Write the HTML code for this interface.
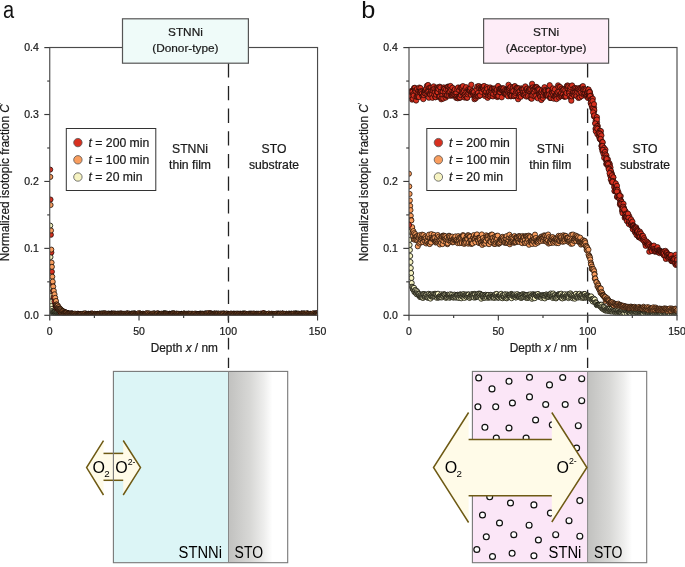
<!DOCTYPE html>
<html><head><meta charset="utf-8"><style>
html,body{margin:0;padding:0;background:#fff;}
svg{display:block;}
text{font-family:"Liberation Sans",Arial,sans-serif;fill:#1a1a1a;stroke:#1a1a1a;stroke-width:0.22px;}
.tk{font-size:10.5px;}
.lb{font-size:12.2px;}
.hd{font-size:11.8px;}
.big{font-size:23px;fill:#111;stroke:none;}
.dg{font-size:14.5px;fill:#000;stroke:none;}
</style></head><body>
<svg width="685" height="567" viewBox="0 0 685 567">
<defs>
<linearGradient id="gr" x1="0" x2="1" y1="0" y2="0">
<stop offset="0" stop-color="#c1c1bf"/><stop offset="0.5" stop-color="#d8d8d6"/><stop offset="0.8" stop-color="#ededec"/><stop offset="1" stop-color="#ffffff"/>
</linearGradient>
</defs>
<text x="3" y="18" class="big" transform="translate(3,0) scale(0.87,1) translate(-3,0)">a</text>
<text x="361.3" y="17.6" class="big" transform="translate(361.3,0) scale(1.1,1) translate(-361.3,0)">b</text>

<!-- dashed lines -->
<line x1="228.5" y1="63.3" x2="228.5" y2="368" stroke="#222" stroke-width="1.3" stroke-dasharray="14.3 8.35"/>
<line x1="587.6" y1="63.3" x2="587.6" y2="368" stroke="#222" stroke-width="1.3" stroke-dasharray="14.3 8.35"/>

<clipPath id="ca"><rect x="50" y="40" width="268" height="275.3"/></clipPath>
<g clip-path="url(#ca)"><g fill="#f6f3c2" stroke="#16160e" stroke-width="0.85">
<circle cx="50.2" cy="225.6" r="2.55"/>
<circle cx="50.5" cy="257.0" r="2.55"/>
<circle cx="50.7" cy="275.0" r="2.55"/>
<circle cx="50.9" cy="288.0" r="2.55"/>
<circle cx="51.0" cy="296.0" r="2.55"/>
<circle cx="51.2" cy="302.0" r="2.55"/>
<circle cx="51.4" cy="306.0" r="2.55"/>
<circle cx="51.7" cy="309.0" r="2.55"/>
<circle cx="52.0" cy="311.0" r="2.55"/>
<circle cx="52.5" cy="312.5" r="2.55"/>
<circle cx="52.8" cy="312.3" r="2.55"/>
<circle cx="53.1" cy="312.1" r="2.55"/>
<circle cx="53.4" cy="313.2" r="2.55"/>
<circle cx="53.7" cy="312.8" r="2.55"/>
<circle cx="54.0" cy="312.6" r="2.55"/>
<circle cx="54.3" cy="312.3" r="2.55"/>
<circle cx="54.6" cy="312.2" r="2.55"/>
<circle cx="54.9" cy="312.8" r="2.55"/>
<circle cx="55.2" cy="312.1" r="2.55"/>
<circle cx="55.5" cy="312.9" r="2.55"/>
<circle cx="55.8" cy="313.1" r="2.55"/>
<circle cx="56.1" cy="312.5" r="2.55"/>
<circle cx="56.4" cy="313.8" r="2.55"/>
<circle cx="56.7" cy="312.8" r="2.55"/>
<circle cx="57.0" cy="312.7" r="2.55"/>
<circle cx="57.3" cy="312.8" r="2.55"/>
<circle cx="57.6" cy="313.6" r="2.55"/>
<circle cx="57.9" cy="313.4" r="2.55"/>
<circle cx="58.2" cy="313.6" r="2.55"/>
<circle cx="58.5" cy="314.6" r="2.55"/>
<circle cx="58.8" cy="313.6" r="2.55"/>
<circle cx="59.1" cy="313.0" r="2.55"/>
<circle cx="59.4" cy="314.1" r="2.55"/>
<circle cx="59.7" cy="313.3" r="2.55"/>
<circle cx="60.0" cy="313.3" r="2.55"/>
<circle cx="60.3" cy="313.3" r="2.55"/>
<circle cx="60.6" cy="314.0" r="2.55"/>
<circle cx="60.9" cy="314.8" r="2.55"/>
<circle cx="61.2" cy="314.8" r="2.55"/>
<circle cx="61.5" cy="314.1" r="2.55"/>
<circle cx="61.8" cy="313.9" r="2.55"/>
<circle cx="62.1" cy="314.6" r="2.55"/>
<circle cx="62.4" cy="314.3" r="2.55"/>
<circle cx="62.7" cy="314.3" r="2.55"/>
<circle cx="63.0" cy="314.4" r="2.55"/>
<circle cx="63.3" cy="314.3" r="2.55"/>
<circle cx="63.6" cy="314.0" r="2.55"/>
<circle cx="63.9" cy="314.0" r="2.55"/>
<circle cx="64.2" cy="313.3" r="2.55"/>
<circle cx="64.5" cy="313.1" r="2.55"/>
<circle cx="64.8" cy="314.8" r="2.55"/>
<circle cx="65.1" cy="314.3" r="2.55"/>
<circle cx="65.4" cy="314.0" r="2.55"/>
<circle cx="65.7" cy="313.1" r="2.55"/>
<circle cx="66.0" cy="313.2" r="2.55"/>
<circle cx="66.3" cy="314.0" r="2.55"/>
<circle cx="66.6" cy="314.1" r="2.55"/>
<circle cx="66.9" cy="314.0" r="2.55"/>
<circle cx="67.2" cy="313.8" r="2.55"/>
<circle cx="67.5" cy="314.8" r="2.55"/>
<circle cx="67.8" cy="314.8" r="2.55"/>
<circle cx="68.1" cy="313.4" r="2.55"/>
<circle cx="68.4" cy="314.3" r="2.55"/>
<circle cx="68.7" cy="313.8" r="2.55"/>
<circle cx="69.0" cy="314.1" r="2.55"/>
<circle cx="69.3" cy="314.9" r="2.55"/>
<circle cx="69.6" cy="314.4" r="2.55"/>
<circle cx="69.9" cy="315.0" r="2.55"/>
<circle cx="70.2" cy="314.4" r="2.55"/>
<circle cx="70.5" cy="314.3" r="2.55"/>
<circle cx="70.8" cy="314.4" r="2.55"/>
<circle cx="71.1" cy="314.9" r="2.55"/>
<circle cx="71.4" cy="314.6" r="2.55"/>
<circle cx="71.7" cy="313.9" r="2.55"/>
<circle cx="72.0" cy="313.7" r="2.55"/>
<circle cx="72.3" cy="314.8" r="2.55"/>
<circle cx="72.6" cy="315.4" r="2.55"/>
<circle cx="72.9" cy="314.4" r="2.55"/>
<circle cx="73.2" cy="314.7" r="2.55"/>
<circle cx="73.5" cy="313.9" r="2.55"/>
<circle cx="73.8" cy="315.3" r="2.55"/>
<circle cx="74.1" cy="314.2" r="2.55"/>
<circle cx="74.4" cy="314.7" r="2.55"/>
<circle cx="74.7" cy="314.3" r="2.55"/>
<circle cx="75.0" cy="315.0" r="2.55"/>
<circle cx="75.3" cy="315.2" r="2.55"/>
<circle cx="75.6" cy="314.5" r="2.55"/>
<circle cx="75.9" cy="314.6" r="2.55"/>
<circle cx="76.2" cy="315.0" r="2.55"/>
<circle cx="76.5" cy="314.8" r="2.55"/>
<circle cx="76.8" cy="314.0" r="2.55"/>
<circle cx="77.1" cy="314.1" r="2.55"/>
<circle cx="77.4" cy="315.2" r="2.55"/>
<circle cx="77.7" cy="315.3" r="2.55"/>
<circle cx="78.0" cy="314.5" r="2.55"/>
<circle cx="78.3" cy="314.5" r="2.55"/>
<circle cx="78.6" cy="314.5" r="2.55"/>
<circle cx="78.9" cy="314.9" r="2.55"/>
<circle cx="79.2" cy="314.9" r="2.55"/>
<circle cx="79.5" cy="315.0" r="2.55"/>
<circle cx="79.8" cy="314.7" r="2.55"/>
<circle cx="80.1" cy="314.7" r="2.55"/>
<circle cx="80.4" cy="314.6" r="2.55"/>
<circle cx="80.7" cy="314.5" r="2.55"/>
<circle cx="81.0" cy="315.2" r="2.55"/>
<circle cx="81.3" cy="315.4" r="2.55"/>
<circle cx="81.6" cy="314.8" r="2.55"/>
<circle cx="81.9" cy="314.0" r="2.55"/>
<circle cx="82.2" cy="314.1" r="2.55"/>
<circle cx="82.5" cy="314.9" r="2.55"/>
<circle cx="82.8" cy="315.2" r="2.55"/>
<circle cx="83.1" cy="313.8" r="2.55"/>
<circle cx="83.4" cy="315.3" r="2.55"/>
<circle cx="83.7" cy="314.7" r="2.55"/>
<circle cx="84.0" cy="315.4" r="2.55"/>
<circle cx="84.3" cy="314.1" r="2.55"/>
<circle cx="84.6" cy="314.5" r="2.55"/>
<circle cx="84.9" cy="314.9" r="2.55"/>
<circle cx="85.2" cy="314.6" r="2.55"/>
<circle cx="85.5" cy="315.0" r="2.55"/>
<circle cx="85.8" cy="313.7" r="2.55"/>
<circle cx="86.1" cy="314.4" r="2.55"/>
<circle cx="86.4" cy="313.9" r="2.55"/>
<circle cx="86.7" cy="314.3" r="2.55"/>
<circle cx="87.0" cy="314.8" r="2.55"/>
<circle cx="87.3" cy="314.8" r="2.55"/>
<circle cx="87.6" cy="315.0" r="2.55"/>
<circle cx="87.9" cy="315.2" r="2.55"/>
<circle cx="88.2" cy="315.0" r="2.55"/>
<circle cx="88.5" cy="313.7" r="2.55"/>
<circle cx="88.8" cy="315.2" r="2.55"/>
<circle cx="89.1" cy="314.8" r="2.55"/>
<circle cx="89.4" cy="314.1" r="2.55"/>
<circle cx="89.7" cy="314.5" r="2.55"/>
<circle cx="90.0" cy="314.8" r="2.55"/>
<circle cx="90.3" cy="314.0" r="2.55"/>
<circle cx="90.6" cy="313.9" r="2.55"/>
<circle cx="90.9" cy="315.1" r="2.55"/>
<circle cx="91.2" cy="314.3" r="2.55"/>
<circle cx="91.5" cy="314.1" r="2.55"/>
<circle cx="91.8" cy="314.3" r="2.55"/>
<circle cx="92.1" cy="314.1" r="2.55"/>
<circle cx="92.4" cy="313.9" r="2.55"/>
<circle cx="92.7" cy="314.8" r="2.55"/>
<circle cx="93.0" cy="315.3" r="2.55"/>
<circle cx="93.3" cy="314.7" r="2.55"/>
<circle cx="93.6" cy="315.1" r="2.55"/>
<circle cx="93.9" cy="314.6" r="2.55"/>
<circle cx="94.2" cy="314.8" r="2.55"/>
<circle cx="94.5" cy="314.0" r="2.55"/>
<circle cx="94.8" cy="315.5" r="2.55"/>
<circle cx="95.1" cy="313.9" r="2.55"/>
<circle cx="95.4" cy="315.1" r="2.55"/>
<circle cx="95.7" cy="314.4" r="2.55"/>
<circle cx="96.0" cy="314.2" r="2.55"/>
<circle cx="96.3" cy="314.7" r="2.55"/>
<circle cx="96.6" cy="315.0" r="2.55"/>
<circle cx="96.9" cy="314.9" r="2.55"/>
<circle cx="97.2" cy="314.8" r="2.55"/>
<circle cx="97.5" cy="313.9" r="2.55"/>
<circle cx="97.8" cy="314.4" r="2.55"/>
<circle cx="98.1" cy="315.1" r="2.55"/>
<circle cx="98.4" cy="314.2" r="2.55"/>
<circle cx="98.7" cy="314.7" r="2.55"/>
<circle cx="99.0" cy="315.4" r="2.55"/>
<circle cx="99.3" cy="314.2" r="2.55"/>
<circle cx="99.6" cy="314.2" r="2.55"/>
<circle cx="99.9" cy="313.7" r="2.55"/>
<circle cx="100.2" cy="314.4" r="2.55"/>
<circle cx="100.5" cy="314.0" r="2.55"/>
<circle cx="100.8" cy="314.1" r="2.55"/>
<circle cx="101.1" cy="315.1" r="2.55"/>
<circle cx="101.4" cy="314.5" r="2.55"/>
<circle cx="101.7" cy="314.9" r="2.55"/>
<circle cx="102.0" cy="314.3" r="2.55"/>
<circle cx="102.3" cy="313.2" r="2.55"/>
<circle cx="102.6" cy="315.3" r="2.55"/>
<circle cx="102.9" cy="314.9" r="2.55"/>
<circle cx="103.2" cy="315.6" r="2.55"/>
<circle cx="103.5" cy="314.8" r="2.55"/>
<circle cx="103.8" cy="314.8" r="2.55"/>
<circle cx="104.1" cy="314.4" r="2.55"/>
<circle cx="104.4" cy="313.6" r="2.55"/>
<circle cx="104.7" cy="314.1" r="2.55"/>
<circle cx="105.0" cy="314.8" r="2.55"/>
<circle cx="105.3" cy="313.8" r="2.55"/>
<circle cx="105.6" cy="314.2" r="2.55"/>
<circle cx="105.9" cy="314.2" r="2.55"/>
<circle cx="106.2" cy="313.8" r="2.55"/>
<circle cx="106.5" cy="314.4" r="2.55"/>
<circle cx="106.8" cy="314.8" r="2.55"/>
<circle cx="107.1" cy="315.0" r="2.55"/>
<circle cx="107.4" cy="314.5" r="2.55"/>
<circle cx="107.7" cy="315.4" r="2.55"/>
<circle cx="108.0" cy="313.7" r="2.55"/>
<circle cx="108.3" cy="315.1" r="2.55"/>
<circle cx="108.6" cy="313.8" r="2.55"/>
<circle cx="108.9" cy="315.5" r="2.55"/>
<circle cx="109.2" cy="313.7" r="2.55"/>
<circle cx="109.5" cy="314.6" r="2.55"/>
<circle cx="109.8" cy="314.0" r="2.55"/>
<circle cx="110.1" cy="315.3" r="2.55"/>
<circle cx="110.4" cy="313.9" r="2.55"/>
<circle cx="110.7" cy="315.6" r="2.55"/>
<circle cx="111.0" cy="314.8" r="2.55"/>
<circle cx="111.3" cy="313.9" r="2.55"/>
<circle cx="111.6" cy="313.7" r="2.55"/>
<circle cx="111.9" cy="314.6" r="2.55"/>
<circle cx="112.2" cy="314.8" r="2.55"/>
<circle cx="112.5" cy="314.8" r="2.55"/>
<circle cx="112.8" cy="313.9" r="2.55"/>
<circle cx="113.1" cy="315.4" r="2.55"/>
<circle cx="113.4" cy="314.8" r="2.55"/>
<circle cx="113.7" cy="314.4" r="2.55"/>
<circle cx="114.0" cy="315.4" r="2.55"/>
<circle cx="114.3" cy="314.2" r="2.55"/>
<circle cx="114.6" cy="314.7" r="2.55"/>
<circle cx="114.9" cy="314.3" r="2.55"/>
<circle cx="115.2" cy="313.8" r="2.55"/>
<circle cx="115.5" cy="313.8" r="2.55"/>
<circle cx="115.8" cy="314.4" r="2.55"/>
<circle cx="116.1" cy="315.2" r="2.55"/>
<circle cx="116.4" cy="314.5" r="2.55"/>
<circle cx="116.7" cy="314.6" r="2.55"/>
<circle cx="117.0" cy="314.4" r="2.55"/>
<circle cx="117.3" cy="315.2" r="2.55"/>
<circle cx="117.6" cy="314.2" r="2.55"/>
<circle cx="117.9" cy="315.6" r="2.55"/>
<circle cx="118.2" cy="313.6" r="2.55"/>
<circle cx="118.5" cy="315.0" r="2.55"/>
<circle cx="118.8" cy="314.8" r="2.55"/>
<circle cx="119.1" cy="314.1" r="2.55"/>
<circle cx="119.4" cy="314.8" r="2.55"/>
<circle cx="119.7" cy="314.3" r="2.55"/>
<circle cx="120.0" cy="313.9" r="2.55"/>
<circle cx="120.3" cy="315.1" r="2.55"/>
<circle cx="120.6" cy="315.3" r="2.55"/>
<circle cx="120.9" cy="314.1" r="2.55"/>
<circle cx="121.2" cy="314.0" r="2.55"/>
<circle cx="121.5" cy="314.7" r="2.55"/>
<circle cx="121.8" cy="314.7" r="2.55"/>
<circle cx="122.1" cy="314.8" r="2.55"/>
<circle cx="122.4" cy="314.5" r="2.55"/>
<circle cx="122.7" cy="314.4" r="2.55"/>
<circle cx="123.0" cy="315.6" r="2.55"/>
<circle cx="123.3" cy="315.5" r="2.55"/>
<circle cx="123.6" cy="315.3" r="2.55"/>
<circle cx="123.9" cy="314.4" r="2.55"/>
<circle cx="124.2" cy="315.9" r="2.55"/>
<circle cx="124.5" cy="314.9" r="2.55"/>
<circle cx="124.8" cy="314.2" r="2.55"/>
<circle cx="125.1" cy="314.8" r="2.55"/>
<circle cx="125.4" cy="314.0" r="2.55"/>
<circle cx="125.7" cy="314.7" r="2.55"/>
<circle cx="126.0" cy="314.9" r="2.55"/>
<circle cx="126.3" cy="315.3" r="2.55"/>
<circle cx="126.6" cy="314.6" r="2.55"/>
<circle cx="126.9" cy="315.9" r="2.55"/>
<circle cx="127.2" cy="313.6" r="2.55"/>
<circle cx="127.5" cy="313.7" r="2.55"/>
<circle cx="127.8" cy="314.2" r="2.55"/>
<circle cx="128.1" cy="314.3" r="2.55"/>
<circle cx="128.4" cy="314.6" r="2.55"/>
<circle cx="128.7" cy="314.1" r="2.55"/>
<circle cx="129.0" cy="314.0" r="2.55"/>
<circle cx="129.3" cy="315.3" r="2.55"/>
<circle cx="129.6" cy="314.5" r="2.55"/>
<circle cx="129.9" cy="315.1" r="2.55"/>
<circle cx="130.2" cy="314.2" r="2.55"/>
<circle cx="130.5" cy="314.7" r="2.55"/>
<circle cx="130.8" cy="314.8" r="2.55"/>
<circle cx="131.1" cy="314.5" r="2.55"/>
<circle cx="131.4" cy="314.2" r="2.55"/>
<circle cx="131.7" cy="314.4" r="2.55"/>
<circle cx="132.0" cy="313.5" r="2.55"/>
<circle cx="132.3" cy="314.0" r="2.55"/>
<circle cx="132.6" cy="313.8" r="2.55"/>
<circle cx="132.9" cy="314.5" r="2.55"/>
<circle cx="133.2" cy="314.4" r="2.55"/>
<circle cx="133.5" cy="313.8" r="2.55"/>
<circle cx="133.8" cy="314.8" r="2.55"/>
<circle cx="134.1" cy="314.9" r="2.55"/>
<circle cx="134.4" cy="313.8" r="2.55"/>
<circle cx="134.7" cy="314.4" r="2.55"/>
<circle cx="135.0" cy="313.6" r="2.55"/>
<circle cx="135.3" cy="314.4" r="2.55"/>
<circle cx="135.6" cy="314.7" r="2.55"/>
<circle cx="135.9" cy="314.2" r="2.55"/>
<circle cx="136.2" cy="314.4" r="2.55"/>
<circle cx="136.5" cy="314.9" r="2.55"/>
<circle cx="136.8" cy="314.4" r="2.55"/>
<circle cx="137.1" cy="315.1" r="2.55"/>
<circle cx="137.4" cy="314.7" r="2.55"/>
<circle cx="137.7" cy="314.5" r="2.55"/>
<circle cx="138.0" cy="314.3" r="2.55"/>
<circle cx="138.3" cy="314.3" r="2.55"/>
<circle cx="138.6" cy="314.8" r="2.55"/>
<circle cx="138.9" cy="314.6" r="2.55"/>
<circle cx="139.2" cy="315.1" r="2.55"/>
<circle cx="139.5" cy="314.7" r="2.55"/>
<circle cx="139.8" cy="313.7" r="2.55"/>
<circle cx="140.1" cy="314.3" r="2.55"/>
<circle cx="140.4" cy="315.6" r="2.55"/>
<circle cx="140.7" cy="315.0" r="2.55"/>
<circle cx="141.0" cy="314.2" r="2.55"/>
<circle cx="141.3" cy="314.8" r="2.55"/>
<circle cx="141.6" cy="315.0" r="2.55"/>
<circle cx="141.9" cy="314.7" r="2.55"/>
<circle cx="142.2" cy="314.4" r="2.55"/>
<circle cx="142.5" cy="314.5" r="2.55"/>
<circle cx="142.8" cy="314.5" r="2.55"/>
<circle cx="143.1" cy="314.4" r="2.55"/>
<circle cx="143.4" cy="313.9" r="2.55"/>
<circle cx="143.7" cy="314.4" r="2.55"/>
<circle cx="144.0" cy="314.0" r="2.55"/>
<circle cx="144.3" cy="314.1" r="2.55"/>
<circle cx="144.6" cy="314.7" r="2.55"/>
<circle cx="144.9" cy="315.3" r="2.55"/>
<circle cx="145.2" cy="314.2" r="2.55"/>
<circle cx="145.5" cy="313.8" r="2.55"/>
<circle cx="145.8" cy="314.2" r="2.55"/>
<circle cx="146.1" cy="314.9" r="2.55"/>
<circle cx="146.4" cy="313.8" r="2.55"/>
<circle cx="146.7" cy="315.3" r="2.55"/>
<circle cx="147.0" cy="314.1" r="2.55"/>
<circle cx="147.3" cy="314.5" r="2.55"/>
<circle cx="147.6" cy="314.3" r="2.55"/>
<circle cx="147.9" cy="314.5" r="2.55"/>
<circle cx="148.2" cy="314.7" r="2.55"/>
<circle cx="148.5" cy="314.7" r="2.55"/>
<circle cx="148.8" cy="314.4" r="2.55"/>
<circle cx="149.1" cy="314.1" r="2.55"/>
<circle cx="149.4" cy="314.0" r="2.55"/>
<circle cx="149.7" cy="314.3" r="2.55"/>
<circle cx="150.0" cy="313.7" r="2.55"/>
<circle cx="150.3" cy="314.1" r="2.55"/>
<circle cx="150.6" cy="315.0" r="2.55"/>
<circle cx="150.9" cy="315.7" r="2.55"/>
<circle cx="151.2" cy="315.3" r="2.55"/>
<circle cx="151.5" cy="314.6" r="2.55"/>
<circle cx="151.8" cy="314.3" r="2.55"/>
<circle cx="152.1" cy="315.2" r="2.55"/>
<circle cx="152.4" cy="314.7" r="2.55"/>
<circle cx="152.7" cy="314.5" r="2.55"/>
<circle cx="153.0" cy="314.0" r="2.55"/>
<circle cx="153.3" cy="314.2" r="2.55"/>
<circle cx="153.6" cy="314.3" r="2.55"/>
<circle cx="153.9" cy="315.1" r="2.55"/>
<circle cx="154.2" cy="313.7" r="2.55"/>
<circle cx="154.5" cy="314.5" r="2.55"/>
<circle cx="154.8" cy="313.6" r="2.55"/>
<circle cx="155.1" cy="314.7" r="2.55"/>
<circle cx="155.4" cy="314.1" r="2.55"/>
<circle cx="155.7" cy="315.0" r="2.55"/>
<circle cx="156.0" cy="315.0" r="2.55"/>
<circle cx="156.3" cy="314.3" r="2.55"/>
<circle cx="156.6" cy="314.6" r="2.55"/>
<circle cx="156.9" cy="314.4" r="2.55"/>
<circle cx="157.2" cy="313.8" r="2.55"/>
<circle cx="157.5" cy="314.2" r="2.55"/>
<circle cx="157.8" cy="314.3" r="2.55"/>
<circle cx="158.1" cy="315.3" r="2.55"/>
<circle cx="158.4" cy="313.8" r="2.55"/>
<circle cx="158.7" cy="314.0" r="2.55"/>
<circle cx="159.0" cy="314.3" r="2.55"/>
<circle cx="159.3" cy="315.6" r="2.55"/>
<circle cx="159.6" cy="314.2" r="2.55"/>
<circle cx="159.9" cy="314.4" r="2.55"/>
<circle cx="160.2" cy="314.8" r="2.55"/>
<circle cx="160.5" cy="315.4" r="2.55"/>
<circle cx="160.8" cy="314.5" r="2.55"/>
<circle cx="161.1" cy="314.8" r="2.55"/>
<circle cx="161.4" cy="314.2" r="2.55"/>
<circle cx="161.7" cy="315.3" r="2.55"/>
<circle cx="162.0" cy="315.5" r="2.55"/>
<circle cx="162.3" cy="314.7" r="2.55"/>
<circle cx="162.6" cy="314.4" r="2.55"/>
<circle cx="162.9" cy="315.5" r="2.55"/>
<circle cx="163.2" cy="314.1" r="2.55"/>
<circle cx="163.5" cy="313.6" r="2.55"/>
<circle cx="163.8" cy="315.1" r="2.55"/>
<circle cx="164.1" cy="314.9" r="2.55"/>
<circle cx="164.4" cy="313.6" r="2.55"/>
<circle cx="164.7" cy="313.4" r="2.55"/>
<circle cx="165.0" cy="313.4" r="2.55"/>
<circle cx="165.3" cy="314.5" r="2.55"/>
<circle cx="165.6" cy="313.7" r="2.55"/>
<circle cx="165.9" cy="314.8" r="2.55"/>
<circle cx="166.2" cy="315.1" r="2.55"/>
<circle cx="166.5" cy="313.7" r="2.55"/>
<circle cx="166.8" cy="314.8" r="2.55"/>
<circle cx="167.1" cy="314.4" r="2.55"/>
<circle cx="167.4" cy="314.1" r="2.55"/>
<circle cx="167.7" cy="313.8" r="2.55"/>
<circle cx="168.0" cy="314.6" r="2.55"/>
<circle cx="168.3" cy="314.6" r="2.55"/>
<circle cx="168.6" cy="314.1" r="2.55"/>
<circle cx="168.9" cy="314.4" r="2.55"/>
<circle cx="169.2" cy="313.8" r="2.55"/>
<circle cx="169.5" cy="314.2" r="2.55"/>
<circle cx="169.8" cy="314.2" r="2.55"/>
<circle cx="170.1" cy="314.1" r="2.55"/>
<circle cx="170.4" cy="314.7" r="2.55"/>
<circle cx="170.7" cy="314.9" r="2.55"/>
<circle cx="171.0" cy="313.8" r="2.55"/>
<circle cx="171.3" cy="315.4" r="2.55"/>
<circle cx="171.6" cy="314.9" r="2.55"/>
<circle cx="171.9" cy="313.6" r="2.55"/>
<circle cx="172.2" cy="313.5" r="2.55"/>
<circle cx="172.5" cy="315.0" r="2.55"/>
<circle cx="172.8" cy="314.3" r="2.55"/>
<circle cx="173.1" cy="313.6" r="2.55"/>
<circle cx="173.4" cy="314.8" r="2.55"/>
<circle cx="173.7" cy="314.3" r="2.55"/>
<circle cx="174.0" cy="314.8" r="2.55"/>
<circle cx="174.3" cy="314.7" r="2.55"/>
<circle cx="174.6" cy="314.6" r="2.55"/>
<circle cx="174.9" cy="313.9" r="2.55"/>
<circle cx="175.2" cy="313.9" r="2.55"/>
<circle cx="175.5" cy="315.0" r="2.55"/>
<circle cx="175.8" cy="315.2" r="2.55"/>
<circle cx="176.1" cy="313.8" r="2.55"/>
<circle cx="176.4" cy="314.6" r="2.55"/>
<circle cx="176.7" cy="314.4" r="2.55"/>
<circle cx="177.0" cy="314.2" r="2.55"/>
<circle cx="177.3" cy="315.0" r="2.55"/>
<circle cx="177.6" cy="315.2" r="2.55"/>
<circle cx="177.9" cy="314.2" r="2.55"/>
<circle cx="178.2" cy="314.9" r="2.55"/>
<circle cx="178.5" cy="314.8" r="2.55"/>
<circle cx="178.8" cy="313.9" r="2.55"/>
<circle cx="179.1" cy="315.6" r="2.55"/>
<circle cx="179.4" cy="314.5" r="2.55"/>
<circle cx="179.7" cy="315.1" r="2.55"/>
<circle cx="180.0" cy="314.2" r="2.55"/>
<circle cx="180.3" cy="314.2" r="2.55"/>
<circle cx="180.6" cy="314.1" r="2.55"/>
<circle cx="180.9" cy="315.4" r="2.55"/>
<circle cx="181.2" cy="315.4" r="2.55"/>
<circle cx="181.5" cy="313.8" r="2.55"/>
<circle cx="181.8" cy="314.6" r="2.55"/>
<circle cx="182.1" cy="314.1" r="2.55"/>
<circle cx="182.4" cy="315.6" r="2.55"/>
<circle cx="182.7" cy="315.0" r="2.55"/>
<circle cx="183.0" cy="315.0" r="2.55"/>
<circle cx="183.3" cy="314.9" r="2.55"/>
<circle cx="183.6" cy="313.7" r="2.55"/>
<circle cx="183.9" cy="314.4" r="2.55"/>
<circle cx="184.2" cy="314.8" r="2.55"/>
<circle cx="184.5" cy="315.9" r="2.55"/>
<circle cx="184.8" cy="313.8" r="2.55"/>
<circle cx="185.1" cy="314.4" r="2.55"/>
<circle cx="185.4" cy="314.4" r="2.55"/>
<circle cx="185.7" cy="314.0" r="2.55"/>
<circle cx="186.0" cy="314.0" r="2.55"/>
<circle cx="186.3" cy="314.2" r="2.55"/>
<circle cx="186.6" cy="314.2" r="2.55"/>
<circle cx="186.9" cy="314.9" r="2.55"/>
<circle cx="187.2" cy="314.8" r="2.55"/>
<circle cx="187.5" cy="315.7" r="2.55"/>
<circle cx="187.8" cy="313.9" r="2.55"/>
<circle cx="188.1" cy="315.2" r="2.55"/>
<circle cx="188.4" cy="315.0" r="2.55"/>
<circle cx="188.7" cy="314.4" r="2.55"/>
<circle cx="189.0" cy="314.8" r="2.55"/>
<circle cx="189.3" cy="314.4" r="2.55"/>
<circle cx="189.6" cy="314.4" r="2.55"/>
<circle cx="189.9" cy="314.1" r="2.55"/>
<circle cx="190.2" cy="315.3" r="2.55"/>
<circle cx="190.5" cy="314.4" r="2.55"/>
<circle cx="190.8" cy="315.3" r="2.55"/>
<circle cx="191.1" cy="314.1" r="2.55"/>
<circle cx="191.4" cy="314.3" r="2.55"/>
<circle cx="191.7" cy="315.6" r="2.55"/>
<circle cx="192.0" cy="313.9" r="2.55"/>
<circle cx="192.3" cy="314.2" r="2.55"/>
<circle cx="192.6" cy="315.5" r="2.55"/>
<circle cx="192.9" cy="315.0" r="2.55"/>
<circle cx="193.2" cy="314.7" r="2.55"/>
<circle cx="193.5" cy="314.5" r="2.55"/>
<circle cx="193.8" cy="314.4" r="2.55"/>
<circle cx="194.1" cy="315.2" r="2.55"/>
<circle cx="194.4" cy="314.5" r="2.55"/>
<circle cx="194.7" cy="315.2" r="2.55"/>
<circle cx="195.0" cy="313.9" r="2.55"/>
<circle cx="195.3" cy="314.0" r="2.55"/>
<circle cx="195.6" cy="315.4" r="2.55"/>
<circle cx="195.9" cy="314.4" r="2.55"/>
<circle cx="196.2" cy="314.5" r="2.55"/>
<circle cx="196.5" cy="314.0" r="2.55"/>
<circle cx="196.8" cy="314.3" r="2.55"/>
<circle cx="197.1" cy="314.1" r="2.55"/>
<circle cx="197.4" cy="314.8" r="2.55"/>
<circle cx="197.7" cy="315.2" r="2.55"/>
<circle cx="198.0" cy="314.8" r="2.55"/>
<circle cx="198.3" cy="314.7" r="2.55"/>
<circle cx="198.6" cy="315.8" r="2.55"/>
<circle cx="198.9" cy="314.1" r="2.55"/>
<circle cx="199.2" cy="315.4" r="2.55"/>
<circle cx="199.5" cy="314.6" r="2.55"/>
<circle cx="199.8" cy="313.8" r="2.55"/>
<circle cx="200.1" cy="314.4" r="2.55"/>
<circle cx="200.4" cy="313.6" r="2.55"/>
<circle cx="200.7" cy="313.8" r="2.55"/>
<circle cx="201.0" cy="315.2" r="2.55"/>
<circle cx="201.3" cy="314.6" r="2.55"/>
<circle cx="201.6" cy="314.1" r="2.55"/>
<circle cx="201.9" cy="315.2" r="2.55"/>
<circle cx="202.2" cy="314.6" r="2.55"/>
<circle cx="202.5" cy="315.2" r="2.55"/>
<circle cx="202.8" cy="314.0" r="2.55"/>
<circle cx="203.1" cy="314.5" r="2.55"/>
<circle cx="203.4" cy="314.9" r="2.55"/>
<circle cx="203.7" cy="314.5" r="2.55"/>
<circle cx="204.0" cy="314.7" r="2.55"/>
<circle cx="204.3" cy="314.9" r="2.55"/>
<circle cx="204.6" cy="314.7" r="2.55"/>
<circle cx="204.9" cy="314.6" r="2.55"/>
<circle cx="205.2" cy="314.3" r="2.55"/>
<circle cx="205.5" cy="313.5" r="2.55"/>
<circle cx="205.8" cy="313.7" r="2.55"/>
<circle cx="206.1" cy="315.0" r="2.55"/>
<circle cx="206.4" cy="313.5" r="2.55"/>
<circle cx="206.7" cy="314.2" r="2.55"/>
<circle cx="207.0" cy="314.5" r="2.55"/>
<circle cx="207.3" cy="314.4" r="2.55"/>
<circle cx="207.6" cy="315.8" r="2.55"/>
<circle cx="207.9" cy="314.4" r="2.55"/>
<circle cx="208.2" cy="314.3" r="2.55"/>
<circle cx="208.5" cy="314.1" r="2.55"/>
<circle cx="208.8" cy="314.9" r="2.55"/>
<circle cx="209.1" cy="314.5" r="2.55"/>
<circle cx="209.4" cy="314.9" r="2.55"/>
<circle cx="209.7" cy="315.6" r="2.55"/>
<circle cx="210.0" cy="314.2" r="2.55"/>
<circle cx="210.3" cy="314.9" r="2.55"/>
<circle cx="210.6" cy="313.8" r="2.55"/>
<circle cx="210.9" cy="313.6" r="2.55"/>
<circle cx="211.2" cy="314.8" r="2.55"/>
<circle cx="211.5" cy="315.3" r="2.55"/>
<circle cx="211.8" cy="314.9" r="2.55"/>
<circle cx="212.1" cy="315.2" r="2.55"/>
<circle cx="212.4" cy="314.5" r="2.55"/>
<circle cx="212.7" cy="314.7" r="2.55"/>
<circle cx="213.0" cy="314.4" r="2.55"/>
<circle cx="213.3" cy="315.0" r="2.55"/>
<circle cx="213.6" cy="315.6" r="2.55"/>
<circle cx="213.9" cy="314.7" r="2.55"/>
<circle cx="214.2" cy="313.6" r="2.55"/>
<circle cx="214.5" cy="315.4" r="2.55"/>
<circle cx="214.8" cy="314.1" r="2.55"/>
<circle cx="215.1" cy="315.1" r="2.55"/>
<circle cx="215.4" cy="314.2" r="2.55"/>
<circle cx="215.7" cy="314.1" r="2.55"/>
<circle cx="216.0" cy="314.3" r="2.55"/>
<circle cx="216.3" cy="314.5" r="2.55"/>
<circle cx="216.6" cy="315.1" r="2.55"/>
<circle cx="216.9" cy="314.4" r="2.55"/>
<circle cx="217.2" cy="313.6" r="2.55"/>
<circle cx="217.5" cy="314.7" r="2.55"/>
<circle cx="217.8" cy="315.2" r="2.55"/>
<circle cx="218.1" cy="313.9" r="2.55"/>
<circle cx="218.4" cy="315.4" r="2.55"/>
<circle cx="218.7" cy="313.8" r="2.55"/>
<circle cx="219.0" cy="313.7" r="2.55"/>
<circle cx="219.3" cy="314.7" r="2.55"/>
<circle cx="219.6" cy="314.5" r="2.55"/>
<circle cx="219.9" cy="315.2" r="2.55"/>
<circle cx="220.2" cy="313.8" r="2.55"/>
<circle cx="220.5" cy="315.0" r="2.55"/>
<circle cx="220.8" cy="315.2" r="2.55"/>
<circle cx="221.1" cy="314.7" r="2.55"/>
<circle cx="221.4" cy="314.5" r="2.55"/>
<circle cx="221.7" cy="314.3" r="2.55"/>
<circle cx="222.0" cy="314.5" r="2.55"/>
<circle cx="222.3" cy="314.1" r="2.55"/>
<circle cx="222.6" cy="314.3" r="2.55"/>
<circle cx="222.9" cy="313.6" r="2.55"/>
<circle cx="223.2" cy="313.8" r="2.55"/>
<circle cx="223.5" cy="314.9" r="2.55"/>
<circle cx="223.8" cy="314.6" r="2.55"/>
<circle cx="224.1" cy="314.9" r="2.55"/>
<circle cx="224.4" cy="314.5" r="2.55"/>
<circle cx="224.7" cy="314.0" r="2.55"/>
<circle cx="225.0" cy="315.1" r="2.55"/>
<circle cx="225.3" cy="314.5" r="2.55"/>
<circle cx="225.6" cy="314.1" r="2.55"/>
<circle cx="225.9" cy="315.1" r="2.55"/>
<circle cx="226.2" cy="314.7" r="2.55"/>
<circle cx="226.5" cy="315.4" r="2.55"/>
<circle cx="226.8" cy="313.5" r="2.55"/>
<circle cx="227.1" cy="314.8" r="2.55"/>
<circle cx="227.4" cy="314.5" r="2.55"/>
<circle cx="227.7" cy="314.6" r="2.55"/>
<circle cx="228.0" cy="315.4" r="2.55"/>
<circle cx="228.3" cy="314.0" r="2.55"/>
<circle cx="228.6" cy="314.6" r="2.55"/>
<circle cx="228.9" cy="315.3" r="2.55"/>
<circle cx="229.2" cy="314.0" r="2.55"/>
<circle cx="229.5" cy="314.7" r="2.55"/>
<circle cx="229.8" cy="314.6" r="2.55"/>
<circle cx="230.1" cy="314.5" r="2.55"/>
<circle cx="230.4" cy="314.6" r="2.55"/>
<circle cx="230.7" cy="314.7" r="2.55"/>
<circle cx="231.0" cy="314.9" r="2.55"/>
<circle cx="231.3" cy="315.0" r="2.55"/>
<circle cx="231.6" cy="314.5" r="2.55"/>
<circle cx="231.9" cy="315.8" r="2.55"/>
<circle cx="232.2" cy="314.8" r="2.55"/>
<circle cx="232.5" cy="314.2" r="2.55"/>
<circle cx="232.8" cy="314.0" r="2.55"/>
<circle cx="233.1" cy="313.9" r="2.55"/>
<circle cx="233.4" cy="314.2" r="2.55"/>
<circle cx="233.7" cy="314.0" r="2.55"/>
<circle cx="234.0" cy="314.7" r="2.55"/>
<circle cx="234.3" cy="315.2" r="2.55"/>
<circle cx="234.6" cy="314.6" r="2.55"/>
<circle cx="234.9" cy="314.7" r="2.55"/>
<circle cx="235.2" cy="314.0" r="2.55"/>
<circle cx="235.5" cy="313.9" r="2.55"/>
<circle cx="235.8" cy="315.6" r="2.55"/>
<circle cx="236.1" cy="313.8" r="2.55"/>
<circle cx="236.4" cy="314.1" r="2.55"/>
<circle cx="236.7" cy="314.8" r="2.55"/>
<circle cx="237.0" cy="313.8" r="2.55"/>
<circle cx="237.3" cy="315.2" r="2.55"/>
<circle cx="237.6" cy="313.9" r="2.55"/>
<circle cx="237.9" cy="314.3" r="2.55"/>
<circle cx="238.2" cy="313.7" r="2.55"/>
<circle cx="238.5" cy="314.4" r="2.55"/>
<circle cx="238.8" cy="315.0" r="2.55"/>
<circle cx="239.1" cy="314.0" r="2.55"/>
<circle cx="239.4" cy="314.4" r="2.55"/>
<circle cx="239.7" cy="314.5" r="2.55"/>
<circle cx="240.0" cy="313.7" r="2.55"/>
<circle cx="240.3" cy="314.4" r="2.55"/>
<circle cx="240.6" cy="315.4" r="2.55"/>
<circle cx="240.9" cy="314.9" r="2.55"/>
<circle cx="241.2" cy="315.0" r="2.55"/>
<circle cx="241.5" cy="314.9" r="2.55"/>
<circle cx="241.8" cy="314.0" r="2.55"/>
<circle cx="242.1" cy="315.1" r="2.55"/>
<circle cx="242.4" cy="314.2" r="2.55"/>
<circle cx="242.7" cy="314.7" r="2.55"/>
<circle cx="243.0" cy="314.1" r="2.55"/>
<circle cx="243.3" cy="313.3" r="2.55"/>
<circle cx="243.6" cy="314.4" r="2.55"/>
<circle cx="243.9" cy="314.0" r="2.55"/>
<circle cx="244.2" cy="314.8" r="2.55"/>
<circle cx="244.5" cy="314.7" r="2.55"/>
<circle cx="244.8" cy="313.8" r="2.55"/>
<circle cx="245.1" cy="314.8" r="2.55"/>
<circle cx="245.4" cy="314.1" r="2.55"/>
<circle cx="245.7" cy="314.7" r="2.55"/>
<circle cx="246.0" cy="314.3" r="2.55"/>
<circle cx="246.3" cy="314.5" r="2.55"/>
<circle cx="246.6" cy="314.5" r="2.55"/>
<circle cx="246.9" cy="314.9" r="2.55"/>
<circle cx="247.2" cy="315.2" r="2.55"/>
<circle cx="247.5" cy="314.5" r="2.55"/>
<circle cx="247.8" cy="314.8" r="2.55"/>
<circle cx="248.1" cy="314.4" r="2.55"/>
<circle cx="248.4" cy="314.2" r="2.55"/>
<circle cx="248.7" cy="313.8" r="2.55"/>
<circle cx="249.0" cy="315.3" r="2.55"/>
<circle cx="249.3" cy="314.1" r="2.55"/>
<circle cx="249.6" cy="314.9" r="2.55"/>
<circle cx="249.9" cy="314.6" r="2.55"/>
<circle cx="250.2" cy="314.9" r="2.55"/>
<circle cx="250.5" cy="314.0" r="2.55"/>
<circle cx="250.8" cy="314.4" r="2.55"/>
<circle cx="251.1" cy="314.9" r="2.55"/>
<circle cx="251.4" cy="314.9" r="2.55"/>
<circle cx="251.7" cy="314.0" r="2.55"/>
<circle cx="252.0" cy="314.8" r="2.55"/>
<circle cx="252.3" cy="314.7" r="2.55"/>
<circle cx="252.6" cy="314.3" r="2.55"/>
<circle cx="252.9" cy="314.1" r="2.55"/>
<circle cx="253.2" cy="315.0" r="2.55"/>
<circle cx="253.5" cy="314.8" r="2.55"/>
<circle cx="253.8" cy="315.3" r="2.55"/>
<circle cx="254.1" cy="314.3" r="2.55"/>
<circle cx="254.4" cy="314.6" r="2.55"/>
<circle cx="254.7" cy="314.2" r="2.55"/>
<circle cx="255.0" cy="314.3" r="2.55"/>
<circle cx="255.3" cy="314.3" r="2.55"/>
<circle cx="255.6" cy="315.3" r="2.55"/>
<circle cx="255.9" cy="314.0" r="2.55"/>
<circle cx="256.2" cy="315.4" r="2.55"/>
<circle cx="256.5" cy="313.8" r="2.55"/>
<circle cx="256.8" cy="313.9" r="2.55"/>
<circle cx="257.1" cy="314.2" r="2.55"/>
<circle cx="257.4" cy="313.8" r="2.55"/>
<circle cx="257.7" cy="314.9" r="2.55"/>
<circle cx="258.0" cy="314.9" r="2.55"/>
<circle cx="258.3" cy="315.2" r="2.55"/>
<circle cx="258.6" cy="314.3" r="2.55"/>
<circle cx="258.9" cy="313.8" r="2.55"/>
<circle cx="259.2" cy="314.5" r="2.55"/>
<circle cx="259.5" cy="315.4" r="2.55"/>
<circle cx="259.8" cy="314.1" r="2.55"/>
<circle cx="260.1" cy="314.6" r="2.55"/>
<circle cx="260.4" cy="313.8" r="2.55"/>
<circle cx="260.7" cy="314.6" r="2.55"/>
<circle cx="261.0" cy="315.1" r="2.55"/>
<circle cx="261.3" cy="315.1" r="2.55"/>
<circle cx="261.6" cy="315.1" r="2.55"/>
<circle cx="261.9" cy="313.9" r="2.55"/>
<circle cx="262.2" cy="314.5" r="2.55"/>
<circle cx="262.5" cy="314.2" r="2.55"/>
<circle cx="262.8" cy="315.0" r="2.55"/>
<circle cx="263.1" cy="314.0" r="2.55"/>
<circle cx="263.4" cy="314.6" r="2.55"/>
<circle cx="263.7" cy="314.8" r="2.55"/>
<circle cx="264.0" cy="313.5" r="2.55"/>
<circle cx="264.3" cy="315.1" r="2.55"/>
<circle cx="264.6" cy="315.4" r="2.55"/>
<circle cx="264.9" cy="314.2" r="2.55"/>
<circle cx="265.2" cy="315.1" r="2.55"/>
<circle cx="265.5" cy="314.8" r="2.55"/>
<circle cx="265.8" cy="314.3" r="2.55"/>
<circle cx="266.1" cy="315.2" r="2.55"/>
<circle cx="266.4" cy="315.2" r="2.55"/>
<circle cx="266.7" cy="314.7" r="2.55"/>
<circle cx="267.0" cy="314.3" r="2.55"/>
<circle cx="267.3" cy="315.3" r="2.55"/>
<circle cx="267.6" cy="314.3" r="2.55"/>
<circle cx="267.9" cy="314.5" r="2.55"/>
<circle cx="268.2" cy="314.4" r="2.55"/>
<circle cx="268.5" cy="314.3" r="2.55"/>
<circle cx="268.8" cy="315.6" r="2.55"/>
<circle cx="269.1" cy="314.2" r="2.55"/>
<circle cx="269.4" cy="314.6" r="2.55"/>
<circle cx="269.7" cy="314.9" r="2.55"/>
<circle cx="270.0" cy="314.6" r="2.55"/>
<circle cx="270.3" cy="314.7" r="2.55"/>
<circle cx="270.6" cy="314.9" r="2.55"/>
<circle cx="270.9" cy="314.3" r="2.55"/>
<circle cx="271.2" cy="314.2" r="2.55"/>
<circle cx="271.5" cy="314.5" r="2.55"/>
<circle cx="271.8" cy="314.2" r="2.55"/>
<circle cx="272.1" cy="315.0" r="2.55"/>
<circle cx="272.4" cy="314.2" r="2.55"/>
<circle cx="272.7" cy="314.9" r="2.55"/>
<circle cx="273.0" cy="314.4" r="2.55"/>
<circle cx="273.3" cy="314.3" r="2.55"/>
<circle cx="273.6" cy="314.2" r="2.55"/>
<circle cx="273.9" cy="314.1" r="2.55"/>
<circle cx="274.2" cy="314.2" r="2.55"/>
<circle cx="274.5" cy="314.7" r="2.55"/>
<circle cx="274.8" cy="315.3" r="2.55"/>
<circle cx="275.1" cy="314.2" r="2.55"/>
<circle cx="275.4" cy="315.1" r="2.55"/>
<circle cx="275.7" cy="314.8" r="2.55"/>
<circle cx="276.0" cy="314.8" r="2.55"/>
<circle cx="276.3" cy="313.8" r="2.55"/>
<circle cx="276.6" cy="315.0" r="2.55"/>
<circle cx="276.9" cy="314.9" r="2.55"/>
<circle cx="277.2" cy="314.8" r="2.55"/>
<circle cx="277.5" cy="314.3" r="2.55"/>
<circle cx="277.8" cy="315.4" r="2.55"/>
<circle cx="278.1" cy="314.0" r="2.55"/>
<circle cx="278.4" cy="314.4" r="2.55"/>
<circle cx="278.7" cy="314.9" r="2.55"/>
<circle cx="279.0" cy="313.8" r="2.55"/>
<circle cx="279.3" cy="314.4" r="2.55"/>
<circle cx="279.6" cy="315.0" r="2.55"/>
<circle cx="279.9" cy="314.3" r="2.55"/>
<circle cx="280.2" cy="314.4" r="2.55"/>
<circle cx="280.5" cy="314.0" r="2.55"/>
<circle cx="280.8" cy="313.9" r="2.55"/>
<circle cx="281.1" cy="314.2" r="2.55"/>
<circle cx="281.4" cy="315.0" r="2.55"/>
<circle cx="281.7" cy="314.1" r="2.55"/>
<circle cx="282.0" cy="315.0" r="2.55"/>
<circle cx="282.3" cy="315.1" r="2.55"/>
<circle cx="282.6" cy="313.9" r="2.55"/>
<circle cx="282.9" cy="314.8" r="2.55"/>
<circle cx="283.2" cy="315.3" r="2.55"/>
<circle cx="283.5" cy="314.9" r="2.55"/>
<circle cx="283.8" cy="315.0" r="2.55"/>
<circle cx="284.1" cy="314.3" r="2.55"/>
<circle cx="284.4" cy="314.2" r="2.55"/>
<circle cx="284.7" cy="315.2" r="2.55"/>
<circle cx="285.0" cy="314.3" r="2.55"/>
<circle cx="285.3" cy="314.9" r="2.55"/>
<circle cx="285.6" cy="315.4" r="2.55"/>
<circle cx="285.9" cy="314.5" r="2.55"/>
<circle cx="286.2" cy="315.5" r="2.55"/>
<circle cx="286.5" cy="313.8" r="2.55"/>
<circle cx="286.8" cy="314.0" r="2.55"/>
<circle cx="287.1" cy="314.8" r="2.55"/>
<circle cx="287.4" cy="314.6" r="2.55"/>
<circle cx="287.7" cy="314.8" r="2.55"/>
<circle cx="288.0" cy="315.2" r="2.55"/>
<circle cx="288.3" cy="314.6" r="2.55"/>
<circle cx="288.6" cy="314.8" r="2.55"/>
<circle cx="288.9" cy="314.0" r="2.55"/>
<circle cx="289.2" cy="314.3" r="2.55"/>
<circle cx="289.5" cy="313.9" r="2.55"/>
<circle cx="289.8" cy="315.0" r="2.55"/>
<circle cx="290.1" cy="313.9" r="2.55"/>
<circle cx="290.4" cy="315.3" r="2.55"/>
<circle cx="290.7" cy="313.9" r="2.55"/>
<circle cx="291.0" cy="314.3" r="2.55"/>
<circle cx="291.3" cy="315.1" r="2.55"/>
<circle cx="291.6" cy="313.7" r="2.55"/>
<circle cx="291.9" cy="314.5" r="2.55"/>
<circle cx="292.2" cy="314.9" r="2.55"/>
<circle cx="292.5" cy="315.3" r="2.55"/>
<circle cx="292.8" cy="314.9" r="2.55"/>
<circle cx="293.1" cy="314.8" r="2.55"/>
<circle cx="293.4" cy="314.9" r="2.55"/>
<circle cx="293.7" cy="314.5" r="2.55"/>
<circle cx="294.0" cy="314.2" r="2.55"/>
<circle cx="294.3" cy="314.9" r="2.55"/>
<circle cx="294.6" cy="313.9" r="2.55"/>
<circle cx="294.9" cy="314.7" r="2.55"/>
<circle cx="295.2" cy="314.6" r="2.55"/>
<circle cx="295.5" cy="313.5" r="2.55"/>
<circle cx="295.8" cy="313.6" r="2.55"/>
<circle cx="296.1" cy="314.7" r="2.55"/>
<circle cx="296.4" cy="313.4" r="2.55"/>
<circle cx="296.7" cy="315.2" r="2.55"/>
<circle cx="297.0" cy="315.0" r="2.55"/>
<circle cx="297.3" cy="315.0" r="2.55"/>
<circle cx="297.6" cy="315.1" r="2.55"/>
<circle cx="297.9" cy="314.0" r="2.55"/>
<circle cx="298.2" cy="313.6" r="2.55"/>
<circle cx="298.5" cy="314.1" r="2.55"/>
<circle cx="298.8" cy="314.1" r="2.55"/>
<circle cx="299.1" cy="313.8" r="2.55"/>
<circle cx="299.4" cy="315.1" r="2.55"/>
<circle cx="299.7" cy="315.5" r="2.55"/>
<circle cx="300.0" cy="315.3" r="2.55"/>
<circle cx="300.3" cy="314.4" r="2.55"/>
<circle cx="300.6" cy="315.1" r="2.55"/>
<circle cx="300.9" cy="315.7" r="2.55"/>
<circle cx="301.2" cy="314.8" r="2.55"/>
<circle cx="301.5" cy="313.9" r="2.55"/>
<circle cx="301.8" cy="314.0" r="2.55"/>
<circle cx="302.1" cy="314.8" r="2.55"/>
<circle cx="302.4" cy="314.9" r="2.55"/>
<circle cx="302.7" cy="314.0" r="2.55"/>
<circle cx="303.0" cy="314.5" r="2.55"/>
<circle cx="303.3" cy="314.2" r="2.55"/>
<circle cx="303.6" cy="315.2" r="2.55"/>
<circle cx="303.9" cy="313.6" r="2.55"/>
<circle cx="304.2" cy="314.7" r="2.55"/>
<circle cx="304.5" cy="313.7" r="2.55"/>
<circle cx="304.8" cy="315.5" r="2.55"/>
<circle cx="305.1" cy="315.6" r="2.55"/>
<circle cx="305.4" cy="315.5" r="2.55"/>
<circle cx="305.7" cy="315.2" r="2.55"/>
<circle cx="306.0" cy="314.6" r="2.55"/>
<circle cx="306.3" cy="314.6" r="2.55"/>
<circle cx="306.6" cy="314.3" r="2.55"/>
<circle cx="306.9" cy="314.5" r="2.55"/>
<circle cx="307.2" cy="313.7" r="2.55"/>
<circle cx="307.5" cy="315.2" r="2.55"/>
<circle cx="307.8" cy="313.7" r="2.55"/>
<circle cx="308.1" cy="313.8" r="2.55"/>
<circle cx="308.4" cy="314.7" r="2.55"/>
<circle cx="308.7" cy="315.2" r="2.55"/>
<circle cx="309.0" cy="315.7" r="2.55"/>
<circle cx="309.3" cy="314.0" r="2.55"/>
<circle cx="309.6" cy="314.4" r="2.55"/>
<circle cx="309.9" cy="315.5" r="2.55"/>
<circle cx="310.2" cy="314.1" r="2.55"/>
<circle cx="310.5" cy="314.9" r="2.55"/>
<circle cx="310.8" cy="313.8" r="2.55"/>
<circle cx="311.1" cy="314.2" r="2.55"/>
<circle cx="311.4" cy="314.6" r="2.55"/>
<circle cx="311.7" cy="314.6" r="2.55"/>
<circle cx="312.0" cy="314.8" r="2.55"/>
<circle cx="312.3" cy="314.0" r="2.55"/>
<circle cx="312.6" cy="314.8" r="2.55"/>
<circle cx="312.9" cy="314.4" r="2.55"/>
<circle cx="313.2" cy="314.0" r="2.55"/>
<circle cx="313.5" cy="314.6" r="2.55"/>
<circle cx="313.8" cy="314.8" r="2.55"/>
<circle cx="314.1" cy="314.4" r="2.55"/>
<circle cx="314.4" cy="314.1" r="2.55"/>
<circle cx="314.7" cy="314.3" r="2.55"/>
<circle cx="315.0" cy="314.4" r="2.55"/>
<circle cx="315.3" cy="314.2" r="2.55"/>
<circle cx="315.6" cy="315.7" r="2.55"/>
<circle cx="315.9" cy="315.8" r="2.55"/>
<circle cx="316.2" cy="314.0" r="2.55"/>
<circle cx="316.5" cy="314.3" r="2.55"/>
<circle cx="316.8" cy="314.0" r="2.55"/>
<circle cx="317.1" cy="314.3" r="2.55"/>
<circle cx="317.4" cy="314.3" r="2.55"/>
<circle cx="317.7" cy="314.0" r="2.55"/>
<circle cx="318.0" cy="313.8" r="2.55"/>
<circle cx="318.3" cy="313.8" r="2.55"/>
<circle cx="318.6" cy="315.1" r="2.55"/>
<circle cx="318.9" cy="314.0" r="2.55"/>
</g><g fill="#d7301f" stroke="#1a0603" stroke-width="0.75">
<circle cx="50.2" cy="169.6" r="2.55"/>
<circle cx="50.5" cy="199.5" r="2.55"/>
<circle cx="50.9" cy="234.8" r="2.55"/>
<circle cx="51.4" cy="252.5" r="2.55"/>
<circle cx="51.9" cy="271.7" r="2.55"/>
<circle cx="52.4" cy="283.0" r="2.55"/>
<circle cx="53.0" cy="291.0" r="2.55"/>
<circle cx="53.7" cy="297.0" r="2.55"/>
<circle cx="54.5" cy="301.5" r="2.55"/>
<circle cx="55.4" cy="305.0" r="2.55"/>
<circle cx="55.7" cy="306.3" r="2.55"/>
<circle cx="56.0" cy="306.6" r="2.55"/>
<circle cx="56.3" cy="306.4" r="2.55"/>
<circle cx="56.6" cy="306.0" r="2.55"/>
<circle cx="56.9" cy="306.7" r="2.55"/>
<circle cx="57.2" cy="308.2" r="2.55"/>
<circle cx="57.5" cy="306.7" r="2.55"/>
<circle cx="57.8" cy="308.0" r="2.55"/>
<circle cx="58.1" cy="308.8" r="2.55"/>
<circle cx="58.4" cy="308.7" r="2.55"/>
<circle cx="58.7" cy="308.8" r="2.55"/>
<circle cx="59.0" cy="309.5" r="2.55"/>
<circle cx="59.3" cy="309.4" r="2.55"/>
<circle cx="59.6" cy="310.1" r="2.55"/>
<circle cx="59.9" cy="309.8" r="2.55"/>
<circle cx="60.2" cy="310.7" r="2.55"/>
<circle cx="60.5" cy="312.0" r="2.55"/>
<circle cx="60.8" cy="311.5" r="2.55"/>
<circle cx="61.1" cy="311.2" r="2.55"/>
<circle cx="61.4" cy="312.0" r="2.55"/>
<circle cx="61.7" cy="311.5" r="2.55"/>
<circle cx="62.0" cy="310.8" r="2.55"/>
<circle cx="62.3" cy="311.9" r="2.55"/>
<circle cx="62.6" cy="311.3" r="2.55"/>
<circle cx="62.9" cy="311.5" r="2.55"/>
<circle cx="63.2" cy="312.0" r="2.55"/>
<circle cx="63.5" cy="312.3" r="2.55"/>
<circle cx="63.8" cy="313.0" r="2.55"/>
<circle cx="64.1" cy="312.8" r="2.55"/>
<circle cx="64.4" cy="312.7" r="2.55"/>
<circle cx="64.7" cy="312.5" r="2.55"/>
<circle cx="65.0" cy="312.5" r="2.55"/>
<circle cx="65.3" cy="312.6" r="2.55"/>
<circle cx="65.6" cy="312.4" r="2.55"/>
<circle cx="65.9" cy="313.6" r="2.55"/>
<circle cx="66.2" cy="313.1" r="2.55"/>
<circle cx="66.5" cy="312.9" r="2.55"/>
<circle cx="66.8" cy="312.8" r="2.55"/>
<circle cx="67.1" cy="313.8" r="2.55"/>
<circle cx="67.4" cy="313.4" r="2.55"/>
<circle cx="67.7" cy="313.9" r="2.55"/>
<circle cx="68.0" cy="314.9" r="2.55"/>
<circle cx="68.3" cy="313.7" r="2.55"/>
<circle cx="68.6" cy="314.5" r="2.55"/>
<circle cx="68.9" cy="314.0" r="2.55"/>
<circle cx="69.2" cy="314.2" r="2.55"/>
<circle cx="69.5" cy="313.7" r="2.55"/>
<circle cx="69.8" cy="313.6" r="2.55"/>
<circle cx="70.1" cy="314.3" r="2.55"/>
<circle cx="70.4" cy="314.6" r="2.55"/>
<circle cx="70.7" cy="314.2" r="2.55"/>
<circle cx="71.0" cy="314.3" r="2.55"/>
<circle cx="71.3" cy="313.2" r="2.55"/>
<circle cx="71.6" cy="314.1" r="2.55"/>
<circle cx="71.9" cy="314.1" r="2.55"/>
<circle cx="72.2" cy="313.7" r="2.55"/>
<circle cx="72.5" cy="314.9" r="2.55"/>
<circle cx="72.8" cy="314.0" r="2.55"/>
<circle cx="73.1" cy="314.5" r="2.55"/>
<circle cx="73.4" cy="314.8" r="2.55"/>
<circle cx="73.7" cy="314.8" r="2.55"/>
<circle cx="74.0" cy="314.7" r="2.55"/>
<circle cx="74.3" cy="314.8" r="2.55"/>
<circle cx="74.6" cy="314.3" r="2.55"/>
<circle cx="74.9" cy="314.4" r="2.55"/>
<circle cx="75.2" cy="314.0" r="2.55"/>
<circle cx="75.5" cy="314.4" r="2.55"/>
<circle cx="75.8" cy="314.3" r="2.55"/>
<circle cx="76.1" cy="314.9" r="2.55"/>
<circle cx="76.4" cy="314.5" r="2.55"/>
<circle cx="76.7" cy="314.7" r="2.55"/>
<circle cx="77.0" cy="314.0" r="2.55"/>
<circle cx="77.3" cy="315.6" r="2.55"/>
<circle cx="77.6" cy="314.8" r="2.55"/>
<circle cx="77.9" cy="313.6" r="2.55"/>
<circle cx="78.2" cy="315.0" r="2.55"/>
<circle cx="78.5" cy="315.6" r="2.55"/>
<circle cx="78.8" cy="315.6" r="2.55"/>
<circle cx="79.1" cy="314.6" r="2.55"/>
<circle cx="79.4" cy="314.2" r="2.55"/>
<circle cx="79.7" cy="314.3" r="2.55"/>
<circle cx="80.0" cy="315.1" r="2.55"/>
<circle cx="80.3" cy="314.8" r="2.55"/>
<circle cx="80.6" cy="314.1" r="2.55"/>
<circle cx="80.9" cy="315.1" r="2.55"/>
<circle cx="81.2" cy="314.7" r="2.55"/>
<circle cx="81.5" cy="314.7" r="2.55"/>
<circle cx="81.8" cy="314.4" r="2.55"/>
<circle cx="82.1" cy="314.3" r="2.55"/>
<circle cx="82.4" cy="314.1" r="2.55"/>
<circle cx="82.7" cy="314.2" r="2.55"/>
<circle cx="83.0" cy="315.3" r="2.55"/>
<circle cx="83.3" cy="314.8" r="2.55"/>
<circle cx="83.6" cy="315.0" r="2.55"/>
<circle cx="83.9" cy="314.5" r="2.55"/>
<circle cx="84.2" cy="315.7" r="2.55"/>
<circle cx="84.5" cy="313.6" r="2.55"/>
<circle cx="84.8" cy="314.6" r="2.55"/>
<circle cx="85.1" cy="313.8" r="2.55"/>
<circle cx="85.4" cy="314.6" r="2.55"/>
<circle cx="85.7" cy="315.9" r="2.55"/>
<circle cx="86.0" cy="314.3" r="2.55"/>
<circle cx="86.3" cy="314.2" r="2.55"/>
<circle cx="86.6" cy="314.8" r="2.55"/>
<circle cx="86.9" cy="315.4" r="2.55"/>
<circle cx="87.2" cy="314.6" r="2.55"/>
<circle cx="87.5" cy="314.7" r="2.55"/>
<circle cx="87.8" cy="315.0" r="2.55"/>
<circle cx="88.1" cy="314.6" r="2.55"/>
<circle cx="88.4" cy="314.6" r="2.55"/>
<circle cx="88.7" cy="315.3" r="2.55"/>
<circle cx="89.0" cy="314.6" r="2.55"/>
<circle cx="89.3" cy="314.2" r="2.55"/>
<circle cx="89.6" cy="315.0" r="2.55"/>
<circle cx="89.9" cy="314.1" r="2.55"/>
<circle cx="90.2" cy="314.9" r="2.55"/>
<circle cx="90.5" cy="314.8" r="2.55"/>
<circle cx="90.8" cy="314.1" r="2.55"/>
<circle cx="91.1" cy="314.2" r="2.55"/>
<circle cx="91.4" cy="314.8" r="2.55"/>
<circle cx="91.7" cy="313.4" r="2.55"/>
<circle cx="92.0" cy="314.8" r="2.55"/>
<circle cx="92.3" cy="315.2" r="2.55"/>
<circle cx="92.6" cy="314.9" r="2.55"/>
<circle cx="92.9" cy="314.9" r="2.55"/>
<circle cx="93.2" cy="314.5" r="2.55"/>
<circle cx="93.5" cy="314.1" r="2.55"/>
<circle cx="93.8" cy="314.4" r="2.55"/>
<circle cx="94.1" cy="314.3" r="2.55"/>
<circle cx="94.4" cy="314.7" r="2.55"/>
<circle cx="94.7" cy="315.2" r="2.55"/>
<circle cx="95.0" cy="314.6" r="2.55"/>
<circle cx="95.3" cy="314.3" r="2.55"/>
<circle cx="95.6" cy="314.3" r="2.55"/>
<circle cx="95.9" cy="315.1" r="2.55"/>
<circle cx="96.2" cy="314.8" r="2.55"/>
<circle cx="96.5" cy="315.2" r="2.55"/>
<circle cx="96.8" cy="314.8" r="2.55"/>
<circle cx="97.1" cy="314.4" r="2.55"/>
<circle cx="97.4" cy="315.3" r="2.55"/>
<circle cx="97.7" cy="315.1" r="2.55"/>
<circle cx="98.0" cy="314.6" r="2.55"/>
<circle cx="98.3" cy="315.1" r="2.55"/>
<circle cx="98.6" cy="315.3" r="2.55"/>
<circle cx="98.9" cy="315.0" r="2.55"/>
<circle cx="99.2" cy="315.6" r="2.55"/>
<circle cx="99.5" cy="313.7" r="2.55"/>
<circle cx="99.8" cy="314.4" r="2.55"/>
<circle cx="100.1" cy="314.8" r="2.55"/>
<circle cx="100.4" cy="315.3" r="2.55"/>
<circle cx="100.7" cy="314.2" r="2.55"/>
<circle cx="101.0" cy="315.0" r="2.55"/>
<circle cx="101.3" cy="314.3" r="2.55"/>
<circle cx="101.6" cy="314.9" r="2.55"/>
<circle cx="101.9" cy="314.1" r="2.55"/>
<circle cx="102.2" cy="315.5" r="2.55"/>
<circle cx="102.5" cy="314.1" r="2.55"/>
<circle cx="102.8" cy="314.2" r="2.55"/>
<circle cx="103.1" cy="314.1" r="2.55"/>
<circle cx="103.4" cy="314.0" r="2.55"/>
<circle cx="103.7" cy="313.7" r="2.55"/>
<circle cx="104.0" cy="314.7" r="2.55"/>
<circle cx="104.3" cy="314.8" r="2.55"/>
<circle cx="104.6" cy="313.4" r="2.55"/>
<circle cx="104.9" cy="314.5" r="2.55"/>
<circle cx="105.2" cy="315.0" r="2.55"/>
<circle cx="105.5" cy="314.4" r="2.55"/>
<circle cx="105.8" cy="315.1" r="2.55"/>
<circle cx="106.1" cy="313.9" r="2.55"/>
<circle cx="106.4" cy="315.4" r="2.55"/>
<circle cx="106.7" cy="314.4" r="2.55"/>
<circle cx="107.0" cy="314.8" r="2.55"/>
<circle cx="107.3" cy="315.0" r="2.55"/>
<circle cx="107.6" cy="314.6" r="2.55"/>
<circle cx="107.9" cy="314.0" r="2.55"/>
<circle cx="108.2" cy="314.5" r="2.55"/>
<circle cx="108.5" cy="314.7" r="2.55"/>
<circle cx="108.8" cy="315.3" r="2.55"/>
<circle cx="109.1" cy="314.9" r="2.55"/>
<circle cx="109.4" cy="314.2" r="2.55"/>
<circle cx="109.7" cy="315.2" r="2.55"/>
<circle cx="110.0" cy="315.6" r="2.55"/>
<circle cx="110.3" cy="314.6" r="2.55"/>
<circle cx="110.6" cy="314.5" r="2.55"/>
<circle cx="110.9" cy="315.5" r="2.55"/>
<circle cx="111.2" cy="313.8" r="2.55"/>
<circle cx="111.5" cy="313.6" r="2.55"/>
<circle cx="111.8" cy="313.8" r="2.55"/>
<circle cx="112.1" cy="313.8" r="2.55"/>
<circle cx="112.4" cy="314.2" r="2.55"/>
<circle cx="112.7" cy="314.8" r="2.55"/>
<circle cx="113.0" cy="315.1" r="2.55"/>
<circle cx="113.3" cy="313.5" r="2.55"/>
<circle cx="113.6" cy="314.5" r="2.55"/>
<circle cx="113.9" cy="313.9" r="2.55"/>
<circle cx="114.2" cy="315.2" r="2.55"/>
<circle cx="114.5" cy="313.6" r="2.55"/>
<circle cx="114.8" cy="314.1" r="2.55"/>
<circle cx="115.1" cy="315.6" r="2.55"/>
<circle cx="115.4" cy="314.9" r="2.55"/>
<circle cx="115.7" cy="315.0" r="2.55"/>
<circle cx="116.0" cy="314.5" r="2.55"/>
<circle cx="116.3" cy="314.3" r="2.55"/>
<circle cx="116.6" cy="313.9" r="2.55"/>
<circle cx="116.9" cy="314.0" r="2.55"/>
<circle cx="117.2" cy="314.1" r="2.55"/>
<circle cx="117.5" cy="314.9" r="2.55"/>
<circle cx="117.8" cy="315.5" r="2.55"/>
<circle cx="118.1" cy="315.7" r="2.55"/>
<circle cx="118.4" cy="314.2" r="2.55"/>
<circle cx="118.7" cy="314.0" r="2.55"/>
<circle cx="119.0" cy="314.6" r="2.55"/>
<circle cx="119.3" cy="314.3" r="2.55"/>
<circle cx="119.6" cy="314.6" r="2.55"/>
<circle cx="119.9" cy="314.8" r="2.55"/>
<circle cx="120.2" cy="314.3" r="2.55"/>
<circle cx="120.5" cy="314.7" r="2.55"/>
<circle cx="120.8" cy="315.5" r="2.55"/>
<circle cx="121.1" cy="313.3" r="2.55"/>
<circle cx="121.4" cy="314.7" r="2.55"/>
<circle cx="121.7" cy="315.1" r="2.55"/>
<circle cx="122.0" cy="314.0" r="2.55"/>
<circle cx="122.3" cy="314.8" r="2.55"/>
<circle cx="122.6" cy="314.9" r="2.55"/>
<circle cx="122.9" cy="314.7" r="2.55"/>
<circle cx="123.2" cy="314.3" r="2.55"/>
<circle cx="123.5" cy="314.2" r="2.55"/>
<circle cx="123.8" cy="314.8" r="2.55"/>
<circle cx="124.1" cy="314.9" r="2.55"/>
<circle cx="124.4" cy="315.1" r="2.55"/>
<circle cx="124.7" cy="314.4" r="2.55"/>
<circle cx="125.0" cy="314.7" r="2.55"/>
<circle cx="125.3" cy="315.0" r="2.55"/>
<circle cx="125.6" cy="315.5" r="2.55"/>
<circle cx="125.9" cy="314.2" r="2.55"/>
<circle cx="126.2" cy="313.6" r="2.55"/>
<circle cx="126.5" cy="315.5" r="2.55"/>
<circle cx="126.8" cy="314.8" r="2.55"/>
<circle cx="127.1" cy="314.3" r="2.55"/>
<circle cx="127.4" cy="315.4" r="2.55"/>
<circle cx="127.7" cy="315.2" r="2.55"/>
<circle cx="128.0" cy="314.4" r="2.55"/>
<circle cx="128.3" cy="314.6" r="2.55"/>
<circle cx="128.6" cy="314.8" r="2.55"/>
<circle cx="128.9" cy="313.8" r="2.55"/>
<circle cx="129.2" cy="314.3" r="2.55"/>
<circle cx="129.5" cy="313.8" r="2.55"/>
<circle cx="129.8" cy="315.1" r="2.55"/>
<circle cx="130.1" cy="315.0" r="2.55"/>
<circle cx="130.4" cy="314.3" r="2.55"/>
<circle cx="130.7" cy="314.0" r="2.55"/>
<circle cx="131.0" cy="314.6" r="2.55"/>
<circle cx="131.3" cy="313.9" r="2.55"/>
<circle cx="131.6" cy="314.1" r="2.55"/>
<circle cx="131.9" cy="314.6" r="2.55"/>
<circle cx="132.2" cy="314.6" r="2.55"/>
<circle cx="132.5" cy="314.1" r="2.55"/>
<circle cx="132.8" cy="315.1" r="2.55"/>
<circle cx="133.1" cy="314.7" r="2.55"/>
<circle cx="133.4" cy="314.2" r="2.55"/>
<circle cx="133.7" cy="313.8" r="2.55"/>
<circle cx="134.0" cy="315.2" r="2.55"/>
<circle cx="134.3" cy="313.7" r="2.55"/>
<circle cx="134.6" cy="314.4" r="2.55"/>
<circle cx="134.9" cy="314.0" r="2.55"/>
<circle cx="135.2" cy="313.7" r="2.55"/>
<circle cx="135.5" cy="315.1" r="2.55"/>
<circle cx="135.8" cy="314.0" r="2.55"/>
<circle cx="136.1" cy="314.3" r="2.55"/>
<circle cx="136.4" cy="314.9" r="2.55"/>
<circle cx="136.7" cy="315.1" r="2.55"/>
<circle cx="137.0" cy="313.9" r="2.55"/>
<circle cx="137.3" cy="313.8" r="2.55"/>
<circle cx="137.6" cy="315.0" r="2.55"/>
<circle cx="137.9" cy="313.8" r="2.55"/>
<circle cx="138.2" cy="314.9" r="2.55"/>
<circle cx="138.5" cy="314.3" r="2.55"/>
<circle cx="138.8" cy="315.2" r="2.55"/>
<circle cx="139.1" cy="314.6" r="2.55"/>
<circle cx="139.4" cy="314.9" r="2.55"/>
<circle cx="139.7" cy="315.4" r="2.55"/>
<circle cx="140.0" cy="314.5" r="2.55"/>
<circle cx="140.3" cy="313.9" r="2.55"/>
<circle cx="140.6" cy="314.9" r="2.55"/>
<circle cx="140.9" cy="315.7" r="2.55"/>
<circle cx="141.2" cy="314.5" r="2.55"/>
<circle cx="141.5" cy="314.3" r="2.55"/>
<circle cx="141.8" cy="314.8" r="2.55"/>
<circle cx="142.1" cy="315.2" r="2.55"/>
<circle cx="142.4" cy="315.1" r="2.55"/>
<circle cx="142.7" cy="313.7" r="2.55"/>
<circle cx="143.0" cy="314.1" r="2.55"/>
<circle cx="143.3" cy="314.8" r="2.55"/>
<circle cx="143.6" cy="314.8" r="2.55"/>
<circle cx="143.9" cy="315.0" r="2.55"/>
<circle cx="144.2" cy="316.1" r="2.55"/>
<circle cx="144.5" cy="315.0" r="2.55"/>
<circle cx="144.8" cy="315.1" r="2.55"/>
<circle cx="145.1" cy="315.0" r="2.55"/>
<circle cx="145.4" cy="314.6" r="2.55"/>
<circle cx="145.7" cy="315.1" r="2.55"/>
<circle cx="146.0" cy="313.9" r="2.55"/>
<circle cx="146.3" cy="314.8" r="2.55"/>
<circle cx="146.6" cy="314.5" r="2.55"/>
<circle cx="146.9" cy="314.7" r="2.55"/>
<circle cx="147.2" cy="314.7" r="2.55"/>
<circle cx="147.5" cy="314.4" r="2.55"/>
<circle cx="147.8" cy="314.2" r="2.55"/>
<circle cx="148.1" cy="313.7" r="2.55"/>
<circle cx="148.4" cy="315.2" r="2.55"/>
<circle cx="148.7" cy="314.8" r="2.55"/>
<circle cx="149.0" cy="314.2" r="2.55"/>
<circle cx="149.3" cy="314.6" r="2.55"/>
<circle cx="149.6" cy="314.4" r="2.55"/>
<circle cx="149.9" cy="314.1" r="2.55"/>
<circle cx="150.2" cy="315.6" r="2.55"/>
<circle cx="150.5" cy="314.6" r="2.55"/>
<circle cx="150.8" cy="314.3" r="2.55"/>
<circle cx="151.1" cy="314.1" r="2.55"/>
<circle cx="151.4" cy="314.9" r="2.55"/>
<circle cx="151.7" cy="315.1" r="2.55"/>
<circle cx="152.0" cy="314.0" r="2.55"/>
<circle cx="152.3" cy="314.9" r="2.55"/>
<circle cx="152.6" cy="315.1" r="2.55"/>
<circle cx="152.9" cy="314.7" r="2.55"/>
<circle cx="153.2" cy="314.0" r="2.55"/>
<circle cx="153.5" cy="313.7" r="2.55"/>
<circle cx="153.8" cy="315.2" r="2.55"/>
<circle cx="154.1" cy="314.1" r="2.55"/>
<circle cx="154.4" cy="314.3" r="2.55"/>
<circle cx="154.7" cy="315.0" r="2.55"/>
<circle cx="155.0" cy="314.4" r="2.55"/>
<circle cx="155.3" cy="315.3" r="2.55"/>
<circle cx="155.6" cy="314.5" r="2.55"/>
<circle cx="155.9" cy="315.6" r="2.55"/>
<circle cx="156.2" cy="314.6" r="2.55"/>
<circle cx="156.5" cy="315.0" r="2.55"/>
<circle cx="156.8" cy="313.9" r="2.55"/>
<circle cx="157.1" cy="314.8" r="2.55"/>
<circle cx="157.4" cy="313.4" r="2.55"/>
<circle cx="157.7" cy="314.4" r="2.55"/>
<circle cx="158.0" cy="314.1" r="2.55"/>
<circle cx="158.3" cy="314.8" r="2.55"/>
<circle cx="158.6" cy="314.0" r="2.55"/>
<circle cx="158.9" cy="313.6" r="2.55"/>
<circle cx="159.2" cy="315.4" r="2.55"/>
<circle cx="159.5" cy="315.5" r="2.55"/>
<circle cx="159.8" cy="315.6" r="2.55"/>
<circle cx="160.1" cy="314.2" r="2.55"/>
<circle cx="160.4" cy="314.4" r="2.55"/>
<circle cx="160.7" cy="313.9" r="2.55"/>
<circle cx="161.0" cy="314.1" r="2.55"/>
<circle cx="161.3" cy="313.8" r="2.55"/>
<circle cx="161.6" cy="314.8" r="2.55"/>
<circle cx="161.9" cy="314.5" r="2.55"/>
<circle cx="162.2" cy="314.1" r="2.55"/>
<circle cx="162.5" cy="314.7" r="2.55"/>
<circle cx="162.8" cy="314.3" r="2.55"/>
<circle cx="163.1" cy="313.7" r="2.55"/>
<circle cx="163.4" cy="314.5" r="2.55"/>
<circle cx="163.7" cy="314.6" r="2.55"/>
<circle cx="164.0" cy="314.7" r="2.55"/>
<circle cx="164.3" cy="313.8" r="2.55"/>
<circle cx="164.6" cy="314.8" r="2.55"/>
<circle cx="164.9" cy="315.2" r="2.55"/>
<circle cx="165.2" cy="314.5" r="2.55"/>
<circle cx="165.5" cy="314.2" r="2.55"/>
<circle cx="165.8" cy="315.0" r="2.55"/>
<circle cx="166.1" cy="315.3" r="2.55"/>
<circle cx="166.4" cy="314.3" r="2.55"/>
<circle cx="166.7" cy="314.4" r="2.55"/>
<circle cx="167.0" cy="314.3" r="2.55"/>
<circle cx="167.3" cy="315.7" r="2.55"/>
<circle cx="167.6" cy="315.7" r="2.55"/>
<circle cx="167.9" cy="314.4" r="2.55"/>
<circle cx="168.2" cy="314.9" r="2.55"/>
<circle cx="168.5" cy="314.1" r="2.55"/>
<circle cx="168.8" cy="314.7" r="2.55"/>
<circle cx="169.1" cy="314.5" r="2.55"/>
<circle cx="169.4" cy="315.5" r="2.55"/>
<circle cx="169.7" cy="313.8" r="2.55"/>
<circle cx="170.0" cy="314.0" r="2.55"/>
<circle cx="170.3" cy="315.2" r="2.55"/>
<circle cx="170.6" cy="314.1" r="2.55"/>
<circle cx="170.9" cy="314.2" r="2.55"/>
<circle cx="171.2" cy="314.8" r="2.55"/>
<circle cx="171.5" cy="315.5" r="2.55"/>
<circle cx="171.8" cy="315.1" r="2.55"/>
<circle cx="172.1" cy="314.4" r="2.55"/>
<circle cx="172.4" cy="314.8" r="2.55"/>
<circle cx="172.7" cy="314.8" r="2.55"/>
<circle cx="173.0" cy="314.9" r="2.55"/>
<circle cx="173.3" cy="314.9" r="2.55"/>
<circle cx="173.6" cy="315.3" r="2.55"/>
<circle cx="173.9" cy="314.1" r="2.55"/>
<circle cx="174.2" cy="313.7" r="2.55"/>
<circle cx="174.5" cy="315.6" r="2.55"/>
<circle cx="174.8" cy="313.9" r="2.55"/>
<circle cx="175.1" cy="314.9" r="2.55"/>
<circle cx="175.4" cy="314.8" r="2.55"/>
<circle cx="175.7" cy="314.5" r="2.55"/>
<circle cx="176.0" cy="315.1" r="2.55"/>
<circle cx="176.3" cy="314.3" r="2.55"/>
<circle cx="176.6" cy="314.5" r="2.55"/>
<circle cx="176.9" cy="313.7" r="2.55"/>
<circle cx="177.2" cy="315.4" r="2.55"/>
<circle cx="177.5" cy="315.0" r="2.55"/>
<circle cx="177.8" cy="314.9" r="2.55"/>
<circle cx="178.1" cy="314.4" r="2.55"/>
<circle cx="178.4" cy="315.1" r="2.55"/>
<circle cx="178.7" cy="315.8" r="2.55"/>
<circle cx="179.0" cy="314.6" r="2.55"/>
<circle cx="179.3" cy="315.7" r="2.55"/>
<circle cx="179.6" cy="314.5" r="2.55"/>
<circle cx="179.9" cy="314.4" r="2.55"/>
<circle cx="180.2" cy="315.1" r="2.55"/>
<circle cx="180.5" cy="315.4" r="2.55"/>
<circle cx="180.8" cy="314.7" r="2.55"/>
<circle cx="181.1" cy="315.0" r="2.55"/>
<circle cx="181.4" cy="314.0" r="2.55"/>
<circle cx="181.7" cy="314.5" r="2.55"/>
<circle cx="182.0" cy="315.2" r="2.55"/>
<circle cx="182.3" cy="314.1" r="2.55"/>
<circle cx="182.6" cy="315.4" r="2.55"/>
<circle cx="182.9" cy="314.0" r="2.55"/>
<circle cx="183.2" cy="315.7" r="2.55"/>
<circle cx="183.5" cy="315.0" r="2.55"/>
<circle cx="183.8" cy="314.5" r="2.55"/>
<circle cx="184.1" cy="314.5" r="2.55"/>
<circle cx="184.4" cy="314.3" r="2.55"/>
<circle cx="184.7" cy="314.5" r="2.55"/>
<circle cx="185.0" cy="314.4" r="2.55"/>
<circle cx="185.3" cy="314.4" r="2.55"/>
<circle cx="185.6" cy="315.1" r="2.55"/>
<circle cx="185.9" cy="315.5" r="2.55"/>
<circle cx="186.2" cy="314.4" r="2.55"/>
<circle cx="186.5" cy="314.8" r="2.55"/>
<circle cx="186.8" cy="314.8" r="2.55"/>
<circle cx="187.1" cy="314.6" r="2.55"/>
<circle cx="187.4" cy="313.9" r="2.55"/>
<circle cx="187.7" cy="314.8" r="2.55"/>
<circle cx="188.0" cy="314.0" r="2.55"/>
<circle cx="188.3" cy="314.1" r="2.55"/>
<circle cx="188.6" cy="315.7" r="2.55"/>
<circle cx="188.9" cy="313.6" r="2.55"/>
<circle cx="189.2" cy="314.6" r="2.55"/>
<circle cx="189.5" cy="314.7" r="2.55"/>
<circle cx="189.8" cy="315.0" r="2.55"/>
<circle cx="190.1" cy="314.9" r="2.55"/>
<circle cx="190.4" cy="315.1" r="2.55"/>
<circle cx="190.7" cy="314.8" r="2.55"/>
<circle cx="191.0" cy="314.3" r="2.55"/>
<circle cx="191.3" cy="315.4" r="2.55"/>
<circle cx="191.6" cy="314.7" r="2.55"/>
<circle cx="191.9" cy="315.0" r="2.55"/>
<circle cx="192.2" cy="314.5" r="2.55"/>
<circle cx="192.5" cy="313.9" r="2.55"/>
<circle cx="192.8" cy="314.2" r="2.55"/>
<circle cx="193.1" cy="315.1" r="2.55"/>
<circle cx="193.4" cy="314.9" r="2.55"/>
<circle cx="193.7" cy="314.6" r="2.55"/>
<circle cx="194.0" cy="315.1" r="2.55"/>
<circle cx="194.3" cy="314.2" r="2.55"/>
<circle cx="194.6" cy="314.8" r="2.55"/>
<circle cx="194.9" cy="315.7" r="2.55"/>
<circle cx="195.2" cy="314.4" r="2.55"/>
<circle cx="195.5" cy="315.1" r="2.55"/>
<circle cx="195.8" cy="314.6" r="2.55"/>
<circle cx="196.1" cy="314.8" r="2.55"/>
<circle cx="196.4" cy="315.8" r="2.55"/>
<circle cx="196.7" cy="314.1" r="2.55"/>
<circle cx="197.0" cy="314.8" r="2.55"/>
<circle cx="197.3" cy="315.3" r="2.55"/>
<circle cx="197.6" cy="314.4" r="2.55"/>
<circle cx="197.9" cy="315.1" r="2.55"/>
<circle cx="198.2" cy="314.5" r="2.55"/>
<circle cx="198.5" cy="314.8" r="2.55"/>
<circle cx="198.8" cy="314.8" r="2.55"/>
<circle cx="199.1" cy="314.7" r="2.55"/>
<circle cx="199.4" cy="314.2" r="2.55"/>
<circle cx="199.7" cy="314.4" r="2.55"/>
<circle cx="200.0" cy="314.0" r="2.55"/>
<circle cx="200.3" cy="314.1" r="2.55"/>
<circle cx="200.6" cy="315.4" r="2.55"/>
<circle cx="200.9" cy="314.2" r="2.55"/>
<circle cx="201.2" cy="314.1" r="2.55"/>
<circle cx="201.5" cy="314.0" r="2.55"/>
<circle cx="201.8" cy="314.6" r="2.55"/>
<circle cx="202.1" cy="314.8" r="2.55"/>
<circle cx="202.4" cy="314.8" r="2.55"/>
<circle cx="202.7" cy="313.9" r="2.55"/>
<circle cx="203.0" cy="314.3" r="2.55"/>
<circle cx="203.3" cy="315.3" r="2.55"/>
<circle cx="203.6" cy="315.2" r="2.55"/>
<circle cx="203.9" cy="314.4" r="2.55"/>
<circle cx="204.2" cy="313.7" r="2.55"/>
<circle cx="204.5" cy="315.5" r="2.55"/>
<circle cx="204.8" cy="314.2" r="2.55"/>
<circle cx="205.1" cy="314.5" r="2.55"/>
<circle cx="205.4" cy="314.6" r="2.55"/>
<circle cx="205.7" cy="314.4" r="2.55"/>
<circle cx="206.0" cy="314.8" r="2.55"/>
<circle cx="206.3" cy="314.7" r="2.55"/>
<circle cx="206.6" cy="314.7" r="2.55"/>
<circle cx="206.9" cy="315.1" r="2.55"/>
<circle cx="207.2" cy="314.1" r="2.55"/>
<circle cx="207.5" cy="314.1" r="2.55"/>
<circle cx="207.8" cy="314.8" r="2.55"/>
<circle cx="208.1" cy="314.3" r="2.55"/>
<circle cx="208.4" cy="314.1" r="2.55"/>
<circle cx="208.7" cy="315.1" r="2.55"/>
<circle cx="209.0" cy="315.2" r="2.55"/>
<circle cx="209.3" cy="313.4" r="2.55"/>
<circle cx="209.6" cy="314.9" r="2.55"/>
<circle cx="209.9" cy="315.2" r="2.55"/>
<circle cx="210.2" cy="314.3" r="2.55"/>
<circle cx="210.5" cy="313.3" r="2.55"/>
<circle cx="210.8" cy="314.8" r="2.55"/>
<circle cx="211.1" cy="314.4" r="2.55"/>
<circle cx="211.4" cy="315.3" r="2.55"/>
<circle cx="211.7" cy="313.7" r="2.55"/>
<circle cx="212.0" cy="315.6" r="2.55"/>
<circle cx="212.3" cy="313.9" r="2.55"/>
<circle cx="212.6" cy="314.8" r="2.55"/>
<circle cx="212.9" cy="315.0" r="2.55"/>
<circle cx="213.2" cy="315.1" r="2.55"/>
<circle cx="213.5" cy="314.2" r="2.55"/>
<circle cx="213.8" cy="315.0" r="2.55"/>
<circle cx="214.1" cy="314.5" r="2.55"/>
<circle cx="214.4" cy="314.1" r="2.55"/>
<circle cx="214.7" cy="313.5" r="2.55"/>
<circle cx="215.0" cy="314.8" r="2.55"/>
<circle cx="215.3" cy="314.7" r="2.55"/>
<circle cx="215.6" cy="315.6" r="2.55"/>
<circle cx="215.9" cy="314.7" r="2.55"/>
<circle cx="216.2" cy="314.6" r="2.55"/>
<circle cx="216.5" cy="314.5" r="2.55"/>
<circle cx="216.8" cy="314.8" r="2.55"/>
<circle cx="217.1" cy="315.0" r="2.55"/>
<circle cx="217.4" cy="314.2" r="2.55"/>
<circle cx="217.7" cy="315.2" r="2.55"/>
<circle cx="218.0" cy="314.2" r="2.55"/>
<circle cx="218.3" cy="314.3" r="2.55"/>
<circle cx="218.6" cy="315.1" r="2.55"/>
<circle cx="218.9" cy="314.7" r="2.55"/>
<circle cx="219.2" cy="314.3" r="2.55"/>
<circle cx="219.5" cy="314.2" r="2.55"/>
<circle cx="219.8" cy="315.1" r="2.55"/>
<circle cx="220.1" cy="315.0" r="2.55"/>
<circle cx="220.4" cy="314.0" r="2.55"/>
<circle cx="220.7" cy="314.9" r="2.55"/>
<circle cx="221.0" cy="314.6" r="2.55"/>
<circle cx="221.3" cy="313.9" r="2.55"/>
<circle cx="221.6" cy="314.3" r="2.55"/>
<circle cx="221.9" cy="313.7" r="2.55"/>
<circle cx="222.2" cy="314.2" r="2.55"/>
<circle cx="222.5" cy="314.9" r="2.55"/>
<circle cx="222.8" cy="313.9" r="2.55"/>
<circle cx="223.1" cy="314.6" r="2.55"/>
<circle cx="223.4" cy="313.8" r="2.55"/>
<circle cx="223.7" cy="314.6" r="2.55"/>
<circle cx="224.0" cy="313.6" r="2.55"/>
<circle cx="224.3" cy="314.2" r="2.55"/>
<circle cx="224.6" cy="313.7" r="2.55"/>
<circle cx="224.9" cy="314.7" r="2.55"/>
<circle cx="225.2" cy="315.8" r="2.55"/>
<circle cx="225.5" cy="314.2" r="2.55"/>
<circle cx="225.8" cy="314.6" r="2.55"/>
<circle cx="226.1" cy="314.7" r="2.55"/>
<circle cx="226.4" cy="314.4" r="2.55"/>
<circle cx="226.7" cy="315.3" r="2.55"/>
<circle cx="227.0" cy="314.1" r="2.55"/>
<circle cx="227.3" cy="315.4" r="2.55"/>
<circle cx="227.6" cy="315.4" r="2.55"/>
<circle cx="227.9" cy="314.7" r="2.55"/>
<circle cx="228.2" cy="313.8" r="2.55"/>
<circle cx="228.5" cy="314.3" r="2.55"/>
<circle cx="228.8" cy="314.6" r="2.55"/>
<circle cx="229.1" cy="314.6" r="2.55"/>
<circle cx="229.4" cy="314.1" r="2.55"/>
<circle cx="229.7" cy="315.0" r="2.55"/>
<circle cx="230.0" cy="315.2" r="2.55"/>
<circle cx="230.3" cy="314.1" r="2.55"/>
<circle cx="230.6" cy="313.9" r="2.55"/>
<circle cx="230.9" cy="313.6" r="2.55"/>
<circle cx="231.2" cy="314.8" r="2.55"/>
<circle cx="231.5" cy="315.5" r="2.55"/>
<circle cx="231.8" cy="315.9" r="2.55"/>
<circle cx="232.1" cy="315.0" r="2.55"/>
<circle cx="232.4" cy="314.8" r="2.55"/>
<circle cx="232.7" cy="315.3" r="2.55"/>
<circle cx="233.0" cy="314.3" r="2.55"/>
<circle cx="233.3" cy="315.8" r="2.55"/>
<circle cx="233.6" cy="314.6" r="2.55"/>
<circle cx="233.9" cy="313.5" r="2.55"/>
<circle cx="234.2" cy="315.4" r="2.55"/>
<circle cx="234.5" cy="314.3" r="2.55"/>
<circle cx="234.8" cy="314.6" r="2.55"/>
<circle cx="235.1" cy="315.0" r="2.55"/>
<circle cx="235.4" cy="314.4" r="2.55"/>
<circle cx="235.7" cy="315.2" r="2.55"/>
<circle cx="236.0" cy="314.6" r="2.55"/>
<circle cx="236.3" cy="314.1" r="2.55"/>
<circle cx="236.6" cy="314.1" r="2.55"/>
<circle cx="236.9" cy="314.1" r="2.55"/>
<circle cx="237.2" cy="314.5" r="2.55"/>
<circle cx="237.5" cy="314.3" r="2.55"/>
<circle cx="237.8" cy="315.2" r="2.55"/>
<circle cx="238.1" cy="315.1" r="2.55"/>
<circle cx="238.4" cy="314.3" r="2.55"/>
<circle cx="238.7" cy="314.7" r="2.55"/>
<circle cx="239.0" cy="314.5" r="2.55"/>
<circle cx="239.3" cy="315.6" r="2.55"/>
<circle cx="239.6" cy="314.2" r="2.55"/>
<circle cx="239.9" cy="314.0" r="2.55"/>
<circle cx="240.2" cy="315.0" r="2.55"/>
<circle cx="240.5" cy="313.9" r="2.55"/>
<circle cx="240.8" cy="313.9" r="2.55"/>
<circle cx="241.1" cy="314.9" r="2.55"/>
<circle cx="241.4" cy="314.8" r="2.55"/>
<circle cx="241.7" cy="314.4" r="2.55"/>
<circle cx="242.0" cy="314.4" r="2.55"/>
<circle cx="242.3" cy="315.1" r="2.55"/>
<circle cx="242.6" cy="314.0" r="2.55"/>
<circle cx="242.9" cy="315.0" r="2.55"/>
<circle cx="243.2" cy="314.0" r="2.55"/>
<circle cx="243.5" cy="315.4" r="2.55"/>
<circle cx="243.8" cy="314.8" r="2.55"/>
<circle cx="244.1" cy="314.9" r="2.55"/>
<circle cx="244.4" cy="313.8" r="2.55"/>
<circle cx="244.7" cy="314.6" r="2.55"/>
<circle cx="245.0" cy="314.9" r="2.55"/>
<circle cx="245.3" cy="313.7" r="2.55"/>
<circle cx="245.6" cy="313.9" r="2.55"/>
<circle cx="245.9" cy="314.9" r="2.55"/>
<circle cx="246.2" cy="314.6" r="2.55"/>
<circle cx="246.5" cy="314.5" r="2.55"/>
<circle cx="246.8" cy="314.7" r="2.55"/>
<circle cx="247.1" cy="314.5" r="2.55"/>
<circle cx="247.4" cy="314.8" r="2.55"/>
<circle cx="247.7" cy="314.8" r="2.55"/>
<circle cx="248.0" cy="315.2" r="2.55"/>
<circle cx="248.3" cy="315.4" r="2.55"/>
<circle cx="248.6" cy="315.2" r="2.55"/>
<circle cx="248.9" cy="314.9" r="2.55"/>
<circle cx="249.2" cy="314.9" r="2.55"/>
<circle cx="249.5" cy="315.1" r="2.55"/>
<circle cx="249.8" cy="315.2" r="2.55"/>
<circle cx="250.1" cy="313.5" r="2.55"/>
<circle cx="250.4" cy="315.7" r="2.55"/>
<circle cx="250.7" cy="315.5" r="2.55"/>
<circle cx="251.0" cy="314.3" r="2.55"/>
<circle cx="251.3" cy="315.2" r="2.55"/>
<circle cx="251.6" cy="314.6" r="2.55"/>
<circle cx="251.9" cy="314.3" r="2.55"/>
<circle cx="252.2" cy="315.3" r="2.55"/>
<circle cx="252.5" cy="314.3" r="2.55"/>
<circle cx="252.8" cy="314.1" r="2.55"/>
<circle cx="253.1" cy="314.1" r="2.55"/>
<circle cx="253.4" cy="313.9" r="2.55"/>
<circle cx="253.7" cy="314.2" r="2.55"/>
<circle cx="254.0" cy="314.4" r="2.55"/>
<circle cx="254.3" cy="313.6" r="2.55"/>
<circle cx="254.6" cy="314.5" r="2.55"/>
<circle cx="254.9" cy="314.9" r="2.55"/>
<circle cx="255.2" cy="314.4" r="2.55"/>
<circle cx="255.5" cy="314.9" r="2.55"/>
<circle cx="255.8" cy="315.2" r="2.55"/>
<circle cx="256.1" cy="314.4" r="2.55"/>
<circle cx="256.4" cy="314.8" r="2.55"/>
<circle cx="256.7" cy="314.1" r="2.55"/>
<circle cx="257.0" cy="314.1" r="2.55"/>
<circle cx="257.3" cy="314.9" r="2.55"/>
<circle cx="257.6" cy="314.6" r="2.55"/>
<circle cx="257.9" cy="314.9" r="2.55"/>
<circle cx="258.2" cy="315.2" r="2.55"/>
<circle cx="258.5" cy="313.9" r="2.55"/>
<circle cx="258.8" cy="315.2" r="2.55"/>
<circle cx="259.1" cy="314.8" r="2.55"/>
<circle cx="259.4" cy="315.2" r="2.55"/>
<circle cx="259.7" cy="314.3" r="2.55"/>
<circle cx="260.0" cy="314.6" r="2.55"/>
<circle cx="260.3" cy="314.3" r="2.55"/>
<circle cx="260.6" cy="315.1" r="2.55"/>
<circle cx="260.9" cy="313.8" r="2.55"/>
<circle cx="261.2" cy="314.7" r="2.55"/>
<circle cx="261.5" cy="314.8" r="2.55"/>
<circle cx="261.8" cy="314.8" r="2.55"/>
<circle cx="262.1" cy="314.1" r="2.55"/>
<circle cx="262.4" cy="315.6" r="2.55"/>
<circle cx="262.7" cy="314.3" r="2.55"/>
<circle cx="263.0" cy="313.1" r="2.55"/>
<circle cx="263.3" cy="314.4" r="2.55"/>
<circle cx="263.6" cy="313.7" r="2.55"/>
<circle cx="263.9" cy="313.8" r="2.55"/>
<circle cx="264.2" cy="315.2" r="2.55"/>
<circle cx="264.5" cy="315.0" r="2.55"/>
<circle cx="264.8" cy="314.4" r="2.55"/>
<circle cx="265.1" cy="315.3" r="2.55"/>
<circle cx="265.4" cy="314.4" r="2.55"/>
<circle cx="265.7" cy="315.2" r="2.55"/>
<circle cx="266.0" cy="315.1" r="2.55"/>
<circle cx="266.3" cy="314.5" r="2.55"/>
<circle cx="266.6" cy="315.1" r="2.55"/>
<circle cx="266.9" cy="315.1" r="2.55"/>
<circle cx="267.2" cy="314.4" r="2.55"/>
<circle cx="267.5" cy="314.7" r="2.55"/>
<circle cx="267.8" cy="314.6" r="2.55"/>
<circle cx="268.1" cy="314.0" r="2.55"/>
<circle cx="268.4" cy="314.6" r="2.55"/>
<circle cx="268.7" cy="315.7" r="2.55"/>
<circle cx="269.0" cy="314.0" r="2.55"/>
<circle cx="269.3" cy="314.3" r="2.55"/>
<circle cx="269.6" cy="314.8" r="2.55"/>
<circle cx="269.9" cy="314.7" r="2.55"/>
<circle cx="270.2" cy="314.4" r="2.55"/>
<circle cx="270.5" cy="314.4" r="2.55"/>
<circle cx="270.8" cy="314.5" r="2.55"/>
<circle cx="271.1" cy="314.9" r="2.55"/>
<circle cx="271.4" cy="314.2" r="2.55"/>
<circle cx="271.7" cy="313.6" r="2.55"/>
<circle cx="272.0" cy="315.4" r="2.55"/>
<circle cx="272.3" cy="315.1" r="2.55"/>
<circle cx="272.6" cy="314.1" r="2.55"/>
<circle cx="272.9" cy="314.6" r="2.55"/>
<circle cx="273.2" cy="314.3" r="2.55"/>
<circle cx="273.5" cy="315.2" r="2.55"/>
<circle cx="273.8" cy="315.9" r="2.55"/>
<circle cx="274.1" cy="314.1" r="2.55"/>
<circle cx="274.4" cy="314.2" r="2.55"/>
<circle cx="274.7" cy="314.3" r="2.55"/>
<circle cx="275.0" cy="314.7" r="2.55"/>
<circle cx="275.3" cy="315.0" r="2.55"/>
<circle cx="275.6" cy="313.9" r="2.55"/>
<circle cx="275.9" cy="314.0" r="2.55"/>
<circle cx="276.2" cy="314.0" r="2.55"/>
<circle cx="276.5" cy="314.6" r="2.55"/>
<circle cx="276.8" cy="314.9" r="2.55"/>
<circle cx="277.1" cy="314.4" r="2.55"/>
<circle cx="277.4" cy="313.5" r="2.55"/>
<circle cx="277.7" cy="314.3" r="2.55"/>
<circle cx="278.0" cy="315.4" r="2.55"/>
<circle cx="278.3" cy="315.0" r="2.55"/>
<circle cx="278.6" cy="313.6" r="2.55"/>
<circle cx="278.9" cy="315.3" r="2.55"/>
<circle cx="279.2" cy="313.9" r="2.55"/>
<circle cx="279.5" cy="315.0" r="2.55"/>
<circle cx="279.8" cy="314.2" r="2.55"/>
<circle cx="280.1" cy="315.0" r="2.55"/>
<circle cx="280.4" cy="313.9" r="2.55"/>
<circle cx="280.7" cy="314.9" r="2.55"/>
<circle cx="281.0" cy="314.7" r="2.55"/>
<circle cx="281.3" cy="314.5" r="2.55"/>
<circle cx="281.6" cy="314.1" r="2.55"/>
<circle cx="281.9" cy="314.3" r="2.55"/>
<circle cx="282.2" cy="313.6" r="2.55"/>
<circle cx="282.5" cy="313.6" r="2.55"/>
<circle cx="282.8" cy="313.8" r="2.55"/>
<circle cx="283.1" cy="313.7" r="2.55"/>
<circle cx="283.4" cy="314.3" r="2.55"/>
<circle cx="283.7" cy="314.1" r="2.55"/>
<circle cx="284.0" cy="314.8" r="2.55"/>
<circle cx="284.3" cy="314.0" r="2.55"/>
<circle cx="284.6" cy="313.9" r="2.55"/>
<circle cx="284.9" cy="314.5" r="2.55"/>
<circle cx="285.2" cy="314.8" r="2.55"/>
<circle cx="285.5" cy="314.2" r="2.55"/>
<circle cx="285.8" cy="315.0" r="2.55"/>
<circle cx="286.1" cy="315.1" r="2.55"/>
<circle cx="286.4" cy="314.3" r="2.55"/>
<circle cx="286.7" cy="315.2" r="2.55"/>
<circle cx="287.0" cy="315.0" r="2.55"/>
<circle cx="287.3" cy="314.4" r="2.55"/>
<circle cx="287.6" cy="315.2" r="2.55"/>
<circle cx="287.9" cy="314.0" r="2.55"/>
<circle cx="288.2" cy="314.0" r="2.55"/>
<circle cx="288.5" cy="314.8" r="2.55"/>
<circle cx="288.8" cy="314.6" r="2.55"/>
<circle cx="289.1" cy="315.4" r="2.55"/>
<circle cx="289.4" cy="313.7" r="2.55"/>
<circle cx="289.7" cy="314.7" r="2.55"/>
<circle cx="290.0" cy="314.4" r="2.55"/>
<circle cx="290.3" cy="314.7" r="2.55"/>
<circle cx="290.6" cy="315.2" r="2.55"/>
<circle cx="290.9" cy="314.8" r="2.55"/>
<circle cx="291.2" cy="313.8" r="2.55"/>
<circle cx="291.5" cy="315.2" r="2.55"/>
<circle cx="291.8" cy="314.2" r="2.55"/>
<circle cx="292.1" cy="314.0" r="2.55"/>
<circle cx="292.4" cy="314.9" r="2.55"/>
<circle cx="292.7" cy="315.4" r="2.55"/>
<circle cx="293.0" cy="314.3" r="2.55"/>
<circle cx="293.3" cy="315.4" r="2.55"/>
<circle cx="293.6" cy="315.0" r="2.55"/>
<circle cx="293.9" cy="313.5" r="2.55"/>
<circle cx="294.2" cy="314.7" r="2.55"/>
<circle cx="294.5" cy="314.5" r="2.55"/>
<circle cx="294.8" cy="314.6" r="2.55"/>
<circle cx="295.1" cy="314.3" r="2.55"/>
<circle cx="295.4" cy="315.1" r="2.55"/>
<circle cx="295.7" cy="315.3" r="2.55"/>
<circle cx="296.0" cy="313.9" r="2.55"/>
<circle cx="296.3" cy="315.0" r="2.55"/>
<circle cx="296.6" cy="314.4" r="2.55"/>
<circle cx="296.9" cy="315.2" r="2.55"/>
<circle cx="297.2" cy="314.8" r="2.55"/>
<circle cx="297.5" cy="315.1" r="2.55"/>
<circle cx="297.8" cy="314.3" r="2.55"/>
<circle cx="298.1" cy="314.6" r="2.55"/>
<circle cx="298.4" cy="315.2" r="2.55"/>
<circle cx="298.7" cy="315.1" r="2.55"/>
<circle cx="299.0" cy="314.1" r="2.55"/>
<circle cx="299.3" cy="315.3" r="2.55"/>
<circle cx="299.6" cy="314.8" r="2.55"/>
<circle cx="299.9" cy="314.1" r="2.55"/>
<circle cx="300.2" cy="315.5" r="2.55"/>
<circle cx="300.5" cy="314.8" r="2.55"/>
<circle cx="300.8" cy="314.4" r="2.55"/>
<circle cx="301.1" cy="314.7" r="2.55"/>
<circle cx="301.4" cy="314.1" r="2.55"/>
<circle cx="301.7" cy="313.5" r="2.55"/>
<circle cx="302.0" cy="313.5" r="2.55"/>
<circle cx="302.3" cy="314.9" r="2.55"/>
<circle cx="302.6" cy="314.6" r="2.55"/>
<circle cx="302.9" cy="314.7" r="2.55"/>
<circle cx="303.2" cy="315.1" r="2.55"/>
<circle cx="303.5" cy="313.5" r="2.55"/>
<circle cx="303.8" cy="314.3" r="2.55"/>
<circle cx="304.1" cy="313.8" r="2.55"/>
<circle cx="304.4" cy="314.1" r="2.55"/>
<circle cx="304.7" cy="314.9" r="2.55"/>
<circle cx="305.0" cy="314.1" r="2.55"/>
<circle cx="305.3" cy="313.9" r="2.55"/>
<circle cx="305.6" cy="314.5" r="2.55"/>
<circle cx="305.9" cy="314.1" r="2.55"/>
<circle cx="306.2" cy="314.1" r="2.55"/>
<circle cx="306.5" cy="315.1" r="2.55"/>
<circle cx="306.8" cy="314.7" r="2.55"/>
<circle cx="307.1" cy="314.0" r="2.55"/>
<circle cx="307.4" cy="314.5" r="2.55"/>
<circle cx="307.7" cy="314.0" r="2.55"/>
<circle cx="308.0" cy="313.8" r="2.55"/>
<circle cx="308.3" cy="315.1" r="2.55"/>
<circle cx="308.6" cy="314.1" r="2.55"/>
<circle cx="308.9" cy="314.1" r="2.55"/>
<circle cx="309.2" cy="314.9" r="2.55"/>
<circle cx="309.5" cy="315.1" r="2.55"/>
<circle cx="309.8" cy="314.1" r="2.55"/>
<circle cx="310.1" cy="315.2" r="2.55"/>
<circle cx="310.4" cy="314.0" r="2.55"/>
<circle cx="310.7" cy="315.7" r="2.55"/>
<circle cx="311.0" cy="314.5" r="2.55"/>
<circle cx="311.3" cy="314.2" r="2.55"/>
<circle cx="311.6" cy="314.6" r="2.55"/>
<circle cx="311.9" cy="315.4" r="2.55"/>
<circle cx="312.2" cy="314.3" r="2.55"/>
<circle cx="312.5" cy="314.5" r="2.55"/>
<circle cx="312.8" cy="315.3" r="2.55"/>
<circle cx="313.1" cy="315.6" r="2.55"/>
<circle cx="313.4" cy="313.5" r="2.55"/>
<circle cx="313.7" cy="314.8" r="2.55"/>
<circle cx="314.0" cy="314.9" r="2.55"/>
<circle cx="314.3" cy="315.0" r="2.55"/>
<circle cx="314.6" cy="313.7" r="2.55"/>
<circle cx="314.9" cy="314.3" r="2.55"/>
<circle cx="315.2" cy="314.0" r="2.55"/>
<circle cx="315.5" cy="313.6" r="2.55"/>
<circle cx="315.8" cy="314.7" r="2.55"/>
<circle cx="316.1" cy="313.2" r="2.55"/>
<circle cx="316.4" cy="314.3" r="2.55"/>
<circle cx="316.7" cy="314.1" r="2.55"/>
<circle cx="317.0" cy="314.2" r="2.55"/>
<circle cx="317.3" cy="313.3" r="2.55"/>
<circle cx="317.6" cy="315.5" r="2.55"/>
<circle cx="317.9" cy="314.4" r="2.55"/>
<circle cx="318.2" cy="314.4" r="2.55"/>
<circle cx="318.5" cy="314.7" r="2.55"/>
<circle cx="318.8" cy="313.6" r="2.55"/>
</g><g fill="#f99d5e" stroke="#1a0e06" stroke-width="0.8">
<circle cx="50.3" cy="176.9" r="2.55"/>
<circle cx="50.6" cy="205.0" r="2.55"/>
<circle cx="51.0" cy="230.5" r="2.55"/>
<circle cx="51.3" cy="249.6" r="2.55"/>
<circle cx="51.6" cy="262.6" r="2.55"/>
<circle cx="51.9" cy="266.8" r="2.55"/>
<circle cx="52.3" cy="276.7" r="2.55"/>
<circle cx="52.7" cy="281.6" r="2.55"/>
<circle cx="53.2" cy="286.5" r="2.55"/>
<circle cx="53.8" cy="290.8" r="2.55"/>
<circle cx="54.5" cy="294.3" r="2.55"/>
<circle cx="55.2" cy="297.8" r="2.55"/>
<circle cx="56.0" cy="301.0" r="2.55"/>
<circle cx="56.3" cy="304.6" r="2.55"/>
<circle cx="56.6" cy="304.5" r="2.55"/>
<circle cx="56.9" cy="305.7" r="2.55"/>
<circle cx="57.2" cy="306.6" r="2.55"/>
<circle cx="57.5" cy="305.9" r="2.55"/>
<circle cx="57.8" cy="305.6" r="2.55"/>
<circle cx="58.1" cy="307.4" r="2.55"/>
<circle cx="58.4" cy="308.4" r="2.55"/>
<circle cx="58.7" cy="307.2" r="2.55"/>
<circle cx="59.0" cy="308.7" r="2.55"/>
<circle cx="59.3" cy="308.7" r="2.55"/>
<circle cx="59.6" cy="310.0" r="2.55"/>
<circle cx="59.9" cy="308.8" r="2.55"/>
<circle cx="60.2" cy="309.1" r="2.55"/>
<circle cx="60.5" cy="309.3" r="2.55"/>
<circle cx="60.8" cy="310.3" r="2.55"/>
<circle cx="61.1" cy="311.2" r="2.55"/>
<circle cx="61.4" cy="310.1" r="2.55"/>
<circle cx="61.7" cy="311.4" r="2.55"/>
<circle cx="62.0" cy="312.4" r="2.55"/>
<circle cx="62.3" cy="310.8" r="2.55"/>
<circle cx="62.6" cy="311.2" r="2.55"/>
<circle cx="62.9" cy="312.5" r="2.55"/>
<circle cx="63.2" cy="311.5" r="2.55"/>
<circle cx="63.5" cy="313.2" r="2.55"/>
<circle cx="63.8" cy="312.6" r="2.55"/>
<circle cx="64.1" cy="312.1" r="2.55"/>
<circle cx="64.4" cy="312.9" r="2.55"/>
<circle cx="64.7" cy="312.7" r="2.55"/>
<circle cx="65.0" cy="313.4" r="2.55"/>
<circle cx="65.3" cy="312.9" r="2.55"/>
<circle cx="65.6" cy="312.9" r="2.55"/>
<circle cx="65.9" cy="313.0" r="2.55"/>
<circle cx="66.2" cy="312.7" r="2.55"/>
<circle cx="66.5" cy="313.0" r="2.55"/>
<circle cx="66.8" cy="314.4" r="2.55"/>
<circle cx="67.1" cy="314.4" r="2.55"/>
<circle cx="67.4" cy="313.9" r="2.55"/>
<circle cx="67.7" cy="313.8" r="2.55"/>
<circle cx="68.0" cy="313.5" r="2.55"/>
<circle cx="68.3" cy="313.8" r="2.55"/>
<circle cx="68.6" cy="314.1" r="2.55"/>
<circle cx="68.9" cy="315.6" r="2.55"/>
<circle cx="69.2" cy="314.2" r="2.55"/>
<circle cx="69.5" cy="314.2" r="2.55"/>
<circle cx="69.8" cy="315.3" r="2.55"/>
<circle cx="70.1" cy="313.8" r="2.55"/>
<circle cx="70.4" cy="314.4" r="2.55"/>
<circle cx="70.7" cy="314.6" r="2.55"/>
<circle cx="71.0" cy="314.9" r="2.55"/>
<circle cx="71.3" cy="315.1" r="2.55"/>
<circle cx="71.6" cy="315.1" r="2.55"/>
<circle cx="71.9" cy="315.7" r="2.55"/>
<circle cx="72.2" cy="314.9" r="2.55"/>
<circle cx="72.5" cy="315.6" r="2.55"/>
<circle cx="72.8" cy="313.8" r="2.55"/>
<circle cx="73.1" cy="314.1" r="2.55"/>
<circle cx="73.4" cy="314.5" r="2.55"/>
<circle cx="73.7" cy="314.3" r="2.55"/>
<circle cx="74.0" cy="314.6" r="2.55"/>
<circle cx="74.3" cy="315.0" r="2.55"/>
<circle cx="74.6" cy="315.1" r="2.55"/>
<circle cx="74.9" cy="313.6" r="2.55"/>
<circle cx="75.2" cy="315.8" r="2.55"/>
<circle cx="75.5" cy="314.4" r="2.55"/>
<circle cx="75.8" cy="314.4" r="2.55"/>
<circle cx="76.1" cy="315.2" r="2.55"/>
<circle cx="76.4" cy="315.5" r="2.55"/>
<circle cx="76.7" cy="315.1" r="2.55"/>
<circle cx="77.0" cy="314.6" r="2.55"/>
<circle cx="77.3" cy="314.2" r="2.55"/>
<circle cx="77.6" cy="315.3" r="2.55"/>
<circle cx="77.9" cy="315.0" r="2.55"/>
<circle cx="78.2" cy="314.9" r="2.55"/>
<circle cx="78.5" cy="315.0" r="2.55"/>
<circle cx="78.8" cy="314.8" r="2.55"/>
<circle cx="79.1" cy="315.5" r="2.55"/>
<circle cx="79.4" cy="314.6" r="2.55"/>
<circle cx="79.7" cy="314.5" r="2.55"/>
<circle cx="80.0" cy="315.0" r="2.55"/>
<circle cx="80.3" cy="314.0" r="2.55"/>
<circle cx="80.6" cy="314.4" r="2.55"/>
<circle cx="80.9" cy="314.9" r="2.55"/>
<circle cx="81.2" cy="314.6" r="2.55"/>
<circle cx="81.5" cy="314.2" r="2.55"/>
<circle cx="81.8" cy="316.3" r="2.55"/>
<circle cx="82.1" cy="315.6" r="2.55"/>
<circle cx="82.4" cy="314.1" r="2.55"/>
<circle cx="82.7" cy="315.0" r="2.55"/>
<circle cx="83.0" cy="314.5" r="2.55"/>
<circle cx="83.3" cy="313.7" r="2.55"/>
<circle cx="83.6" cy="315.0" r="2.55"/>
<circle cx="83.9" cy="314.2" r="2.55"/>
<circle cx="84.2" cy="314.7" r="2.55"/>
<circle cx="84.5" cy="315.1" r="2.55"/>
<circle cx="84.8" cy="314.4" r="2.55"/>
<circle cx="85.1" cy="313.5" r="2.55"/>
<circle cx="85.4" cy="314.7" r="2.55"/>
<circle cx="85.7" cy="315.0" r="2.55"/>
<circle cx="86.0" cy="315.3" r="2.55"/>
<circle cx="86.3" cy="314.5" r="2.55"/>
<circle cx="86.6" cy="315.4" r="2.55"/>
<circle cx="86.9" cy="315.1" r="2.55"/>
<circle cx="87.2" cy="314.6" r="2.55"/>
<circle cx="87.5" cy="314.0" r="2.55"/>
<circle cx="87.8" cy="315.0" r="2.55"/>
<circle cx="88.1" cy="314.2" r="2.55"/>
<circle cx="88.4" cy="314.1" r="2.55"/>
<circle cx="88.7" cy="314.0" r="2.55"/>
<circle cx="89.0" cy="314.1" r="2.55"/>
<circle cx="89.3" cy="314.5" r="2.55"/>
<circle cx="89.6" cy="314.2" r="2.55"/>
<circle cx="89.9" cy="314.9" r="2.55"/>
<circle cx="90.2" cy="314.3" r="2.55"/>
<circle cx="90.5" cy="314.2" r="2.55"/>
<circle cx="90.8" cy="315.3" r="2.55"/>
<circle cx="91.1" cy="314.2" r="2.55"/>
<circle cx="91.4" cy="314.8" r="2.55"/>
<circle cx="91.7" cy="314.3" r="2.55"/>
<circle cx="92.0" cy="314.4" r="2.55"/>
<circle cx="92.3" cy="315.4" r="2.55"/>
<circle cx="92.6" cy="313.9" r="2.55"/>
<circle cx="92.9" cy="315.2" r="2.55"/>
<circle cx="93.2" cy="314.7" r="2.55"/>
<circle cx="93.5" cy="314.5" r="2.55"/>
<circle cx="93.8" cy="315.0" r="2.55"/>
<circle cx="94.1" cy="314.8" r="2.55"/>
<circle cx="94.4" cy="313.8" r="2.55"/>
<circle cx="94.7" cy="314.6" r="2.55"/>
<circle cx="95.0" cy="315.2" r="2.55"/>
<circle cx="95.3" cy="315.0" r="2.55"/>
<circle cx="95.6" cy="314.9" r="2.55"/>
<circle cx="95.9" cy="314.3" r="2.55"/>
<circle cx="96.2" cy="314.4" r="2.55"/>
<circle cx="96.5" cy="315.0" r="2.55"/>
<circle cx="96.8" cy="315.4" r="2.55"/>
<circle cx="97.1" cy="315.0" r="2.55"/>
<circle cx="97.4" cy="314.2" r="2.55"/>
<circle cx="97.7" cy="314.9" r="2.55"/>
<circle cx="98.0" cy="314.9" r="2.55"/>
<circle cx="98.3" cy="314.6" r="2.55"/>
<circle cx="98.6" cy="314.9" r="2.55"/>
<circle cx="98.9" cy="314.6" r="2.55"/>
<circle cx="99.2" cy="314.6" r="2.55"/>
<circle cx="99.5" cy="315.4" r="2.55"/>
<circle cx="99.8" cy="313.8" r="2.55"/>
<circle cx="100.1" cy="314.7" r="2.55"/>
<circle cx="100.4" cy="314.4" r="2.55"/>
<circle cx="100.7" cy="315.5" r="2.55"/>
<circle cx="101.0" cy="314.2" r="2.55"/>
<circle cx="101.3" cy="314.4" r="2.55"/>
<circle cx="101.6" cy="315.5" r="2.55"/>
<circle cx="101.9" cy="314.0" r="2.55"/>
<circle cx="102.2" cy="314.3" r="2.55"/>
<circle cx="102.5" cy="314.4" r="2.55"/>
<circle cx="102.8" cy="314.7" r="2.55"/>
<circle cx="103.1" cy="313.9" r="2.55"/>
<circle cx="103.4" cy="315.0" r="2.55"/>
<circle cx="103.7" cy="314.1" r="2.55"/>
<circle cx="104.0" cy="314.4" r="2.55"/>
<circle cx="104.3" cy="314.9" r="2.55"/>
<circle cx="104.6" cy="314.9" r="2.55"/>
<circle cx="104.9" cy="315.3" r="2.55"/>
<circle cx="105.2" cy="314.9" r="2.55"/>
<circle cx="105.5" cy="313.6" r="2.55"/>
<circle cx="105.8" cy="314.8" r="2.55"/>
<circle cx="106.1" cy="314.5" r="2.55"/>
<circle cx="106.4" cy="314.2" r="2.55"/>
<circle cx="106.7" cy="315.0" r="2.55"/>
<circle cx="107.0" cy="314.9" r="2.55"/>
<circle cx="107.3" cy="314.2" r="2.55"/>
<circle cx="107.6" cy="315.2" r="2.55"/>
<circle cx="107.9" cy="314.0" r="2.55"/>
<circle cx="108.2" cy="313.9" r="2.55"/>
<circle cx="108.5" cy="315.2" r="2.55"/>
<circle cx="108.8" cy="314.2" r="2.55"/>
<circle cx="109.1" cy="314.4" r="2.55"/>
<circle cx="109.4" cy="314.6" r="2.55"/>
<circle cx="109.7" cy="314.6" r="2.55"/>
<circle cx="110.0" cy="314.8" r="2.55"/>
<circle cx="110.3" cy="315.3" r="2.55"/>
<circle cx="110.6" cy="314.4" r="2.55"/>
<circle cx="110.9" cy="314.7" r="2.55"/>
<circle cx="111.2" cy="314.8" r="2.55"/>
<circle cx="111.5" cy="315.9" r="2.55"/>
<circle cx="111.8" cy="315.2" r="2.55"/>
<circle cx="112.1" cy="314.5" r="2.55"/>
<circle cx="112.4" cy="314.3" r="2.55"/>
<circle cx="112.7" cy="314.7" r="2.55"/>
<circle cx="113.0" cy="314.1" r="2.55"/>
<circle cx="113.3" cy="314.5" r="2.55"/>
<circle cx="113.6" cy="314.6" r="2.55"/>
<circle cx="113.9" cy="313.8" r="2.55"/>
<circle cx="114.2" cy="314.1" r="2.55"/>
<circle cx="114.5" cy="314.1" r="2.55"/>
<circle cx="114.8" cy="314.8" r="2.55"/>
<circle cx="115.1" cy="315.2" r="2.55"/>
<circle cx="115.4" cy="314.5" r="2.55"/>
<circle cx="115.7" cy="315.7" r="2.55"/>
<circle cx="116.0" cy="315.4" r="2.55"/>
<circle cx="116.3" cy="315.3" r="2.55"/>
<circle cx="116.6" cy="314.9" r="2.55"/>
<circle cx="116.9" cy="314.6" r="2.55"/>
<circle cx="117.2" cy="315.0" r="2.55"/>
<circle cx="117.5" cy="313.8" r="2.55"/>
<circle cx="117.8" cy="314.4" r="2.55"/>
<circle cx="118.1" cy="315.7" r="2.55"/>
<circle cx="118.4" cy="314.6" r="2.55"/>
<circle cx="118.7" cy="314.4" r="2.55"/>
<circle cx="119.0" cy="315.3" r="2.55"/>
<circle cx="119.3" cy="314.6" r="2.55"/>
<circle cx="119.6" cy="315.4" r="2.55"/>
<circle cx="119.9" cy="313.6" r="2.55"/>
<circle cx="120.2" cy="314.2" r="2.55"/>
<circle cx="120.5" cy="314.4" r="2.55"/>
<circle cx="120.8" cy="314.0" r="2.55"/>
<circle cx="121.1" cy="315.1" r="2.55"/>
<circle cx="121.4" cy="314.1" r="2.55"/>
<circle cx="121.7" cy="314.7" r="2.55"/>
<circle cx="122.0" cy="314.4" r="2.55"/>
<circle cx="122.3" cy="314.1" r="2.55"/>
<circle cx="122.6" cy="314.6" r="2.55"/>
<circle cx="122.9" cy="314.1" r="2.55"/>
<circle cx="123.2" cy="314.1" r="2.55"/>
<circle cx="123.5" cy="315.3" r="2.55"/>
<circle cx="123.8" cy="314.0" r="2.55"/>
<circle cx="124.1" cy="313.7" r="2.55"/>
<circle cx="124.4" cy="314.2" r="2.55"/>
<circle cx="124.7" cy="314.3" r="2.55"/>
<circle cx="125.0" cy="315.3" r="2.55"/>
<circle cx="125.3" cy="314.8" r="2.55"/>
<circle cx="125.6" cy="315.5" r="2.55"/>
<circle cx="125.9" cy="314.9" r="2.55"/>
<circle cx="126.2" cy="314.7" r="2.55"/>
<circle cx="126.5" cy="314.5" r="2.55"/>
<circle cx="126.8" cy="314.2" r="2.55"/>
<circle cx="127.1" cy="313.5" r="2.55"/>
<circle cx="127.4" cy="313.9" r="2.55"/>
<circle cx="127.7" cy="314.8" r="2.55"/>
<circle cx="128.0" cy="315.1" r="2.55"/>
<circle cx="128.3" cy="314.9" r="2.55"/>
<circle cx="128.6" cy="313.6" r="2.55"/>
<circle cx="128.9" cy="314.8" r="2.55"/>
<circle cx="129.2" cy="314.1" r="2.55"/>
<circle cx="129.5" cy="315.3" r="2.55"/>
<circle cx="129.8" cy="314.7" r="2.55"/>
<circle cx="130.1" cy="315.0" r="2.55"/>
<circle cx="130.4" cy="314.9" r="2.55"/>
<circle cx="130.7" cy="315.1" r="2.55"/>
<circle cx="131.0" cy="315.0" r="2.55"/>
<circle cx="131.3" cy="314.1" r="2.55"/>
<circle cx="131.6" cy="314.2" r="2.55"/>
<circle cx="131.9" cy="314.0" r="2.55"/>
<circle cx="132.2" cy="314.1" r="2.55"/>
<circle cx="132.5" cy="314.4" r="2.55"/>
<circle cx="132.8" cy="314.6" r="2.55"/>
<circle cx="133.1" cy="314.4" r="2.55"/>
<circle cx="133.4" cy="314.9" r="2.55"/>
<circle cx="133.7" cy="313.9" r="2.55"/>
<circle cx="134.0" cy="313.6" r="2.55"/>
<circle cx="134.3" cy="315.7" r="2.55"/>
<circle cx="134.6" cy="314.4" r="2.55"/>
<circle cx="134.9" cy="314.5" r="2.55"/>
<circle cx="135.2" cy="314.0" r="2.55"/>
<circle cx="135.5" cy="314.3" r="2.55"/>
<circle cx="135.8" cy="314.5" r="2.55"/>
<circle cx="136.1" cy="314.8" r="2.55"/>
<circle cx="136.4" cy="314.4" r="2.55"/>
<circle cx="136.7" cy="315.2" r="2.55"/>
<circle cx="137.0" cy="315.4" r="2.55"/>
<circle cx="137.3" cy="315.1" r="2.55"/>
<circle cx="137.6" cy="314.7" r="2.55"/>
<circle cx="137.9" cy="314.1" r="2.55"/>
<circle cx="138.2" cy="314.3" r="2.55"/>
<circle cx="138.5" cy="314.0" r="2.55"/>
<circle cx="138.8" cy="315.0" r="2.55"/>
<circle cx="139.1" cy="313.1" r="2.55"/>
<circle cx="139.4" cy="315.4" r="2.55"/>
<circle cx="139.7" cy="314.3" r="2.55"/>
<circle cx="140.0" cy="314.0" r="2.55"/>
<circle cx="140.3" cy="313.7" r="2.55"/>
<circle cx="140.6" cy="314.7" r="2.55"/>
<circle cx="140.9" cy="314.8" r="2.55"/>
<circle cx="141.2" cy="314.4" r="2.55"/>
<circle cx="141.5" cy="315.4" r="2.55"/>
<circle cx="141.8" cy="314.7" r="2.55"/>
<circle cx="142.1" cy="314.6" r="2.55"/>
<circle cx="142.4" cy="314.2" r="2.55"/>
<circle cx="142.7" cy="314.7" r="2.55"/>
<circle cx="143.0" cy="314.2" r="2.55"/>
<circle cx="143.3" cy="314.1" r="2.55"/>
<circle cx="143.6" cy="314.9" r="2.55"/>
<circle cx="143.9" cy="314.6" r="2.55"/>
<circle cx="144.2" cy="314.8" r="2.55"/>
<circle cx="144.5" cy="315.0" r="2.55"/>
<circle cx="144.8" cy="314.9" r="2.55"/>
<circle cx="145.1" cy="314.0" r="2.55"/>
<circle cx="145.4" cy="314.7" r="2.55"/>
<circle cx="145.7" cy="314.2" r="2.55"/>
<circle cx="146.0" cy="313.7" r="2.55"/>
<circle cx="146.3" cy="314.3" r="2.55"/>
<circle cx="146.6" cy="314.4" r="2.55"/>
<circle cx="146.9" cy="313.2" r="2.55"/>
<circle cx="147.2" cy="314.6" r="2.55"/>
<circle cx="147.5" cy="315.2" r="2.55"/>
<circle cx="147.8" cy="313.9" r="2.55"/>
<circle cx="148.1" cy="315.2" r="2.55"/>
<circle cx="148.4" cy="313.4" r="2.55"/>
<circle cx="148.7" cy="315.1" r="2.55"/>
<circle cx="149.0" cy="315.2" r="2.55"/>
<circle cx="149.3" cy="315.6" r="2.55"/>
<circle cx="149.6" cy="313.8" r="2.55"/>
<circle cx="149.9" cy="315.4" r="2.55"/>
<circle cx="150.2" cy="315.1" r="2.55"/>
<circle cx="150.5" cy="314.6" r="2.55"/>
<circle cx="150.8" cy="314.6" r="2.55"/>
<circle cx="151.1" cy="315.0" r="2.55"/>
<circle cx="151.4" cy="315.1" r="2.55"/>
<circle cx="151.7" cy="313.9" r="2.55"/>
<circle cx="152.0" cy="314.7" r="2.55"/>
<circle cx="152.3" cy="315.3" r="2.55"/>
<circle cx="152.6" cy="313.6" r="2.55"/>
<circle cx="152.9" cy="314.9" r="2.55"/>
<circle cx="153.2" cy="313.9" r="2.55"/>
<circle cx="153.5" cy="314.7" r="2.55"/>
<circle cx="153.8" cy="315.0" r="2.55"/>
<circle cx="154.1" cy="313.6" r="2.55"/>
<circle cx="154.4" cy="314.8" r="2.55"/>
<circle cx="154.7" cy="314.9" r="2.55"/>
<circle cx="155.0" cy="313.8" r="2.55"/>
<circle cx="155.3" cy="314.9" r="2.55"/>
<circle cx="155.6" cy="314.7" r="2.55"/>
<circle cx="155.9" cy="314.6" r="2.55"/>
<circle cx="156.2" cy="314.6" r="2.55"/>
<circle cx="156.5" cy="315.6" r="2.55"/>
<circle cx="156.8" cy="314.7" r="2.55"/>
<circle cx="157.1" cy="314.5" r="2.55"/>
<circle cx="157.4" cy="313.6" r="2.55"/>
<circle cx="157.7" cy="314.2" r="2.55"/>
<circle cx="158.0" cy="315.4" r="2.55"/>
<circle cx="158.3" cy="315.6" r="2.55"/>
<circle cx="158.6" cy="315.5" r="2.55"/>
<circle cx="158.9" cy="314.8" r="2.55"/>
<circle cx="159.2" cy="314.7" r="2.55"/>
<circle cx="159.5" cy="314.8" r="2.55"/>
<circle cx="159.8" cy="315.0" r="2.55"/>
<circle cx="160.1" cy="314.8" r="2.55"/>
<circle cx="160.4" cy="314.9" r="2.55"/>
<circle cx="160.7" cy="314.3" r="2.55"/>
<circle cx="161.0" cy="314.7" r="2.55"/>
<circle cx="161.3" cy="314.6" r="2.55"/>
<circle cx="161.6" cy="313.9" r="2.55"/>
<circle cx="161.9" cy="313.9" r="2.55"/>
<circle cx="162.2" cy="314.4" r="2.55"/>
<circle cx="162.5" cy="315.1" r="2.55"/>
<circle cx="162.8" cy="314.9" r="2.55"/>
<circle cx="163.1" cy="314.9" r="2.55"/>
<circle cx="163.4" cy="313.9" r="2.55"/>
<circle cx="163.7" cy="314.2" r="2.55"/>
<circle cx="164.0" cy="314.2" r="2.55"/>
<circle cx="164.3" cy="315.0" r="2.55"/>
<circle cx="164.6" cy="314.4" r="2.55"/>
<circle cx="164.9" cy="315.0" r="2.55"/>
<circle cx="165.2" cy="314.4" r="2.55"/>
<circle cx="165.5" cy="314.0" r="2.55"/>
<circle cx="165.8" cy="314.3" r="2.55"/>
<circle cx="166.1" cy="314.5" r="2.55"/>
<circle cx="166.4" cy="313.9" r="2.55"/>
<circle cx="166.7" cy="314.3" r="2.55"/>
<circle cx="167.0" cy="315.0" r="2.55"/>
<circle cx="167.3" cy="314.3" r="2.55"/>
<circle cx="167.6" cy="315.3" r="2.55"/>
<circle cx="167.9" cy="314.4" r="2.55"/>
<circle cx="168.2" cy="315.2" r="2.55"/>
<circle cx="168.5" cy="314.4" r="2.55"/>
<circle cx="168.8" cy="314.5" r="2.55"/>
<circle cx="169.1" cy="315.6" r="2.55"/>
<circle cx="169.4" cy="315.3" r="2.55"/>
<circle cx="169.7" cy="314.6" r="2.55"/>
<circle cx="170.0" cy="314.7" r="2.55"/>
<circle cx="170.3" cy="315.3" r="2.55"/>
<circle cx="170.6" cy="314.7" r="2.55"/>
<circle cx="170.9" cy="315.5" r="2.55"/>
<circle cx="171.2" cy="314.9" r="2.55"/>
<circle cx="171.5" cy="314.5" r="2.55"/>
<circle cx="171.8" cy="315.7" r="2.55"/>
<circle cx="172.1" cy="314.7" r="2.55"/>
<circle cx="172.4" cy="314.5" r="2.55"/>
<circle cx="172.7" cy="314.1" r="2.55"/>
<circle cx="173.0" cy="315.3" r="2.55"/>
<circle cx="173.3" cy="314.5" r="2.55"/>
<circle cx="173.6" cy="313.3" r="2.55"/>
<circle cx="173.9" cy="313.7" r="2.55"/>
<circle cx="174.2" cy="314.8" r="2.55"/>
<circle cx="174.5" cy="315.0" r="2.55"/>
<circle cx="174.8" cy="314.0" r="2.55"/>
<circle cx="175.1" cy="315.4" r="2.55"/>
<circle cx="175.4" cy="314.5" r="2.55"/>
<circle cx="175.7" cy="314.8" r="2.55"/>
<circle cx="176.0" cy="314.9" r="2.55"/>
<circle cx="176.3" cy="314.3" r="2.55"/>
<circle cx="176.6" cy="314.0" r="2.55"/>
<circle cx="176.9" cy="313.8" r="2.55"/>
<circle cx="177.2" cy="313.9" r="2.55"/>
<circle cx="177.5" cy="314.7" r="2.55"/>
<circle cx="177.8" cy="314.6" r="2.55"/>
<circle cx="178.1" cy="315.1" r="2.55"/>
<circle cx="178.4" cy="315.0" r="2.55"/>
<circle cx="178.7" cy="315.0" r="2.55"/>
<circle cx="179.0" cy="313.8" r="2.55"/>
<circle cx="179.3" cy="315.4" r="2.55"/>
<circle cx="179.6" cy="315.4" r="2.55"/>
<circle cx="179.9" cy="314.2" r="2.55"/>
<circle cx="180.2" cy="314.8" r="2.55"/>
<circle cx="180.5" cy="315.2" r="2.55"/>
<circle cx="180.8" cy="314.7" r="2.55"/>
<circle cx="181.1" cy="314.8" r="2.55"/>
<circle cx="181.4" cy="314.5" r="2.55"/>
<circle cx="181.7" cy="314.6" r="2.55"/>
<circle cx="182.0" cy="314.6" r="2.55"/>
<circle cx="182.3" cy="315.4" r="2.55"/>
<circle cx="182.6" cy="315.2" r="2.55"/>
<circle cx="182.9" cy="314.3" r="2.55"/>
<circle cx="183.2" cy="315.1" r="2.55"/>
<circle cx="183.5" cy="314.5" r="2.55"/>
<circle cx="183.8" cy="313.7" r="2.55"/>
<circle cx="184.1" cy="313.6" r="2.55"/>
<circle cx="184.4" cy="315.0" r="2.55"/>
<circle cx="184.7" cy="313.8" r="2.55"/>
<circle cx="185.0" cy="314.1" r="2.55"/>
<circle cx="185.3" cy="313.9" r="2.55"/>
<circle cx="185.6" cy="314.2" r="2.55"/>
<circle cx="185.9" cy="314.9" r="2.55"/>
<circle cx="186.2" cy="314.3" r="2.55"/>
<circle cx="186.5" cy="313.8" r="2.55"/>
<circle cx="186.8" cy="315.0" r="2.55"/>
<circle cx="187.1" cy="314.6" r="2.55"/>
<circle cx="187.4" cy="314.3" r="2.55"/>
<circle cx="187.7" cy="315.2" r="2.55"/>
<circle cx="188.0" cy="315.6" r="2.55"/>
<circle cx="188.3" cy="315.7" r="2.55"/>
<circle cx="188.6" cy="313.7" r="2.55"/>
<circle cx="188.9" cy="315.0" r="2.55"/>
<circle cx="189.2" cy="314.5" r="2.55"/>
<circle cx="189.5" cy="314.2" r="2.55"/>
<circle cx="189.8" cy="314.6" r="2.55"/>
<circle cx="190.1" cy="315.5" r="2.55"/>
<circle cx="190.4" cy="315.1" r="2.55"/>
<circle cx="190.7" cy="314.4" r="2.55"/>
<circle cx="191.0" cy="313.7" r="2.55"/>
<circle cx="191.3" cy="315.0" r="2.55"/>
<circle cx="191.6" cy="315.3" r="2.55"/>
<circle cx="191.9" cy="314.6" r="2.55"/>
<circle cx="192.2" cy="313.8" r="2.55"/>
<circle cx="192.5" cy="315.1" r="2.55"/>
<circle cx="192.8" cy="314.9" r="2.55"/>
<circle cx="193.1" cy="314.2" r="2.55"/>
<circle cx="193.4" cy="314.7" r="2.55"/>
<circle cx="193.7" cy="314.0" r="2.55"/>
<circle cx="194.0" cy="314.4" r="2.55"/>
<circle cx="194.3" cy="313.9" r="2.55"/>
<circle cx="194.6" cy="314.3" r="2.55"/>
<circle cx="194.9" cy="315.4" r="2.55"/>
<circle cx="195.2" cy="313.6" r="2.55"/>
<circle cx="195.5" cy="315.0" r="2.55"/>
<circle cx="195.8" cy="315.7" r="2.55"/>
<circle cx="196.1" cy="313.8" r="2.55"/>
<circle cx="196.4" cy="314.8" r="2.55"/>
<circle cx="196.7" cy="314.3" r="2.55"/>
<circle cx="197.0" cy="314.6" r="2.55"/>
<circle cx="197.3" cy="314.5" r="2.55"/>
<circle cx="197.6" cy="315.6" r="2.55"/>
<circle cx="197.9" cy="314.5" r="2.55"/>
<circle cx="198.2" cy="316.0" r="2.55"/>
<circle cx="198.5" cy="315.3" r="2.55"/>
<circle cx="198.8" cy="314.7" r="2.55"/>
<circle cx="199.1" cy="315.0" r="2.55"/>
<circle cx="199.4" cy="314.4" r="2.55"/>
<circle cx="199.7" cy="315.7" r="2.55"/>
<circle cx="200.0" cy="315.0" r="2.55"/>
<circle cx="200.3" cy="315.3" r="2.55"/>
<circle cx="200.6" cy="314.3" r="2.55"/>
<circle cx="200.9" cy="315.8" r="2.55"/>
<circle cx="201.2" cy="314.2" r="2.55"/>
<circle cx="201.5" cy="314.3" r="2.55"/>
<circle cx="201.8" cy="313.8" r="2.55"/>
<circle cx="202.1" cy="314.2" r="2.55"/>
<circle cx="202.4" cy="314.8" r="2.55"/>
<circle cx="202.7" cy="313.8" r="2.55"/>
<circle cx="203.0" cy="314.1" r="2.55"/>
<circle cx="203.3" cy="314.0" r="2.55"/>
<circle cx="203.6" cy="315.3" r="2.55"/>
<circle cx="203.9" cy="314.2" r="2.55"/>
<circle cx="204.2" cy="314.3" r="2.55"/>
<circle cx="204.5" cy="315.8" r="2.55"/>
<circle cx="204.8" cy="314.9" r="2.55"/>
<circle cx="205.1" cy="315.9" r="2.55"/>
<circle cx="205.4" cy="315.7" r="2.55"/>
<circle cx="205.7" cy="314.0" r="2.55"/>
<circle cx="206.0" cy="314.7" r="2.55"/>
<circle cx="206.3" cy="314.1" r="2.55"/>
<circle cx="206.6" cy="315.0" r="2.55"/>
<circle cx="206.9" cy="315.0" r="2.55"/>
<circle cx="207.2" cy="314.5" r="2.55"/>
<circle cx="207.5" cy="313.5" r="2.55"/>
<circle cx="207.8" cy="315.6" r="2.55"/>
<circle cx="208.1" cy="314.7" r="2.55"/>
<circle cx="208.4" cy="314.4" r="2.55"/>
<circle cx="208.7" cy="313.1" r="2.55"/>
<circle cx="209.0" cy="314.7" r="2.55"/>
<circle cx="209.3" cy="313.8" r="2.55"/>
<circle cx="209.6" cy="315.2" r="2.55"/>
<circle cx="209.9" cy="314.4" r="2.55"/>
<circle cx="210.2" cy="314.7" r="2.55"/>
<circle cx="210.5" cy="314.2" r="2.55"/>
<circle cx="210.8" cy="314.8" r="2.55"/>
<circle cx="211.1" cy="314.1" r="2.55"/>
<circle cx="211.4" cy="315.4" r="2.55"/>
<circle cx="211.7" cy="315.0" r="2.55"/>
<circle cx="212.0" cy="314.2" r="2.55"/>
<circle cx="212.3" cy="314.9" r="2.55"/>
<circle cx="212.6" cy="314.5" r="2.55"/>
<circle cx="212.9" cy="314.7" r="2.55"/>
<circle cx="213.2" cy="315.4" r="2.55"/>
<circle cx="213.5" cy="314.4" r="2.55"/>
<circle cx="213.8" cy="315.2" r="2.55"/>
<circle cx="214.1" cy="314.3" r="2.55"/>
<circle cx="214.4" cy="315.4" r="2.55"/>
<circle cx="214.7" cy="313.8" r="2.55"/>
<circle cx="215.0" cy="314.8" r="2.55"/>
<circle cx="215.3" cy="314.9" r="2.55"/>
<circle cx="215.6" cy="314.5" r="2.55"/>
<circle cx="215.9" cy="314.6" r="2.55"/>
<circle cx="216.2" cy="313.5" r="2.55"/>
<circle cx="216.5" cy="313.9" r="2.55"/>
<circle cx="216.8" cy="314.2" r="2.55"/>
<circle cx="217.1" cy="315.2" r="2.55"/>
<circle cx="217.4" cy="314.1" r="2.55"/>
<circle cx="217.7" cy="314.6" r="2.55"/>
<circle cx="218.0" cy="314.2" r="2.55"/>
<circle cx="218.3" cy="313.8" r="2.55"/>
<circle cx="218.6" cy="315.7" r="2.55"/>
<circle cx="218.9" cy="314.7" r="2.55"/>
<circle cx="219.2" cy="315.6" r="2.55"/>
<circle cx="219.5" cy="314.7" r="2.55"/>
<circle cx="219.8" cy="315.1" r="2.55"/>
<circle cx="220.1" cy="314.5" r="2.55"/>
<circle cx="220.4" cy="313.9" r="2.55"/>
<circle cx="220.7" cy="314.1" r="2.55"/>
<circle cx="221.0" cy="313.8" r="2.55"/>
<circle cx="221.3" cy="313.9" r="2.55"/>
<circle cx="221.6" cy="315.4" r="2.55"/>
<circle cx="221.9" cy="314.8" r="2.55"/>
<circle cx="222.2" cy="314.8" r="2.55"/>
<circle cx="222.5" cy="314.3" r="2.55"/>
<circle cx="222.8" cy="315.1" r="2.55"/>
<circle cx="223.1" cy="314.7" r="2.55"/>
<circle cx="223.4" cy="314.0" r="2.55"/>
<circle cx="223.7" cy="315.5" r="2.55"/>
<circle cx="224.0" cy="315.6" r="2.55"/>
<circle cx="224.3" cy="315.3" r="2.55"/>
<circle cx="224.6" cy="315.3" r="2.55"/>
<circle cx="224.9" cy="314.6" r="2.55"/>
<circle cx="225.2" cy="313.9" r="2.55"/>
<circle cx="225.5" cy="314.5" r="2.55"/>
<circle cx="225.8" cy="314.3" r="2.55"/>
<circle cx="226.1" cy="314.9" r="2.55"/>
<circle cx="226.4" cy="314.4" r="2.55"/>
<circle cx="226.7" cy="313.8" r="2.55"/>
<circle cx="227.0" cy="315.2" r="2.55"/>
<circle cx="227.3" cy="314.7" r="2.55"/>
<circle cx="227.6" cy="315.2" r="2.55"/>
<circle cx="227.9" cy="314.9" r="2.55"/>
<circle cx="228.2" cy="315.1" r="2.55"/>
<circle cx="228.5" cy="314.8" r="2.55"/>
<circle cx="228.8" cy="314.9" r="2.55"/>
<circle cx="229.1" cy="315.0" r="2.55"/>
<circle cx="229.4" cy="315.6" r="2.55"/>
<circle cx="229.7" cy="315.1" r="2.55"/>
<circle cx="230.0" cy="314.5" r="2.55"/>
<circle cx="230.3" cy="314.1" r="2.55"/>
<circle cx="230.6" cy="314.4" r="2.55"/>
<circle cx="230.9" cy="314.1" r="2.55"/>
<circle cx="231.2" cy="313.9" r="2.55"/>
<circle cx="231.5" cy="315.3" r="2.55"/>
<circle cx="231.8" cy="313.8" r="2.55"/>
<circle cx="232.1" cy="314.6" r="2.55"/>
<circle cx="232.4" cy="315.2" r="2.55"/>
<circle cx="232.7" cy="314.3" r="2.55"/>
<circle cx="233.0" cy="314.1" r="2.55"/>
<circle cx="233.3" cy="314.9" r="2.55"/>
<circle cx="233.6" cy="315.0" r="2.55"/>
<circle cx="233.9" cy="314.3" r="2.55"/>
<circle cx="234.2" cy="314.3" r="2.55"/>
<circle cx="234.5" cy="314.2" r="2.55"/>
<circle cx="234.8" cy="315.9" r="2.55"/>
<circle cx="235.1" cy="315.3" r="2.55"/>
<circle cx="235.4" cy="314.2" r="2.55"/>
<circle cx="235.7" cy="315.0" r="2.55"/>
<circle cx="236.0" cy="314.5" r="2.55"/>
<circle cx="236.3" cy="315.1" r="2.55"/>
<circle cx="236.6" cy="314.5" r="2.55"/>
<circle cx="236.9" cy="313.8" r="2.55"/>
<circle cx="237.2" cy="314.0" r="2.55"/>
<circle cx="237.5" cy="315.1" r="2.55"/>
<circle cx="237.8" cy="315.1" r="2.55"/>
<circle cx="238.1" cy="315.1" r="2.55"/>
<circle cx="238.4" cy="314.7" r="2.55"/>
<circle cx="238.7" cy="314.6" r="2.55"/>
<circle cx="239.0" cy="314.5" r="2.55"/>
<circle cx="239.3" cy="314.4" r="2.55"/>
<circle cx="239.6" cy="315.3" r="2.55"/>
<circle cx="239.9" cy="315.9" r="2.55"/>
<circle cx="240.2" cy="315.3" r="2.55"/>
<circle cx="240.5" cy="314.8" r="2.55"/>
<circle cx="240.8" cy="315.6" r="2.55"/>
<circle cx="241.1" cy="315.6" r="2.55"/>
<circle cx="241.4" cy="314.4" r="2.55"/>
<circle cx="241.7" cy="315.0" r="2.55"/>
<circle cx="242.0" cy="314.4" r="2.55"/>
<circle cx="242.3" cy="315.0" r="2.55"/>
<circle cx="242.6" cy="314.7" r="2.55"/>
<circle cx="242.9" cy="314.3" r="2.55"/>
<circle cx="243.2" cy="314.2" r="2.55"/>
<circle cx="243.5" cy="315.3" r="2.55"/>
<circle cx="243.8" cy="315.1" r="2.55"/>
<circle cx="244.1" cy="315.2" r="2.55"/>
<circle cx="244.4" cy="314.6" r="2.55"/>
<circle cx="244.7" cy="314.3" r="2.55"/>
<circle cx="245.0" cy="314.7" r="2.55"/>
<circle cx="245.3" cy="315.0" r="2.55"/>
<circle cx="245.6" cy="314.5" r="2.55"/>
<circle cx="245.9" cy="313.8" r="2.55"/>
<circle cx="246.2" cy="314.8" r="2.55"/>
<circle cx="246.5" cy="315.4" r="2.55"/>
<circle cx="246.8" cy="314.6" r="2.55"/>
<circle cx="247.1" cy="315.2" r="2.55"/>
<circle cx="247.4" cy="314.7" r="2.55"/>
<circle cx="247.7" cy="314.3" r="2.55"/>
<circle cx="248.0" cy="314.9" r="2.55"/>
<circle cx="248.3" cy="315.4" r="2.55"/>
<circle cx="248.6" cy="315.0" r="2.55"/>
<circle cx="248.9" cy="314.1" r="2.55"/>
<circle cx="249.2" cy="313.9" r="2.55"/>
<circle cx="249.5" cy="314.2" r="2.55"/>
<circle cx="249.8" cy="315.5" r="2.55"/>
<circle cx="250.1" cy="315.6" r="2.55"/>
<circle cx="250.4" cy="314.5" r="2.55"/>
<circle cx="250.7" cy="314.8" r="2.55"/>
<circle cx="251.0" cy="314.2" r="2.55"/>
<circle cx="251.3" cy="314.2" r="2.55"/>
<circle cx="251.6" cy="314.7" r="2.55"/>
<circle cx="251.9" cy="313.6" r="2.55"/>
<circle cx="252.2" cy="314.3" r="2.55"/>
<circle cx="252.5" cy="314.4" r="2.55"/>
<circle cx="252.8" cy="314.2" r="2.55"/>
<circle cx="253.1" cy="314.8" r="2.55"/>
<circle cx="253.4" cy="313.7" r="2.55"/>
<circle cx="253.7" cy="314.6" r="2.55"/>
<circle cx="254.0" cy="313.9" r="2.55"/>
<circle cx="254.3" cy="314.9" r="2.55"/>
<circle cx="254.6" cy="315.1" r="2.55"/>
<circle cx="254.9" cy="313.9" r="2.55"/>
<circle cx="255.2" cy="314.8" r="2.55"/>
<circle cx="255.5" cy="314.6" r="2.55"/>
<circle cx="255.8" cy="315.1" r="2.55"/>
<circle cx="256.1" cy="315.4" r="2.55"/>
<circle cx="256.4" cy="314.9" r="2.55"/>
<circle cx="256.7" cy="314.2" r="2.55"/>
<circle cx="257.0" cy="314.9" r="2.55"/>
<circle cx="257.3" cy="314.4" r="2.55"/>
<circle cx="257.6" cy="314.4" r="2.55"/>
<circle cx="257.9" cy="314.1" r="2.55"/>
<circle cx="258.2" cy="314.5" r="2.55"/>
<circle cx="258.5" cy="314.9" r="2.55"/>
<circle cx="258.8" cy="315.0" r="2.55"/>
<circle cx="259.1" cy="315.5" r="2.55"/>
<circle cx="259.4" cy="314.0" r="2.55"/>
<circle cx="259.7" cy="314.9" r="2.55"/>
<circle cx="260.0" cy="315.1" r="2.55"/>
<circle cx="260.3" cy="315.3" r="2.55"/>
<circle cx="260.6" cy="315.3" r="2.55"/>
<circle cx="260.9" cy="313.9" r="2.55"/>
<circle cx="261.2" cy="315.1" r="2.55"/>
<circle cx="261.5" cy="315.4" r="2.55"/>
<circle cx="261.8" cy="315.1" r="2.55"/>
<circle cx="262.1" cy="314.9" r="2.55"/>
<circle cx="262.4" cy="314.2" r="2.55"/>
<circle cx="262.7" cy="314.3" r="2.55"/>
<circle cx="263.0" cy="314.8" r="2.55"/>
<circle cx="263.3" cy="315.6" r="2.55"/>
<circle cx="263.6" cy="314.0" r="2.55"/>
<circle cx="263.9" cy="315.3" r="2.55"/>
<circle cx="264.2" cy="314.7" r="2.55"/>
<circle cx="264.5" cy="313.4" r="2.55"/>
<circle cx="264.8" cy="314.9" r="2.55"/>
<circle cx="265.1" cy="314.4" r="2.55"/>
<circle cx="265.4" cy="313.9" r="2.55"/>
<circle cx="265.7" cy="314.2" r="2.55"/>
<circle cx="266.0" cy="315.5" r="2.55"/>
<circle cx="266.3" cy="314.4" r="2.55"/>
<circle cx="266.6" cy="314.3" r="2.55"/>
<circle cx="266.9" cy="314.1" r="2.55"/>
<circle cx="267.2" cy="314.6" r="2.55"/>
<circle cx="267.5" cy="314.9" r="2.55"/>
<circle cx="267.8" cy="315.2" r="2.55"/>
<circle cx="268.1" cy="315.0" r="2.55"/>
<circle cx="268.4" cy="314.8" r="2.55"/>
<circle cx="268.7" cy="313.6" r="2.55"/>
<circle cx="269.0" cy="313.7" r="2.55"/>
<circle cx="269.3" cy="314.9" r="2.55"/>
<circle cx="269.6" cy="315.4" r="2.55"/>
<circle cx="269.9" cy="314.9" r="2.55"/>
<circle cx="270.2" cy="315.0" r="2.55"/>
<circle cx="270.5" cy="314.8" r="2.55"/>
<circle cx="270.8" cy="315.2" r="2.55"/>
<circle cx="271.1" cy="314.2" r="2.55"/>
<circle cx="271.4" cy="314.1" r="2.55"/>
<circle cx="271.7" cy="314.5" r="2.55"/>
<circle cx="272.0" cy="313.9" r="2.55"/>
<circle cx="272.3" cy="314.4" r="2.55"/>
<circle cx="272.6" cy="314.8" r="2.55"/>
<circle cx="272.9" cy="314.4" r="2.55"/>
<circle cx="273.2" cy="313.9" r="2.55"/>
<circle cx="273.5" cy="314.2" r="2.55"/>
<circle cx="273.8" cy="314.8" r="2.55"/>
<circle cx="274.1" cy="315.1" r="2.55"/>
<circle cx="274.4" cy="314.7" r="2.55"/>
<circle cx="274.7" cy="314.8" r="2.55"/>
<circle cx="275.0" cy="315.1" r="2.55"/>
<circle cx="275.3" cy="314.1" r="2.55"/>
<circle cx="275.6" cy="314.4" r="2.55"/>
<circle cx="275.9" cy="315.2" r="2.55"/>
<circle cx="276.2" cy="315.3" r="2.55"/>
<circle cx="276.5" cy="314.0" r="2.55"/>
<circle cx="276.8" cy="314.1" r="2.55"/>
<circle cx="277.1" cy="315.3" r="2.55"/>
<circle cx="277.4" cy="315.2" r="2.55"/>
<circle cx="277.7" cy="314.8" r="2.55"/>
<circle cx="278.0" cy="314.8" r="2.55"/>
<circle cx="278.3" cy="314.5" r="2.55"/>
<circle cx="278.6" cy="314.9" r="2.55"/>
<circle cx="278.9" cy="314.2" r="2.55"/>
<circle cx="279.2" cy="314.3" r="2.55"/>
<circle cx="279.5" cy="314.6" r="2.55"/>
<circle cx="279.8" cy="314.2" r="2.55"/>
<circle cx="280.1" cy="315.1" r="2.55"/>
<circle cx="280.4" cy="313.7" r="2.55"/>
<circle cx="280.7" cy="315.4" r="2.55"/>
<circle cx="281.0" cy="315.1" r="2.55"/>
<circle cx="281.3" cy="314.4" r="2.55"/>
<circle cx="281.6" cy="315.7" r="2.55"/>
<circle cx="281.9" cy="314.8" r="2.55"/>
<circle cx="282.2" cy="314.8" r="2.55"/>
<circle cx="282.5" cy="314.5" r="2.55"/>
<circle cx="282.8" cy="313.7" r="2.55"/>
<circle cx="283.1" cy="314.9" r="2.55"/>
<circle cx="283.4" cy="315.6" r="2.55"/>
<circle cx="283.7" cy="314.5" r="2.55"/>
<circle cx="284.0" cy="315.2" r="2.55"/>
<circle cx="284.3" cy="314.0" r="2.55"/>
<circle cx="284.6" cy="315.9" r="2.55"/>
<circle cx="284.9" cy="314.9" r="2.55"/>
<circle cx="285.2" cy="314.8" r="2.55"/>
<circle cx="285.5" cy="314.7" r="2.55"/>
<circle cx="285.8" cy="315.0" r="2.55"/>
<circle cx="286.1" cy="313.8" r="2.55"/>
<circle cx="286.4" cy="315.0" r="2.55"/>
<circle cx="286.7" cy="314.9" r="2.55"/>
<circle cx="287.0" cy="314.8" r="2.55"/>
<circle cx="287.3" cy="314.6" r="2.55"/>
<circle cx="287.6" cy="314.1" r="2.55"/>
<circle cx="287.9" cy="314.2" r="2.55"/>
<circle cx="288.2" cy="315.2" r="2.55"/>
<circle cx="288.5" cy="313.8" r="2.55"/>
<circle cx="288.8" cy="313.9" r="2.55"/>
<circle cx="289.1" cy="314.3" r="2.55"/>
<circle cx="289.4" cy="314.5" r="2.55"/>
<circle cx="289.7" cy="314.8" r="2.55"/>
<circle cx="290.0" cy="315.0" r="2.55"/>
<circle cx="290.3" cy="315.6" r="2.55"/>
<circle cx="290.6" cy="316.0" r="2.55"/>
<circle cx="290.9" cy="315.1" r="2.55"/>
<circle cx="291.2" cy="314.6" r="2.55"/>
<circle cx="291.5" cy="314.0" r="2.55"/>
<circle cx="291.8" cy="315.7" r="2.55"/>
<circle cx="292.1" cy="314.3" r="2.55"/>
<circle cx="292.4" cy="314.8" r="2.55"/>
<circle cx="292.7" cy="314.2" r="2.55"/>
<circle cx="293.0" cy="315.1" r="2.55"/>
<circle cx="293.3" cy="313.8" r="2.55"/>
<circle cx="293.6" cy="314.7" r="2.55"/>
<circle cx="293.9" cy="313.9" r="2.55"/>
<circle cx="294.2" cy="315.3" r="2.55"/>
<circle cx="294.5" cy="314.8" r="2.55"/>
<circle cx="294.8" cy="315.1" r="2.55"/>
<circle cx="295.1" cy="314.3" r="2.55"/>
<circle cx="295.4" cy="314.4" r="2.55"/>
<circle cx="295.7" cy="314.9" r="2.55"/>
<circle cx="296.0" cy="315.2" r="2.55"/>
<circle cx="296.3" cy="314.9" r="2.55"/>
<circle cx="296.6" cy="315.5" r="2.55"/>
<circle cx="296.9" cy="314.7" r="2.55"/>
<circle cx="297.2" cy="314.4" r="2.55"/>
<circle cx="297.5" cy="314.2" r="2.55"/>
<circle cx="297.8" cy="314.4" r="2.55"/>
<circle cx="298.1" cy="314.2" r="2.55"/>
<circle cx="298.4" cy="314.9" r="2.55"/>
<circle cx="298.7" cy="314.1" r="2.55"/>
<circle cx="299.0" cy="315.0" r="2.55"/>
<circle cx="299.3" cy="314.6" r="2.55"/>
<circle cx="299.6" cy="315.0" r="2.55"/>
<circle cx="299.9" cy="314.7" r="2.55"/>
<circle cx="300.2" cy="315.2" r="2.55"/>
<circle cx="300.5" cy="314.9" r="2.55"/>
<circle cx="300.8" cy="314.1" r="2.55"/>
<circle cx="301.1" cy="315.1" r="2.55"/>
<circle cx="301.4" cy="314.8" r="2.55"/>
<circle cx="301.7" cy="313.9" r="2.55"/>
<circle cx="302.0" cy="314.5" r="2.55"/>
<circle cx="302.3" cy="314.7" r="2.55"/>
<circle cx="302.6" cy="314.4" r="2.55"/>
<circle cx="302.9" cy="314.4" r="2.55"/>
<circle cx="303.2" cy="314.5" r="2.55"/>
<circle cx="303.5" cy="314.7" r="2.55"/>
<circle cx="303.8" cy="314.1" r="2.55"/>
<circle cx="304.1" cy="313.9" r="2.55"/>
<circle cx="304.4" cy="314.7" r="2.55"/>
<circle cx="304.7" cy="314.1" r="2.55"/>
<circle cx="305.0" cy="315.0" r="2.55"/>
<circle cx="305.3" cy="315.0" r="2.55"/>
<circle cx="305.6" cy="314.5" r="2.55"/>
<circle cx="305.9" cy="315.1" r="2.55"/>
<circle cx="306.2" cy="314.9" r="2.55"/>
<circle cx="306.5" cy="315.9" r="2.55"/>
<circle cx="306.8" cy="313.2" r="2.55"/>
<circle cx="307.1" cy="314.5" r="2.55"/>
<circle cx="307.4" cy="315.5" r="2.55"/>
<circle cx="307.7" cy="314.2" r="2.55"/>
<circle cx="308.0" cy="315.1" r="2.55"/>
<circle cx="308.3" cy="314.2" r="2.55"/>
<circle cx="308.6" cy="314.4" r="2.55"/>
<circle cx="308.9" cy="315.0" r="2.55"/>
<circle cx="309.2" cy="314.0" r="2.55"/>
<circle cx="309.5" cy="314.9" r="2.55"/>
<circle cx="309.8" cy="315.8" r="2.55"/>
<circle cx="310.1" cy="314.1" r="2.55"/>
<circle cx="310.4" cy="314.7" r="2.55"/>
<circle cx="310.7" cy="314.9" r="2.55"/>
<circle cx="311.0" cy="314.1" r="2.55"/>
<circle cx="311.3" cy="314.5" r="2.55"/>
<circle cx="311.6" cy="314.6" r="2.55"/>
<circle cx="311.9" cy="314.4" r="2.55"/>
<circle cx="312.2" cy="315.1" r="2.55"/>
<circle cx="312.5" cy="314.3" r="2.55"/>
<circle cx="312.8" cy="314.3" r="2.55"/>
<circle cx="313.1" cy="313.4" r="2.55"/>
<circle cx="313.4" cy="314.5" r="2.55"/>
<circle cx="313.7" cy="315.6" r="2.55"/>
<circle cx="314.0" cy="314.5" r="2.55"/>
<circle cx="314.3" cy="314.4" r="2.55"/>
<circle cx="314.6" cy="314.8" r="2.55"/>
<circle cx="314.9" cy="313.8" r="2.55"/>
<circle cx="315.2" cy="314.2" r="2.55"/>
<circle cx="315.5" cy="315.3" r="2.55"/>
<circle cx="315.8" cy="314.2" r="2.55"/>
<circle cx="316.1" cy="315.2" r="2.55"/>
<circle cx="316.4" cy="314.7" r="2.55"/>
<circle cx="316.7" cy="313.9" r="2.55"/>
<circle cx="317.0" cy="313.7" r="2.55"/>
<circle cx="317.3" cy="314.1" r="2.55"/>
<circle cx="317.6" cy="314.7" r="2.55"/>
<circle cx="317.9" cy="314.6" r="2.55"/>
<circle cx="318.2" cy="314.5" r="2.55"/>
<circle cx="318.5" cy="314.8" r="2.55"/>
<circle cx="318.8" cy="314.7" r="2.55"/>
</g></g>
<rect x="49.75" y="47.5" width="267.8" height="267.8" fill="none" stroke="#4a4a4a" stroke-width="1.15"/>
<line x1="44.3" y1="315.30" x2="49.75" y2="315.30" stroke="#3a3a3a" stroke-width="1.15"/>
<text x="38.8" y="319.00" class="tk" text-anchor="end">0.0</text>
<line x1="44.3" y1="248.38" x2="49.75" y2="248.38" stroke="#3a3a3a" stroke-width="1.15"/>
<text x="38.8" y="252.07" class="tk" text-anchor="end">0.1</text>
<line x1="44.3" y1="181.45" x2="49.75" y2="181.45" stroke="#3a3a3a" stroke-width="1.15"/>
<text x="38.8" y="185.15" class="tk" text-anchor="end">0.2</text>
<line x1="44.3" y1="114.52" x2="49.75" y2="114.52" stroke="#3a3a3a" stroke-width="1.15"/>
<text x="38.8" y="118.22" class="tk" text-anchor="end">0.3</text>
<line x1="44.3" y1="47.60" x2="49.75" y2="47.60" stroke="#3a3a3a" stroke-width="1.15"/>
<text x="38.8" y="51.30" class="tk" text-anchor="end">0.4</text>
<line x1="47.2" y1="281.84" x2="49.75" y2="281.84" stroke="#3a3a3a" stroke-width="1.15"/>
<line x1="47.2" y1="214.91" x2="49.75" y2="214.91" stroke="#3a3a3a" stroke-width="1.15"/>
<line x1="47.2" y1="147.99" x2="49.75" y2="147.99" stroke="#3a3a3a" stroke-width="1.15"/>
<line x1="47.2" y1="81.06" x2="49.75" y2="81.06" stroke="#3a3a3a" stroke-width="1.15"/>
<line x1="49.75" y1="315.3" x2="49.75" y2="320.5" stroke="#3a3a3a" stroke-width="1.15"/>
<text x="49.75" y="334.9" class="tk" text-anchor="middle">0</text>
<line x1="139.02" y1="315.3" x2="139.02" y2="320.5" stroke="#3a3a3a" stroke-width="1.15"/>
<text x="139.02" y="334.9" class="tk" text-anchor="middle">50</text>
<line x1="228.28" y1="315.3" x2="228.28" y2="320.5" stroke="#3a3a3a" stroke-width="1.15"/>
<rect x="219.28" y="322.8" width="18" height="15" fill="#fff"/>
<text x="228.28" y="334.9" class="tk" text-anchor="middle">100</text>
<line x1="317.55" y1="315.3" x2="317.55" y2="320.5" stroke="#3a3a3a" stroke-width="1.15"/>
<text x="317.55" y="334.9" class="tk" text-anchor="middle">150</text>
<line x1="94.38" y1="315.3" x2="94.38" y2="318.1" stroke="#3a3a3a" stroke-width="1.15"/>
<line x1="183.65" y1="315.3" x2="183.65" y2="318.1" stroke="#3a3a3a" stroke-width="1.15"/>
<line x1="272.92" y1="315.3" x2="272.92" y2="318.1" stroke="#3a3a3a" stroke-width="1.15"/>
<text x="184.3" y="352.2" class="lb" style="font-size:11.85px" text-anchor="middle">Depth <tspan font-style="italic">x</tspan> / nm</text>
<text transform="translate(9,261.2) rotate(-90)" class="lb" style="font-size:12.6px" textLength="158.5" lengthAdjust="spacingAndGlyphs">Normalized isotopic fraction <tspan font-style="italic">C</tspan><tspan font-size="8" dy="-5">'</tspan></text>
<rect x="66.3" y="128.5" width="89.5" height="62" fill="#fff" stroke="#333" stroke-width="1"/>
<circle cx="77.89999999999999" cy="142.6" r="4.2" fill="#d7301f" stroke="#555" stroke-width="0.8"/>
<text x="88.6" y="146.7" class="lb"><tspan font-style="italic">t</tspan> = 200 min</text>
<circle cx="77.89999999999999" cy="159.8" r="4.2" fill="#f99d5e" stroke="#555" stroke-width="0.8"/>
<text x="88.6" y="163.9" class="lb"><tspan font-style="italic">t</tspan> = 100 min</text>
<circle cx="77.89999999999999" cy="177.0" r="4.2" fill="#f6f3c2" stroke="#555" stroke-width="0.8"/>
<text x="88.6" y="181.1" class="lb"><tspan font-style="italic">t</tspan> = 20 min</text>
<clipPath id="cb"><rect x="409" y="40" width="268" height="275.3"/></clipPath>
<g clip-path="url(#cb)"><g fill="#f6f3c2" stroke="#16160e" stroke-width="0.85">
<circle cx="409.0" cy="231.7" r="2.55"/>
<circle cx="409.3" cy="240.0" r="2.55"/>
<circle cx="409.6" cy="245.0" r="2.55"/>
<circle cx="409.9" cy="250.0" r="2.55"/>
<circle cx="410.2" cy="256.0" r="2.55"/>
<circle cx="410.5" cy="262.0" r="2.55"/>
<circle cx="410.8" cy="268.0" r="2.55"/>
<circle cx="411.1" cy="273.0" r="2.55"/>
<circle cx="411.4" cy="278.0" r="2.55"/>
<circle cx="411.7" cy="283.0" r="2.55"/>
<circle cx="412.0" cy="286.7" r="2.55"/>
<circle cx="412.4" cy="287.5" r="2.55"/>
<circle cx="412.8" cy="288.9" r="2.55"/>
<circle cx="413.2" cy="289.5" r="2.55"/>
<circle cx="413.6" cy="290.0" r="2.55"/>
<circle cx="414.0" cy="287.8" r="2.55"/>
<circle cx="414.4" cy="292.0" r="2.55"/>
<circle cx="414.8" cy="290.2" r="2.55"/>
<circle cx="415.2" cy="291.8" r="2.55"/>
<circle cx="415.6" cy="290.2" r="2.55"/>
<circle cx="416.0" cy="292.8" r="2.55"/>
<circle cx="416.4" cy="293.9" r="2.55"/>
<circle cx="416.8" cy="291.0" r="2.55"/>
<circle cx="417.2" cy="294.5" r="2.55"/>
<circle cx="417.6" cy="292.3" r="2.55"/>
<circle cx="418.0" cy="293.8" r="2.55"/>
<circle cx="418.4" cy="293.7" r="2.55"/>
<circle cx="418.8" cy="295.0" r="2.55"/>
<circle cx="419.2" cy="294.2" r="2.55"/>
<circle cx="419.6" cy="295.6" r="2.55"/>
<circle cx="420.0" cy="296.9" r="2.55"/>
<circle cx="420.4" cy="297.0" r="2.55"/>
<circle cx="420.8" cy="296.8" r="2.55"/>
<circle cx="421.2" cy="294.8" r="2.55"/>
<circle cx="421.6" cy="296.8" r="2.55"/>
<circle cx="422.0" cy="295.8" r="2.55"/>
<circle cx="422.4" cy="297.7" r="2.55"/>
<circle cx="422.8" cy="294.1" r="2.55"/>
<circle cx="423.2" cy="297.8" r="2.55"/>
<circle cx="423.6" cy="294.1" r="2.55"/>
<circle cx="424.0" cy="296.3" r="2.55"/>
<circle cx="424.4" cy="294.2" r="2.55"/>
<circle cx="424.8" cy="297.0" r="2.55"/>
<circle cx="425.2" cy="295.0" r="2.55"/>
<circle cx="425.6" cy="296.8" r="2.55"/>
<circle cx="426.0" cy="294.5" r="2.55"/>
<circle cx="426.4" cy="294.9" r="2.55"/>
<circle cx="426.8" cy="297.2" r="2.55"/>
<circle cx="427.2" cy="296.4" r="2.55"/>
<circle cx="427.6" cy="297.6" r="2.55"/>
<circle cx="428.0" cy="297.6" r="2.55"/>
<circle cx="428.4" cy="294.4" r="2.55"/>
<circle cx="428.8" cy="293.8" r="2.55"/>
<circle cx="429.2" cy="297.4" r="2.55"/>
<circle cx="429.6" cy="297.2" r="2.55"/>
<circle cx="430.0" cy="294.5" r="2.55"/>
<circle cx="430.4" cy="298.6" r="2.55"/>
<circle cx="430.8" cy="294.6" r="2.55"/>
<circle cx="431.2" cy="296.5" r="2.55"/>
<circle cx="431.6" cy="296.3" r="2.55"/>
<circle cx="432.0" cy="295.4" r="2.55"/>
<circle cx="432.4" cy="295.2" r="2.55"/>
<circle cx="432.8" cy="294.2" r="2.55"/>
<circle cx="433.2" cy="296.3" r="2.55"/>
<circle cx="433.6" cy="296.4" r="2.55"/>
<circle cx="434.0" cy="294.8" r="2.55"/>
<circle cx="434.4" cy="293.9" r="2.55"/>
<circle cx="434.8" cy="296.2" r="2.55"/>
<circle cx="435.2" cy="295.1" r="2.55"/>
<circle cx="435.6" cy="293.9" r="2.55"/>
<circle cx="436.0" cy="294.8" r="2.55"/>
<circle cx="436.4" cy="294.3" r="2.55"/>
<circle cx="436.8" cy="297.8" r="2.55"/>
<circle cx="437.2" cy="295.3" r="2.55"/>
<circle cx="437.6" cy="295.9" r="2.55"/>
<circle cx="438.0" cy="293.7" r="2.55"/>
<circle cx="438.4" cy="297.6" r="2.55"/>
<circle cx="438.8" cy="297.3" r="2.55"/>
<circle cx="439.2" cy="297.1" r="2.55"/>
<circle cx="439.6" cy="296.7" r="2.55"/>
<circle cx="440.0" cy="296.3" r="2.55"/>
<circle cx="440.4" cy="295.9" r="2.55"/>
<circle cx="440.8" cy="297.4" r="2.55"/>
<circle cx="441.2" cy="294.3" r="2.55"/>
<circle cx="441.6" cy="295.9" r="2.55"/>
<circle cx="442.0" cy="297.4" r="2.55"/>
<circle cx="442.4" cy="295.7" r="2.55"/>
<circle cx="442.8" cy="295.2" r="2.55"/>
<circle cx="443.2" cy="295.0" r="2.55"/>
<circle cx="443.6" cy="296.6" r="2.55"/>
<circle cx="444.0" cy="294.1" r="2.55"/>
<circle cx="444.4" cy="295.1" r="2.55"/>
<circle cx="444.8" cy="294.6" r="2.55"/>
<circle cx="445.2" cy="296.6" r="2.55"/>
<circle cx="445.6" cy="295.3" r="2.55"/>
<circle cx="446.0" cy="297.9" r="2.55"/>
<circle cx="446.4" cy="296.9" r="2.55"/>
<circle cx="446.8" cy="296.8" r="2.55"/>
<circle cx="447.2" cy="297.0" r="2.55"/>
<circle cx="447.6" cy="294.7" r="2.55"/>
<circle cx="448.0" cy="295.9" r="2.55"/>
<circle cx="448.4" cy="295.7" r="2.55"/>
<circle cx="448.8" cy="295.1" r="2.55"/>
<circle cx="449.2" cy="296.0" r="2.55"/>
<circle cx="449.6" cy="297.8" r="2.55"/>
<circle cx="450.0" cy="295.9" r="2.55"/>
<circle cx="450.4" cy="294.2" r="2.55"/>
<circle cx="450.8" cy="297.1" r="2.55"/>
<circle cx="451.2" cy="296.5" r="2.55"/>
<circle cx="451.6" cy="295.7" r="2.55"/>
<circle cx="452.0" cy="294.7" r="2.55"/>
<circle cx="452.4" cy="296.7" r="2.55"/>
<circle cx="452.8" cy="296.8" r="2.55"/>
<circle cx="453.2" cy="297.6" r="2.55"/>
<circle cx="453.6" cy="296.5" r="2.55"/>
<circle cx="454.0" cy="297.3" r="2.55"/>
<circle cx="454.4" cy="294.6" r="2.55"/>
<circle cx="454.8" cy="296.3" r="2.55"/>
<circle cx="455.2" cy="296.2" r="2.55"/>
<circle cx="455.6" cy="297.5" r="2.55"/>
<circle cx="456.0" cy="295.2" r="2.55"/>
<circle cx="456.4" cy="297.4" r="2.55"/>
<circle cx="456.8" cy="295.0" r="2.55"/>
<circle cx="457.2" cy="296.1" r="2.55"/>
<circle cx="457.6" cy="294.7" r="2.55"/>
<circle cx="458.0" cy="295.3" r="2.55"/>
<circle cx="458.4" cy="297.7" r="2.55"/>
<circle cx="458.8" cy="297.8" r="2.55"/>
<circle cx="459.2" cy="295.9" r="2.55"/>
<circle cx="459.6" cy="294.9" r="2.55"/>
<circle cx="460.0" cy="295.5" r="2.55"/>
<circle cx="460.4" cy="294.3" r="2.55"/>
<circle cx="460.8" cy="294.8" r="2.55"/>
<circle cx="461.2" cy="298.3" r="2.55"/>
<circle cx="461.6" cy="295.2" r="2.55"/>
<circle cx="462.0" cy="296.4" r="2.55"/>
<circle cx="462.4" cy="296.5" r="2.55"/>
<circle cx="462.8" cy="296.2" r="2.55"/>
<circle cx="463.2" cy="294.4" r="2.55"/>
<circle cx="463.6" cy="294.2" r="2.55"/>
<circle cx="464.0" cy="295.7" r="2.55"/>
<circle cx="464.4" cy="297.9" r="2.55"/>
<circle cx="464.8" cy="295.8" r="2.55"/>
<circle cx="465.2" cy="295.2" r="2.55"/>
<circle cx="465.6" cy="296.0" r="2.55"/>
<circle cx="466.0" cy="294.4" r="2.55"/>
<circle cx="466.4" cy="295.4" r="2.55"/>
<circle cx="466.8" cy="297.2" r="2.55"/>
<circle cx="467.2" cy="294.8" r="2.55"/>
<circle cx="467.6" cy="295.8" r="2.55"/>
<circle cx="468.0" cy="296.4" r="2.55"/>
<circle cx="468.4" cy="294.4" r="2.55"/>
<circle cx="468.8" cy="294.6" r="2.55"/>
<circle cx="469.2" cy="297.3" r="2.55"/>
<circle cx="469.6" cy="298.0" r="2.55"/>
<circle cx="470.0" cy="296.7" r="2.55"/>
<circle cx="470.4" cy="296.5" r="2.55"/>
<circle cx="470.8" cy="295.3" r="2.55"/>
<circle cx="471.2" cy="295.2" r="2.55"/>
<circle cx="471.6" cy="295.4" r="2.55"/>
<circle cx="472.0" cy="294.0" r="2.55"/>
<circle cx="472.4" cy="295.9" r="2.55"/>
<circle cx="472.8" cy="295.2" r="2.55"/>
<circle cx="473.2" cy="294.7" r="2.55"/>
<circle cx="473.6" cy="294.6" r="2.55"/>
<circle cx="474.0" cy="297.6" r="2.55"/>
<circle cx="474.4" cy="293.9" r="2.55"/>
<circle cx="474.8" cy="294.7" r="2.55"/>
<circle cx="475.2" cy="294.6" r="2.55"/>
<circle cx="475.6" cy="297.4" r="2.55"/>
<circle cx="476.0" cy="297.1" r="2.55"/>
<circle cx="476.4" cy="296.3" r="2.55"/>
<circle cx="476.8" cy="295.1" r="2.55"/>
<circle cx="477.2" cy="295.8" r="2.55"/>
<circle cx="477.6" cy="294.0" r="2.55"/>
<circle cx="478.0" cy="295.4" r="2.55"/>
<circle cx="478.4" cy="296.5" r="2.55"/>
<circle cx="478.8" cy="293.6" r="2.55"/>
<circle cx="479.2" cy="296.1" r="2.55"/>
<circle cx="479.6" cy="295.1" r="2.55"/>
<circle cx="480.0" cy="293.7" r="2.55"/>
<circle cx="480.4" cy="294.2" r="2.55"/>
<circle cx="480.8" cy="296.5" r="2.55"/>
<circle cx="481.2" cy="298.7" r="2.55"/>
<circle cx="481.6" cy="294.9" r="2.55"/>
<circle cx="482.0" cy="295.6" r="2.55"/>
<circle cx="482.4" cy="295.2" r="2.55"/>
<circle cx="482.8" cy="295.0" r="2.55"/>
<circle cx="483.2" cy="297.9" r="2.55"/>
<circle cx="483.6" cy="297.2" r="2.55"/>
<circle cx="484.0" cy="295.4" r="2.55"/>
<circle cx="484.4" cy="296.3" r="2.55"/>
<circle cx="484.8" cy="297.8" r="2.55"/>
<circle cx="485.2" cy="296.5" r="2.55"/>
<circle cx="485.6" cy="294.7" r="2.55"/>
<circle cx="486.0" cy="296.1" r="2.55"/>
<circle cx="486.4" cy="296.1" r="2.55"/>
<circle cx="486.8" cy="295.3" r="2.55"/>
<circle cx="487.2" cy="297.7" r="2.55"/>
<circle cx="487.6" cy="295.0" r="2.55"/>
<circle cx="488.0" cy="295.0" r="2.55"/>
<circle cx="488.4" cy="295.0" r="2.55"/>
<circle cx="488.8" cy="297.7" r="2.55"/>
<circle cx="489.2" cy="297.1" r="2.55"/>
<circle cx="489.6" cy="297.1" r="2.55"/>
<circle cx="490.0" cy="296.3" r="2.55"/>
<circle cx="490.4" cy="296.5" r="2.55"/>
<circle cx="490.8" cy="294.8" r="2.55"/>
<circle cx="491.2" cy="297.6" r="2.55"/>
<circle cx="491.6" cy="295.3" r="2.55"/>
<circle cx="492.0" cy="296.4" r="2.55"/>
<circle cx="492.4" cy="296.7" r="2.55"/>
<circle cx="492.8" cy="296.5" r="2.55"/>
<circle cx="493.2" cy="297.0" r="2.55"/>
<circle cx="493.6" cy="297.8" r="2.55"/>
<circle cx="494.0" cy="297.2" r="2.55"/>
<circle cx="494.4" cy="297.7" r="2.55"/>
<circle cx="494.8" cy="295.0" r="2.55"/>
<circle cx="495.2" cy="295.4" r="2.55"/>
<circle cx="495.6" cy="294.1" r="2.55"/>
<circle cx="496.0" cy="297.5" r="2.55"/>
<circle cx="496.4" cy="295.8" r="2.55"/>
<circle cx="496.8" cy="293.9" r="2.55"/>
<circle cx="497.2" cy="296.7" r="2.55"/>
<circle cx="497.6" cy="296.5" r="2.55"/>
<circle cx="498.0" cy="297.7" r="2.55"/>
<circle cx="498.4" cy="297.3" r="2.55"/>
<circle cx="498.8" cy="297.5" r="2.55"/>
<circle cx="499.2" cy="294.9" r="2.55"/>
<circle cx="499.6" cy="295.9" r="2.55"/>
<circle cx="500.0" cy="296.6" r="2.55"/>
<circle cx="500.4" cy="296.0" r="2.55"/>
<circle cx="500.8" cy="295.7" r="2.55"/>
<circle cx="501.2" cy="293.8" r="2.55"/>
<circle cx="501.6" cy="297.8" r="2.55"/>
<circle cx="502.0" cy="296.4" r="2.55"/>
<circle cx="502.4" cy="298.2" r="2.55"/>
<circle cx="502.8" cy="295.0" r="2.55"/>
<circle cx="503.2" cy="295.6" r="2.55"/>
<circle cx="503.6" cy="297.1" r="2.55"/>
<circle cx="504.0" cy="296.9" r="2.55"/>
<circle cx="504.4" cy="296.6" r="2.55"/>
<circle cx="504.8" cy="294.5" r="2.55"/>
<circle cx="505.2" cy="294.4" r="2.55"/>
<circle cx="505.6" cy="297.7" r="2.55"/>
<circle cx="506.0" cy="297.9" r="2.55"/>
<circle cx="506.4" cy="295.8" r="2.55"/>
<circle cx="506.8" cy="298.3" r="2.55"/>
<circle cx="507.2" cy="294.4" r="2.55"/>
<circle cx="507.6" cy="297.0" r="2.55"/>
<circle cx="508.0" cy="295.4" r="2.55"/>
<circle cx="508.4" cy="295.4" r="2.55"/>
<circle cx="508.8" cy="295.0" r="2.55"/>
<circle cx="509.2" cy="295.4" r="2.55"/>
<circle cx="509.6" cy="296.7" r="2.55"/>
<circle cx="510.0" cy="296.1" r="2.55"/>
<circle cx="510.4" cy="294.8" r="2.55"/>
<circle cx="510.8" cy="296.5" r="2.55"/>
<circle cx="511.2" cy="293.9" r="2.55"/>
<circle cx="511.6" cy="298.2" r="2.55"/>
<circle cx="512.0" cy="294.5" r="2.55"/>
<circle cx="512.4" cy="295.2" r="2.55"/>
<circle cx="512.8" cy="295.9" r="2.55"/>
<circle cx="513.2" cy="296.3" r="2.55"/>
<circle cx="513.6" cy="295.0" r="2.55"/>
<circle cx="514.0" cy="296.7" r="2.55"/>
<circle cx="514.4" cy="294.5" r="2.55"/>
<circle cx="514.8" cy="296.0" r="2.55"/>
<circle cx="515.2" cy="296.1" r="2.55"/>
<circle cx="515.6" cy="297.3" r="2.55"/>
<circle cx="516.0" cy="297.5" r="2.55"/>
<circle cx="516.4" cy="295.8" r="2.55"/>
<circle cx="516.8" cy="296.1" r="2.55"/>
<circle cx="517.2" cy="294.1" r="2.55"/>
<circle cx="517.6" cy="296.2" r="2.55"/>
<circle cx="518.0" cy="296.2" r="2.55"/>
<circle cx="518.4" cy="295.3" r="2.55"/>
<circle cx="518.8" cy="296.7" r="2.55"/>
<circle cx="519.2" cy="295.8" r="2.55"/>
<circle cx="519.6" cy="296.9" r="2.55"/>
<circle cx="520.0" cy="295.0" r="2.55"/>
<circle cx="520.4" cy="295.9" r="2.55"/>
<circle cx="520.8" cy="297.9" r="2.55"/>
<circle cx="521.2" cy="295.6" r="2.55"/>
<circle cx="521.6" cy="297.6" r="2.55"/>
<circle cx="522.0" cy="294.6" r="2.55"/>
<circle cx="522.4" cy="297.4" r="2.55"/>
<circle cx="522.8" cy="294.3" r="2.55"/>
<circle cx="523.2" cy="297.0" r="2.55"/>
<circle cx="523.6" cy="296.6" r="2.55"/>
<circle cx="524.0" cy="294.4" r="2.55"/>
<circle cx="524.4" cy="295.1" r="2.55"/>
<circle cx="524.8" cy="295.5" r="2.55"/>
<circle cx="525.2" cy="296.4" r="2.55"/>
<circle cx="525.6" cy="295.5" r="2.55"/>
<circle cx="526.0" cy="295.0" r="2.55"/>
<circle cx="526.4" cy="298.0" r="2.55"/>
<circle cx="526.8" cy="295.3" r="2.55"/>
<circle cx="527.2" cy="297.3" r="2.55"/>
<circle cx="527.6" cy="297.7" r="2.55"/>
<circle cx="528.0" cy="297.9" r="2.55"/>
<circle cx="528.4" cy="294.7" r="2.55"/>
<circle cx="528.8" cy="297.2" r="2.55"/>
<circle cx="529.2" cy="295.6" r="2.55"/>
<circle cx="529.6" cy="296.3" r="2.55"/>
<circle cx="530.0" cy="295.6" r="2.55"/>
<circle cx="530.4" cy="294.3" r="2.55"/>
<circle cx="530.8" cy="296.1" r="2.55"/>
<circle cx="531.2" cy="297.4" r="2.55"/>
<circle cx="531.6" cy="296.0" r="2.55"/>
<circle cx="532.0" cy="298.8" r="2.55"/>
<circle cx="532.4" cy="296.3" r="2.55"/>
<circle cx="532.8" cy="294.4" r="2.55"/>
<circle cx="533.2" cy="297.8" r="2.55"/>
<circle cx="533.6" cy="294.3" r="2.55"/>
<circle cx="534.0" cy="295.1" r="2.55"/>
<circle cx="534.4" cy="295.6" r="2.55"/>
<circle cx="534.8" cy="298.2" r="2.55"/>
<circle cx="535.2" cy="294.7" r="2.55"/>
<circle cx="535.6" cy="294.7" r="2.55"/>
<circle cx="536.0" cy="295.0" r="2.55"/>
<circle cx="536.4" cy="294.8" r="2.55"/>
<circle cx="536.8" cy="296.3" r="2.55"/>
<circle cx="537.2" cy="295.6" r="2.55"/>
<circle cx="537.6" cy="295.9" r="2.55"/>
<circle cx="538.0" cy="293.9" r="2.55"/>
<circle cx="538.4" cy="296.0" r="2.55"/>
<circle cx="538.8" cy="296.5" r="2.55"/>
<circle cx="539.2" cy="296.8" r="2.55"/>
<circle cx="539.6" cy="295.3" r="2.55"/>
<circle cx="540.0" cy="296.5" r="2.55"/>
<circle cx="540.4" cy="296.5" r="2.55"/>
<circle cx="540.8" cy="297.1" r="2.55"/>
<circle cx="541.2" cy="295.8" r="2.55"/>
<circle cx="541.6" cy="297.9" r="2.55"/>
<circle cx="542.0" cy="296.0" r="2.55"/>
<circle cx="542.4" cy="295.0" r="2.55"/>
<circle cx="542.8" cy="295.7" r="2.55"/>
<circle cx="543.2" cy="297.2" r="2.55"/>
<circle cx="543.6" cy="295.6" r="2.55"/>
<circle cx="544.0" cy="296.9" r="2.55"/>
<circle cx="544.4" cy="296.9" r="2.55"/>
<circle cx="544.8" cy="298.4" r="2.55"/>
<circle cx="545.2" cy="295.0" r="2.55"/>
<circle cx="545.6" cy="296.5" r="2.55"/>
<circle cx="546.0" cy="294.7" r="2.55"/>
<circle cx="546.4" cy="294.5" r="2.55"/>
<circle cx="546.8" cy="296.2" r="2.55"/>
<circle cx="547.2" cy="295.4" r="2.55"/>
<circle cx="547.6" cy="295.5" r="2.55"/>
<circle cx="548.0" cy="297.1" r="2.55"/>
<circle cx="548.4" cy="296.7" r="2.55"/>
<circle cx="548.8" cy="296.0" r="2.55"/>
<circle cx="549.2" cy="294.6" r="2.55"/>
<circle cx="549.6" cy="295.3" r="2.55"/>
<circle cx="550.0" cy="295.1" r="2.55"/>
<circle cx="550.4" cy="295.5" r="2.55"/>
<circle cx="550.8" cy="293.5" r="2.55"/>
<circle cx="551.2" cy="294.8" r="2.55"/>
<circle cx="551.6" cy="296.2" r="2.55"/>
<circle cx="552.0" cy="296.8" r="2.55"/>
<circle cx="552.4" cy="296.6" r="2.55"/>
<circle cx="552.8" cy="298.0" r="2.55"/>
<circle cx="553.2" cy="293.5" r="2.55"/>
<circle cx="553.6" cy="295.4" r="2.55"/>
<circle cx="554.0" cy="297.2" r="2.55"/>
<circle cx="554.4" cy="297.2" r="2.55"/>
<circle cx="554.8" cy="295.9" r="2.55"/>
<circle cx="555.2" cy="295.0" r="2.55"/>
<circle cx="555.6" cy="297.2" r="2.55"/>
<circle cx="556.0" cy="298.4" r="2.55"/>
<circle cx="556.4" cy="297.6" r="2.55"/>
<circle cx="556.8" cy="295.9" r="2.55"/>
<circle cx="557.2" cy="294.9" r="2.55"/>
<circle cx="557.6" cy="296.7" r="2.55"/>
<circle cx="558.0" cy="295.1" r="2.55"/>
<circle cx="558.4" cy="294.5" r="2.55"/>
<circle cx="558.8" cy="294.2" r="2.55"/>
<circle cx="559.2" cy="295.0" r="2.55"/>
<circle cx="559.6" cy="294.8" r="2.55"/>
<circle cx="560.0" cy="295.7" r="2.55"/>
<circle cx="560.4" cy="296.8" r="2.55"/>
<circle cx="560.8" cy="297.6" r="2.55"/>
<circle cx="561.2" cy="293.7" r="2.55"/>
<circle cx="561.6" cy="297.7" r="2.55"/>
<circle cx="562.0" cy="298.2" r="2.55"/>
<circle cx="562.4" cy="298.4" r="2.55"/>
<circle cx="562.8" cy="295.0" r="2.55"/>
<circle cx="563.2" cy="296.5" r="2.55"/>
<circle cx="563.6" cy="295.9" r="2.55"/>
<circle cx="564.0" cy="296.7" r="2.55"/>
<circle cx="564.4" cy="297.8" r="2.55"/>
<circle cx="564.8" cy="294.2" r="2.55"/>
<circle cx="565.2" cy="296.6" r="2.55"/>
<circle cx="565.6" cy="297.1" r="2.55"/>
<circle cx="566.0" cy="296.8" r="2.55"/>
<circle cx="566.4" cy="296.0" r="2.55"/>
<circle cx="566.8" cy="295.4" r="2.55"/>
<circle cx="567.2" cy="294.4" r="2.55"/>
<circle cx="567.6" cy="296.1" r="2.55"/>
<circle cx="568.0" cy="295.9" r="2.55"/>
<circle cx="568.4" cy="298.1" r="2.55"/>
<circle cx="568.8" cy="296.9" r="2.55"/>
<circle cx="569.2" cy="294.2" r="2.55"/>
<circle cx="569.6" cy="293.9" r="2.55"/>
<circle cx="570.0" cy="293.9" r="2.55"/>
<circle cx="570.4" cy="293.4" r="2.55"/>
<circle cx="570.8" cy="297.2" r="2.55"/>
<circle cx="571.2" cy="294.4" r="2.55"/>
<circle cx="571.6" cy="296.3" r="2.55"/>
<circle cx="572.0" cy="295.8" r="2.55"/>
<circle cx="572.4" cy="295.3" r="2.55"/>
<circle cx="572.8" cy="298.3" r="2.55"/>
<circle cx="573.2" cy="296.7" r="2.55"/>
<circle cx="573.6" cy="295.9" r="2.55"/>
<circle cx="574.0" cy="295.5" r="2.55"/>
<circle cx="574.4" cy="297.4" r="2.55"/>
<circle cx="574.8" cy="298.7" r="2.55"/>
<circle cx="575.2" cy="296.8" r="2.55"/>
<circle cx="575.6" cy="295.9" r="2.55"/>
<circle cx="576.0" cy="293.8" r="2.55"/>
<circle cx="576.4" cy="296.7" r="2.55"/>
<circle cx="576.8" cy="297.2" r="2.55"/>
<circle cx="577.2" cy="296.7" r="2.55"/>
<circle cx="577.6" cy="295.3" r="2.55"/>
<circle cx="578.0" cy="297.6" r="2.55"/>
<circle cx="578.4" cy="296.8" r="2.55"/>
<circle cx="578.8" cy="294.7" r="2.55"/>
<circle cx="579.2" cy="295.0" r="2.55"/>
<circle cx="579.6" cy="293.8" r="2.55"/>
<circle cx="580.0" cy="297.1" r="2.55"/>
<circle cx="580.4" cy="295.8" r="2.55"/>
<circle cx="580.8" cy="297.6" r="2.55"/>
<circle cx="581.2" cy="296.0" r="2.55"/>
<circle cx="581.6" cy="294.7" r="2.55"/>
<circle cx="582.0" cy="296.9" r="2.55"/>
<circle cx="582.4" cy="295.0" r="2.55"/>
<circle cx="582.8" cy="297.9" r="2.55"/>
<circle cx="583.2" cy="296.3" r="2.55"/>
<circle cx="583.6" cy="297.5" r="2.55"/>
<circle cx="584.0" cy="294.0" r="2.55"/>
<circle cx="584.4" cy="294.3" r="2.55"/>
<circle cx="584.8" cy="294.0" r="2.55"/>
<circle cx="585.2" cy="297.7" r="2.55"/>
<circle cx="585.6" cy="295.8" r="2.55"/>
<circle cx="586.0" cy="297.4" r="2.55"/>
<circle cx="586.4" cy="296.3" r="2.55"/>
<circle cx="586.8" cy="296.8" r="2.55"/>
<circle cx="587.2" cy="297.2" r="2.55"/>
<circle cx="587.6" cy="295.4" r="2.55"/>
<circle cx="588.0" cy="295.7" r="2.55"/>
<circle cx="588.4" cy="296.9" r="2.55"/>
<circle cx="588.8" cy="296.4" r="2.55"/>
<circle cx="589.2" cy="296.8" r="2.55"/>
<circle cx="589.6" cy="297.3" r="2.55"/>
<circle cx="590.0" cy="297.5" r="2.55"/>
<circle cx="590.4" cy="298.6" r="2.55"/>
<circle cx="590.8" cy="296.9" r="2.55"/>
<circle cx="591.2" cy="296.4" r="2.55"/>
<circle cx="591.6" cy="299.1" r="2.55"/>
<circle cx="592.0" cy="299.6" r="2.55"/>
<circle cx="592.4" cy="300.3" r="2.55"/>
<circle cx="592.8" cy="301.5" r="2.55"/>
<circle cx="593.2" cy="299.7" r="2.55"/>
<circle cx="593.6" cy="298.6" r="2.55"/>
<circle cx="594.0" cy="300.1" r="2.55"/>
<circle cx="594.4" cy="300.6" r="2.55"/>
<circle cx="594.8" cy="299.5" r="2.55"/>
<circle cx="595.2" cy="302.7" r="2.55"/>
<circle cx="595.6" cy="302.4" r="2.55"/>
<circle cx="596.0" cy="302.5" r="2.55"/>
<circle cx="596.4" cy="303.3" r="2.55"/>
<circle cx="596.8" cy="305.1" r="2.55"/>
<circle cx="597.2" cy="304.8" r="2.55"/>
<circle cx="597.6" cy="305.0" r="2.55"/>
<circle cx="598.0" cy="305.0" r="2.55"/>
<circle cx="598.4" cy="305.2" r="2.55"/>
<circle cx="598.8" cy="304.7" r="2.55"/>
<circle cx="599.2" cy="305.1" r="2.55"/>
<circle cx="599.6" cy="305.5" r="2.55"/>
<circle cx="600.0" cy="306.2" r="2.55"/>
<circle cx="600.4" cy="304.7" r="2.55"/>
<circle cx="600.8" cy="306.7" r="2.55"/>
<circle cx="601.2" cy="306.7" r="2.55"/>
<circle cx="601.6" cy="304.7" r="2.55"/>
<circle cx="602.0" cy="308.4" r="2.55"/>
<circle cx="602.4" cy="306.4" r="2.55"/>
<circle cx="602.8" cy="308.9" r="2.55"/>
<circle cx="603.2" cy="308.2" r="2.55"/>
<circle cx="603.6" cy="306.8" r="2.55"/>
<circle cx="604.0" cy="307.0" r="2.55"/>
<circle cx="604.4" cy="309.9" r="2.55"/>
<circle cx="604.8" cy="308.1" r="2.55"/>
<circle cx="605.2" cy="310.4" r="2.55"/>
<circle cx="605.6" cy="309.7" r="2.55"/>
<circle cx="606.0" cy="310.6" r="2.55"/>
<circle cx="606.4" cy="309.0" r="2.55"/>
<circle cx="606.8" cy="309.9" r="2.55"/>
<circle cx="607.2" cy="310.2" r="2.55"/>
<circle cx="607.6" cy="310.3" r="2.55"/>
<circle cx="608.0" cy="310.9" r="2.55"/>
<circle cx="608.4" cy="308.8" r="2.55"/>
<circle cx="608.8" cy="309.1" r="2.55"/>
<circle cx="609.2" cy="311.1" r="2.55"/>
<circle cx="609.6" cy="309.0" r="2.55"/>
<circle cx="610.0" cy="310.5" r="2.55"/>
<circle cx="610.4" cy="311.3" r="2.55"/>
<circle cx="610.8" cy="310.7" r="2.55"/>
<circle cx="611.2" cy="310.4" r="2.55"/>
<circle cx="611.6" cy="308.8" r="2.55"/>
<circle cx="612.0" cy="311.6" r="2.55"/>
<circle cx="612.4" cy="310.4" r="2.55"/>
<circle cx="612.8" cy="310.7" r="2.55"/>
<circle cx="613.2" cy="309.1" r="2.55"/>
<circle cx="613.6" cy="308.9" r="2.55"/>
<circle cx="614.0" cy="310.1" r="2.55"/>
<circle cx="614.4" cy="310.9" r="2.55"/>
<circle cx="614.8" cy="310.7" r="2.55"/>
<circle cx="615.2" cy="311.9" r="2.55"/>
<circle cx="615.6" cy="312.8" r="2.55"/>
<circle cx="616.0" cy="310.5" r="2.55"/>
<circle cx="616.4" cy="311.6" r="2.55"/>
<circle cx="616.8" cy="312.3" r="2.55"/>
<circle cx="617.2" cy="312.8" r="2.55"/>
<circle cx="617.6" cy="311.7" r="2.55"/>
<circle cx="618.0" cy="311.1" r="2.55"/>
<circle cx="618.4" cy="310.3" r="2.55"/>
<circle cx="618.8" cy="312.0" r="2.55"/>
<circle cx="619.2" cy="312.8" r="2.55"/>
<circle cx="619.6" cy="311.9" r="2.55"/>
<circle cx="620.0" cy="312.3" r="2.55"/>
<circle cx="620.4" cy="312.4" r="2.55"/>
<circle cx="620.8" cy="312.2" r="2.55"/>
<circle cx="621.2" cy="312.2" r="2.55"/>
<circle cx="621.6" cy="313.0" r="2.55"/>
<circle cx="622.0" cy="310.6" r="2.55"/>
<circle cx="622.4" cy="310.4" r="2.55"/>
<circle cx="622.8" cy="312.8" r="2.55"/>
<circle cx="623.2" cy="311.0" r="2.55"/>
<circle cx="623.6" cy="311.1" r="2.55"/>
<circle cx="624.0" cy="310.6" r="2.55"/>
<circle cx="624.4" cy="313.3" r="2.55"/>
<circle cx="624.8" cy="310.1" r="2.55"/>
<circle cx="625.2" cy="310.6" r="2.55"/>
<circle cx="625.6" cy="310.3" r="2.55"/>
<circle cx="626.0" cy="309.1" r="2.55"/>
<circle cx="626.4" cy="311.1" r="2.55"/>
<circle cx="626.8" cy="313.2" r="2.55"/>
<circle cx="627.2" cy="309.5" r="2.55"/>
<circle cx="627.6" cy="310.7" r="2.55"/>
<circle cx="628.0" cy="310.9" r="2.55"/>
<circle cx="628.4" cy="312.2" r="2.55"/>
<circle cx="628.8" cy="312.4" r="2.55"/>
<circle cx="629.2" cy="311.3" r="2.55"/>
<circle cx="629.6" cy="311.3" r="2.55"/>
<circle cx="630.0" cy="312.1" r="2.55"/>
<circle cx="630.4" cy="313.0" r="2.55"/>
<circle cx="630.8" cy="311.1" r="2.55"/>
<circle cx="631.2" cy="310.7" r="2.55"/>
<circle cx="631.6" cy="311.8" r="2.55"/>
<circle cx="632.0" cy="310.9" r="2.55"/>
<circle cx="632.4" cy="311.6" r="2.55"/>
<circle cx="632.8" cy="311.2" r="2.55"/>
<circle cx="633.2" cy="312.8" r="2.55"/>
<circle cx="633.6" cy="310.5" r="2.55"/>
<circle cx="634.0" cy="313.4" r="2.55"/>
<circle cx="634.4" cy="310.9" r="2.55"/>
<circle cx="634.8" cy="312.9" r="2.55"/>
<circle cx="635.2" cy="310.9" r="2.55"/>
<circle cx="635.6" cy="312.0" r="2.55"/>
<circle cx="636.0" cy="311.6" r="2.55"/>
<circle cx="636.4" cy="311.0" r="2.55"/>
<circle cx="636.8" cy="312.5" r="2.55"/>
<circle cx="637.2" cy="310.4" r="2.55"/>
<circle cx="637.6" cy="310.5" r="2.55"/>
<circle cx="638.0" cy="312.6" r="2.55"/>
<circle cx="638.4" cy="312.3" r="2.55"/>
<circle cx="638.8" cy="310.2" r="2.55"/>
<circle cx="639.2" cy="312.2" r="2.55"/>
<circle cx="639.6" cy="311.9" r="2.55"/>
<circle cx="640.0" cy="313.0" r="2.55"/>
<circle cx="640.4" cy="313.3" r="2.55"/>
<circle cx="640.8" cy="312.6" r="2.55"/>
<circle cx="641.2" cy="312.4" r="2.55"/>
<circle cx="641.6" cy="312.2" r="2.55"/>
<circle cx="642.0" cy="311.6" r="2.55"/>
<circle cx="642.4" cy="311.1" r="2.55"/>
<circle cx="642.8" cy="313.0" r="2.55"/>
<circle cx="643.2" cy="311.0" r="2.55"/>
<circle cx="643.6" cy="311.2" r="2.55"/>
<circle cx="644.0" cy="310.5" r="2.55"/>
<circle cx="644.4" cy="310.9" r="2.55"/>
<circle cx="644.8" cy="311.7" r="2.55"/>
<circle cx="645.2" cy="312.8" r="2.55"/>
<circle cx="645.6" cy="311.7" r="2.55"/>
<circle cx="646.0" cy="311.7" r="2.55"/>
<circle cx="646.4" cy="312.2" r="2.55"/>
<circle cx="646.8" cy="310.9" r="2.55"/>
<circle cx="647.2" cy="311.8" r="2.55"/>
<circle cx="647.6" cy="311.7" r="2.55"/>
<circle cx="648.0" cy="313.0" r="2.55"/>
<circle cx="648.4" cy="312.3" r="2.55"/>
<circle cx="648.8" cy="311.6" r="2.55"/>
<circle cx="649.2" cy="311.3" r="2.55"/>
<circle cx="649.6" cy="311.4" r="2.55"/>
<circle cx="650.0" cy="312.2" r="2.55"/>
<circle cx="650.4" cy="311.4" r="2.55"/>
<circle cx="650.8" cy="312.1" r="2.55"/>
<circle cx="651.2" cy="310.5" r="2.55"/>
<circle cx="651.6" cy="312.0" r="2.55"/>
<circle cx="652.0" cy="311.6" r="2.55"/>
<circle cx="652.4" cy="312.7" r="2.55"/>
<circle cx="652.8" cy="312.6" r="2.55"/>
<circle cx="653.2" cy="313.5" r="2.55"/>
<circle cx="653.6" cy="312.2" r="2.55"/>
<circle cx="654.0" cy="311.9" r="2.55"/>
<circle cx="654.4" cy="310.2" r="2.55"/>
<circle cx="654.8" cy="311.7" r="2.55"/>
<circle cx="655.2" cy="312.8" r="2.55"/>
<circle cx="655.6" cy="311.0" r="2.55"/>
<circle cx="656.0" cy="311.9" r="2.55"/>
<circle cx="656.4" cy="312.5" r="2.55"/>
<circle cx="656.8" cy="312.4" r="2.55"/>
<circle cx="657.2" cy="312.8" r="2.55"/>
<circle cx="657.6" cy="312.6" r="2.55"/>
<circle cx="658.0" cy="311.6" r="2.55"/>
<circle cx="658.4" cy="310.9" r="2.55"/>
<circle cx="658.8" cy="311.8" r="2.55"/>
<circle cx="659.2" cy="312.6" r="2.55"/>
<circle cx="659.6" cy="312.8" r="2.55"/>
<circle cx="660.0" cy="313.0" r="2.55"/>
<circle cx="660.4" cy="311.5" r="2.55"/>
<circle cx="660.8" cy="312.0" r="2.55"/>
<circle cx="661.2" cy="313.2" r="2.55"/>
<circle cx="661.6" cy="311.0" r="2.55"/>
<circle cx="662.0" cy="313.5" r="2.55"/>
<circle cx="662.4" cy="311.0" r="2.55"/>
<circle cx="662.8" cy="312.2" r="2.55"/>
<circle cx="663.2" cy="312.2" r="2.55"/>
<circle cx="663.6" cy="311.4" r="2.55"/>
<circle cx="664.0" cy="312.0" r="2.55"/>
<circle cx="664.4" cy="312.3" r="2.55"/>
<circle cx="664.8" cy="312.2" r="2.55"/>
<circle cx="665.2" cy="312.2" r="2.55"/>
<circle cx="665.6" cy="312.9" r="2.55"/>
<circle cx="666.0" cy="312.0" r="2.55"/>
<circle cx="666.4" cy="311.4" r="2.55"/>
<circle cx="666.8" cy="310.4" r="2.55"/>
<circle cx="667.2" cy="311.6" r="2.55"/>
<circle cx="667.6" cy="311.6" r="2.55"/>
<circle cx="668.0" cy="311.9" r="2.55"/>
<circle cx="668.4" cy="312.7" r="2.55"/>
<circle cx="668.8" cy="311.1" r="2.55"/>
<circle cx="669.2" cy="312.2" r="2.55"/>
<circle cx="669.6" cy="312.4" r="2.55"/>
<circle cx="670.0" cy="313.8" r="2.55"/>
<circle cx="670.4" cy="310.9" r="2.55"/>
<circle cx="670.8" cy="311.2" r="2.55"/>
<circle cx="671.2" cy="312.5" r="2.55"/>
<circle cx="671.6" cy="312.1" r="2.55"/>
<circle cx="672.0" cy="310.6" r="2.55"/>
<circle cx="672.4" cy="314.7" r="2.55"/>
<circle cx="672.8" cy="312.6" r="2.55"/>
<circle cx="673.2" cy="310.3" r="2.55"/>
<circle cx="673.6" cy="312.6" r="2.55"/>
<circle cx="674.0" cy="311.7" r="2.55"/>
<circle cx="674.4" cy="310.7" r="2.55"/>
<circle cx="674.8" cy="312.4" r="2.55"/>
<circle cx="675.2" cy="312.7" r="2.55"/>
<circle cx="675.6" cy="312.5" r="2.55"/>
<circle cx="676.0" cy="311.8" r="2.55"/>
<circle cx="676.4" cy="310.5" r="2.55"/>
<circle cx="676.8" cy="310.3" r="2.55"/>
<circle cx="677.2" cy="311.7" r="2.55"/>
<circle cx="677.6" cy="311.6" r="2.55"/>
</g><g fill="#f99d5e" stroke="#1a0e06" stroke-width="0.75">
<circle cx="409.0" cy="173.7" r="2.55"/>
<circle cx="409.3" cy="186.4" r="2.55"/>
<circle cx="409.6" cy="193.9" r="2.55"/>
<circle cx="409.9" cy="200.5" r="2.55"/>
<circle cx="410.2" cy="205.9" r="2.55"/>
<circle cx="410.5" cy="210.1" r="2.55"/>
<circle cx="410.8" cy="215.8" r="2.55"/>
<circle cx="411.1" cy="220.0" r="2.55"/>
<circle cx="411.4" cy="220.4" r="2.55"/>
<circle cx="411.8" cy="228.2" r="2.55"/>
<circle cx="412.2" cy="227.1" r="2.55"/>
<circle cx="412.6" cy="232.9" r="2.55"/>
<circle cx="413.0" cy="236.0" r="2.55"/>
<circle cx="413.4" cy="231.1" r="2.55"/>
<circle cx="413.8" cy="239.2" r="2.55"/>
<circle cx="414.2" cy="233.1" r="2.55"/>
<circle cx="414.6" cy="239.7" r="2.55"/>
<circle cx="415.0" cy="235.4" r="2.55"/>
<circle cx="415.4" cy="234.2" r="2.55"/>
<circle cx="415.8" cy="239.2" r="2.55"/>
<circle cx="416.2" cy="237.0" r="2.55"/>
<circle cx="416.6" cy="236.3" r="2.55"/>
<circle cx="417.0" cy="240.6" r="2.55"/>
<circle cx="417.4" cy="236.0" r="2.55"/>
<circle cx="417.8" cy="246.3" r="2.55"/>
<circle cx="418.2" cy="240.4" r="2.55"/>
<circle cx="418.6" cy="238.0" r="2.55"/>
<circle cx="419.0" cy="236.0" r="2.55"/>
<circle cx="419.4" cy="243.5" r="2.55"/>
<circle cx="419.8" cy="235.1" r="2.55"/>
<circle cx="420.2" cy="242.1" r="2.55"/>
<circle cx="420.6" cy="239.7" r="2.55"/>
<circle cx="421.0" cy="239.8" r="2.55"/>
<circle cx="421.4" cy="236.2" r="2.55"/>
<circle cx="421.8" cy="238.3" r="2.55"/>
<circle cx="422.2" cy="234.6" r="2.55"/>
<circle cx="422.6" cy="239.4" r="2.55"/>
<circle cx="423.0" cy="242.2" r="2.55"/>
<circle cx="423.4" cy="235.1" r="2.55"/>
<circle cx="423.8" cy="239.2" r="2.55"/>
<circle cx="424.2" cy="238.4" r="2.55"/>
<circle cx="424.6" cy="240.9" r="2.55"/>
<circle cx="425.0" cy="237.5" r="2.55"/>
<circle cx="425.4" cy="236.6" r="2.55"/>
<circle cx="425.8" cy="238.4" r="2.55"/>
<circle cx="426.2" cy="243.5" r="2.55"/>
<circle cx="426.6" cy="241.7" r="2.55"/>
<circle cx="427.0" cy="240.0" r="2.55"/>
<circle cx="427.4" cy="241.7" r="2.55"/>
<circle cx="427.8" cy="237.1" r="2.55"/>
<circle cx="428.2" cy="236.6" r="2.55"/>
<circle cx="428.6" cy="243.4" r="2.55"/>
<circle cx="429.0" cy="234.6" r="2.55"/>
<circle cx="429.4" cy="242.7" r="2.55"/>
<circle cx="429.8" cy="244.1" r="2.55"/>
<circle cx="430.2" cy="238.1" r="2.55"/>
<circle cx="430.6" cy="241.9" r="2.55"/>
<circle cx="431.0" cy="242.5" r="2.55"/>
<circle cx="431.4" cy="234.1" r="2.55"/>
<circle cx="431.8" cy="238.7" r="2.55"/>
<circle cx="432.2" cy="237.6" r="2.55"/>
<circle cx="432.6" cy="238.9" r="2.55"/>
<circle cx="433.0" cy="238.5" r="2.55"/>
<circle cx="433.4" cy="238.6" r="2.55"/>
<circle cx="433.8" cy="234.8" r="2.55"/>
<circle cx="434.2" cy="237.2" r="2.55"/>
<circle cx="434.6" cy="238.1" r="2.55"/>
<circle cx="435.0" cy="241.3" r="2.55"/>
<circle cx="435.4" cy="241.8" r="2.55"/>
<circle cx="435.8" cy="242.6" r="2.55"/>
<circle cx="436.2" cy="241.8" r="2.55"/>
<circle cx="436.6" cy="241.1" r="2.55"/>
<circle cx="437.0" cy="239.5" r="2.55"/>
<circle cx="437.4" cy="237.8" r="2.55"/>
<circle cx="437.8" cy="235.0" r="2.55"/>
<circle cx="438.2" cy="242.4" r="2.55"/>
<circle cx="438.6" cy="240.8" r="2.55"/>
<circle cx="439.0" cy="236.6" r="2.55"/>
<circle cx="439.4" cy="239.7" r="2.55"/>
<circle cx="439.8" cy="244.5" r="2.55"/>
<circle cx="440.2" cy="240.1" r="2.55"/>
<circle cx="440.6" cy="237.6" r="2.55"/>
<circle cx="441.0" cy="243.0" r="2.55"/>
<circle cx="441.4" cy="239.1" r="2.55"/>
<circle cx="441.8" cy="236.8" r="2.55"/>
<circle cx="442.2" cy="236.4" r="2.55"/>
<circle cx="442.6" cy="244.1" r="2.55"/>
<circle cx="443.0" cy="235.6" r="2.55"/>
<circle cx="443.4" cy="241.0" r="2.55"/>
<circle cx="443.8" cy="235.6" r="2.55"/>
<circle cx="444.2" cy="236.3" r="2.55"/>
<circle cx="444.6" cy="238.1" r="2.55"/>
<circle cx="445.0" cy="239.1" r="2.55"/>
<circle cx="445.4" cy="236.2" r="2.55"/>
<circle cx="445.8" cy="238.5" r="2.55"/>
<circle cx="446.2" cy="242.7" r="2.55"/>
<circle cx="446.6" cy="239.7" r="2.55"/>
<circle cx="447.0" cy="237.4" r="2.55"/>
<circle cx="447.4" cy="244.2" r="2.55"/>
<circle cx="447.8" cy="243.3" r="2.55"/>
<circle cx="448.2" cy="240.1" r="2.55"/>
<circle cx="448.6" cy="238.8" r="2.55"/>
<circle cx="449.0" cy="235.7" r="2.55"/>
<circle cx="449.4" cy="236.2" r="2.55"/>
<circle cx="449.8" cy="238.5" r="2.55"/>
<circle cx="450.2" cy="237.3" r="2.55"/>
<circle cx="450.6" cy="241.9" r="2.55"/>
<circle cx="451.0" cy="240.5" r="2.55"/>
<circle cx="451.4" cy="238.6" r="2.55"/>
<circle cx="451.8" cy="239.4" r="2.55"/>
<circle cx="452.2" cy="236.6" r="2.55"/>
<circle cx="452.6" cy="242.4" r="2.55"/>
<circle cx="453.0" cy="240.0" r="2.55"/>
<circle cx="453.4" cy="242.0" r="2.55"/>
<circle cx="453.8" cy="238.2" r="2.55"/>
<circle cx="454.2" cy="239.8" r="2.55"/>
<circle cx="454.6" cy="240.6" r="2.55"/>
<circle cx="455.0" cy="238.8" r="2.55"/>
<circle cx="455.4" cy="236.4" r="2.55"/>
<circle cx="455.8" cy="240.6" r="2.55"/>
<circle cx="456.2" cy="240.2" r="2.55"/>
<circle cx="456.6" cy="239.6" r="2.55"/>
<circle cx="457.0" cy="241.8" r="2.55"/>
<circle cx="457.4" cy="240.7" r="2.55"/>
<circle cx="457.8" cy="243.2" r="2.55"/>
<circle cx="458.2" cy="236.1" r="2.55"/>
<circle cx="458.6" cy="241.5" r="2.55"/>
<circle cx="459.0" cy="240.0" r="2.55"/>
<circle cx="459.4" cy="237.7" r="2.55"/>
<circle cx="459.8" cy="243.2" r="2.55"/>
<circle cx="460.2" cy="237.2" r="2.55"/>
<circle cx="460.6" cy="239.3" r="2.55"/>
<circle cx="461.0" cy="237.9" r="2.55"/>
<circle cx="461.4" cy="242.2" r="2.55"/>
<circle cx="461.8" cy="243.0" r="2.55"/>
<circle cx="462.2" cy="236.5" r="2.55"/>
<circle cx="462.6" cy="235.7" r="2.55"/>
<circle cx="463.0" cy="235.1" r="2.55"/>
<circle cx="463.4" cy="236.0" r="2.55"/>
<circle cx="463.8" cy="242.9" r="2.55"/>
<circle cx="464.2" cy="243.9" r="2.55"/>
<circle cx="464.6" cy="242.8" r="2.55"/>
<circle cx="465.0" cy="240.0" r="2.55"/>
<circle cx="465.4" cy="240.8" r="2.55"/>
<circle cx="465.8" cy="239.3" r="2.55"/>
<circle cx="466.2" cy="242.6" r="2.55"/>
<circle cx="466.6" cy="236.8" r="2.55"/>
<circle cx="467.0" cy="239.0" r="2.55"/>
<circle cx="467.4" cy="238.9" r="2.55"/>
<circle cx="467.8" cy="235.2" r="2.55"/>
<circle cx="468.2" cy="243.7" r="2.55"/>
<circle cx="468.6" cy="235.4" r="2.55"/>
<circle cx="469.0" cy="242.6" r="2.55"/>
<circle cx="469.4" cy="237.5" r="2.55"/>
<circle cx="469.8" cy="236.2" r="2.55"/>
<circle cx="470.2" cy="236.7" r="2.55"/>
<circle cx="470.6" cy="240.7" r="2.55"/>
<circle cx="471.0" cy="243.7" r="2.55"/>
<circle cx="471.4" cy="239.9" r="2.55"/>
<circle cx="471.8" cy="243.8" r="2.55"/>
<circle cx="472.2" cy="243.0" r="2.55"/>
<circle cx="472.6" cy="243.4" r="2.55"/>
<circle cx="473.0" cy="237.7" r="2.55"/>
<circle cx="473.4" cy="237.7" r="2.55"/>
<circle cx="473.8" cy="235.1" r="2.55"/>
<circle cx="474.2" cy="239.5" r="2.55"/>
<circle cx="474.6" cy="238.9" r="2.55"/>
<circle cx="475.0" cy="238.3" r="2.55"/>
<circle cx="475.4" cy="242.2" r="2.55"/>
<circle cx="475.8" cy="236.0" r="2.55"/>
<circle cx="476.2" cy="237.2" r="2.55"/>
<circle cx="476.6" cy="237.3" r="2.55"/>
<circle cx="477.0" cy="234.4" r="2.55"/>
<circle cx="477.4" cy="240.1" r="2.55"/>
<circle cx="477.8" cy="239.9" r="2.55"/>
<circle cx="478.2" cy="240.4" r="2.55"/>
<circle cx="478.6" cy="237.7" r="2.55"/>
<circle cx="479.0" cy="243.1" r="2.55"/>
<circle cx="479.4" cy="237.8" r="2.55"/>
<circle cx="479.8" cy="238.2" r="2.55"/>
<circle cx="480.2" cy="239.9" r="2.55"/>
<circle cx="480.6" cy="243.3" r="2.55"/>
<circle cx="481.0" cy="242.2" r="2.55"/>
<circle cx="481.4" cy="242.1" r="2.55"/>
<circle cx="481.8" cy="234.4" r="2.55"/>
<circle cx="482.2" cy="244.9" r="2.55"/>
<circle cx="482.6" cy="241.3" r="2.55"/>
<circle cx="483.0" cy="238.0" r="2.55"/>
<circle cx="483.4" cy="241.0" r="2.55"/>
<circle cx="483.8" cy="243.7" r="2.55"/>
<circle cx="484.2" cy="240.1" r="2.55"/>
<circle cx="484.6" cy="241.6" r="2.55"/>
<circle cx="485.0" cy="242.2" r="2.55"/>
<circle cx="485.4" cy="243.6" r="2.55"/>
<circle cx="485.8" cy="240.8" r="2.55"/>
<circle cx="486.2" cy="235.3" r="2.55"/>
<circle cx="486.6" cy="236.8" r="2.55"/>
<circle cx="487.0" cy="238.3" r="2.55"/>
<circle cx="487.4" cy="237.8" r="2.55"/>
<circle cx="487.8" cy="236.1" r="2.55"/>
<circle cx="488.2" cy="239.3" r="2.55"/>
<circle cx="488.6" cy="243.4" r="2.55"/>
<circle cx="489.0" cy="244.2" r="2.55"/>
<circle cx="489.4" cy="235.8" r="2.55"/>
<circle cx="489.8" cy="241.3" r="2.55"/>
<circle cx="490.2" cy="236.8" r="2.55"/>
<circle cx="490.6" cy="242.0" r="2.55"/>
<circle cx="491.0" cy="235.4" r="2.55"/>
<circle cx="491.4" cy="234.6" r="2.55"/>
<circle cx="491.8" cy="237.7" r="2.55"/>
<circle cx="492.2" cy="234.6" r="2.55"/>
<circle cx="492.6" cy="240.6" r="2.55"/>
<circle cx="493.0" cy="237.7" r="2.55"/>
<circle cx="493.4" cy="241.7" r="2.55"/>
<circle cx="493.8" cy="243.7" r="2.55"/>
<circle cx="494.2" cy="240.3" r="2.55"/>
<circle cx="494.6" cy="237.0" r="2.55"/>
<circle cx="495.0" cy="244.1" r="2.55"/>
<circle cx="495.4" cy="237.9" r="2.55"/>
<circle cx="495.8" cy="242.7" r="2.55"/>
<circle cx="496.2" cy="240.1" r="2.55"/>
<circle cx="496.6" cy="235.9" r="2.55"/>
<circle cx="497.0" cy="238.9" r="2.55"/>
<circle cx="497.4" cy="242.3" r="2.55"/>
<circle cx="497.8" cy="235.6" r="2.55"/>
<circle cx="498.2" cy="243.1" r="2.55"/>
<circle cx="498.6" cy="243.8" r="2.55"/>
<circle cx="499.0" cy="243.4" r="2.55"/>
<circle cx="499.4" cy="243.3" r="2.55"/>
<circle cx="499.8" cy="240.5" r="2.55"/>
<circle cx="500.2" cy="242.2" r="2.55"/>
<circle cx="500.6" cy="239.4" r="2.55"/>
<circle cx="501.0" cy="239.0" r="2.55"/>
<circle cx="501.4" cy="240.7" r="2.55"/>
<circle cx="501.8" cy="240.0" r="2.55"/>
<circle cx="502.2" cy="237.3" r="2.55"/>
<circle cx="502.6" cy="236.8" r="2.55"/>
<circle cx="503.0" cy="239.3" r="2.55"/>
<circle cx="503.4" cy="238.0" r="2.55"/>
<circle cx="503.8" cy="241.4" r="2.55"/>
<circle cx="504.2" cy="239.9" r="2.55"/>
<circle cx="504.6" cy="242.8" r="2.55"/>
<circle cx="505.0" cy="242.4" r="2.55"/>
<circle cx="505.4" cy="238.2" r="2.55"/>
<circle cx="505.8" cy="238.8" r="2.55"/>
<circle cx="506.2" cy="242.5" r="2.55"/>
<circle cx="506.6" cy="236.1" r="2.55"/>
<circle cx="507.0" cy="243.1" r="2.55"/>
<circle cx="507.4" cy="239.3" r="2.55"/>
<circle cx="507.8" cy="241.8" r="2.55"/>
<circle cx="508.2" cy="242.9" r="2.55"/>
<circle cx="508.6" cy="240.3" r="2.55"/>
<circle cx="509.0" cy="237.4" r="2.55"/>
<circle cx="509.4" cy="234.7" r="2.55"/>
<circle cx="509.8" cy="244.3" r="2.55"/>
<circle cx="510.2" cy="242.5" r="2.55"/>
<circle cx="510.6" cy="238.5" r="2.55"/>
<circle cx="511.0" cy="242.1" r="2.55"/>
<circle cx="511.4" cy="236.9" r="2.55"/>
<circle cx="511.8" cy="238.3" r="2.55"/>
<circle cx="512.2" cy="241.4" r="2.55"/>
<circle cx="512.6" cy="241.4" r="2.55"/>
<circle cx="513.0" cy="239.7" r="2.55"/>
<circle cx="513.4" cy="237.7" r="2.55"/>
<circle cx="513.8" cy="242.8" r="2.55"/>
<circle cx="514.2" cy="242.2" r="2.55"/>
<circle cx="514.6" cy="236.0" r="2.55"/>
<circle cx="515.0" cy="242.3" r="2.55"/>
<circle cx="515.4" cy="242.2" r="2.55"/>
<circle cx="515.8" cy="237.5" r="2.55"/>
<circle cx="516.2" cy="242.1" r="2.55"/>
<circle cx="516.6" cy="237.1" r="2.55"/>
<circle cx="517.0" cy="237.3" r="2.55"/>
<circle cx="517.4" cy="238.0" r="2.55"/>
<circle cx="517.8" cy="241.4" r="2.55"/>
<circle cx="518.2" cy="240.3" r="2.55"/>
<circle cx="518.6" cy="239.5" r="2.55"/>
<circle cx="519.0" cy="236.0" r="2.55"/>
<circle cx="519.4" cy="242.0" r="2.55"/>
<circle cx="519.8" cy="236.4" r="2.55"/>
<circle cx="520.2" cy="238.4" r="2.55"/>
<circle cx="520.6" cy="240.1" r="2.55"/>
<circle cx="521.0" cy="237.0" r="2.55"/>
<circle cx="521.4" cy="240.5" r="2.55"/>
<circle cx="521.8" cy="241.0" r="2.55"/>
<circle cx="522.2" cy="243.2" r="2.55"/>
<circle cx="522.6" cy="236.0" r="2.55"/>
<circle cx="523.0" cy="240.3" r="2.55"/>
<circle cx="523.4" cy="237.9" r="2.55"/>
<circle cx="523.8" cy="236.7" r="2.55"/>
<circle cx="524.2" cy="237.3" r="2.55"/>
<circle cx="524.6" cy="243.0" r="2.55"/>
<circle cx="525.0" cy="239.8" r="2.55"/>
<circle cx="525.4" cy="242.9" r="2.55"/>
<circle cx="525.8" cy="236.0" r="2.55"/>
<circle cx="526.2" cy="237.0" r="2.55"/>
<circle cx="526.6" cy="236.4" r="2.55"/>
<circle cx="527.0" cy="242.1" r="2.55"/>
<circle cx="527.4" cy="236.7" r="2.55"/>
<circle cx="527.8" cy="238.3" r="2.55"/>
<circle cx="528.2" cy="240.1" r="2.55"/>
<circle cx="528.6" cy="235.6" r="2.55"/>
<circle cx="529.0" cy="244.8" r="2.55"/>
<circle cx="529.4" cy="241.9" r="2.55"/>
<circle cx="529.8" cy="236.2" r="2.55"/>
<circle cx="530.2" cy="237.1" r="2.55"/>
<circle cx="530.6" cy="241.0" r="2.55"/>
<circle cx="531.0" cy="241.7" r="2.55"/>
<circle cx="531.4" cy="242.1" r="2.55"/>
<circle cx="531.8" cy="241.1" r="2.55"/>
<circle cx="532.2" cy="244.0" r="2.55"/>
<circle cx="532.6" cy="240.0" r="2.55"/>
<circle cx="533.0" cy="237.1" r="2.55"/>
<circle cx="533.4" cy="241.3" r="2.55"/>
<circle cx="533.8" cy="238.9" r="2.55"/>
<circle cx="534.2" cy="242.2" r="2.55"/>
<circle cx="534.6" cy="238.4" r="2.55"/>
<circle cx="535.0" cy="234.6" r="2.55"/>
<circle cx="535.4" cy="244.0" r="2.55"/>
<circle cx="535.8" cy="238.0" r="2.55"/>
<circle cx="536.2" cy="241.9" r="2.55"/>
<circle cx="536.6" cy="240.2" r="2.55"/>
<circle cx="537.0" cy="241.8" r="2.55"/>
<circle cx="537.4" cy="240.8" r="2.55"/>
<circle cx="537.8" cy="242.7" r="2.55"/>
<circle cx="538.2" cy="240.7" r="2.55"/>
<circle cx="538.6" cy="241.4" r="2.55"/>
<circle cx="539.0" cy="239.0" r="2.55"/>
<circle cx="539.4" cy="239.8" r="2.55"/>
<circle cx="539.8" cy="238.1" r="2.55"/>
<circle cx="540.2" cy="238.5" r="2.55"/>
<circle cx="540.6" cy="241.1" r="2.55"/>
<circle cx="541.0" cy="239.0" r="2.55"/>
<circle cx="541.4" cy="236.5" r="2.55"/>
<circle cx="541.8" cy="236.9" r="2.55"/>
<circle cx="542.2" cy="238.6" r="2.55"/>
<circle cx="542.6" cy="237.9" r="2.55"/>
<circle cx="543.0" cy="240.9" r="2.55"/>
<circle cx="543.4" cy="236.9" r="2.55"/>
<circle cx="543.8" cy="237.6" r="2.55"/>
<circle cx="544.2" cy="235.3" r="2.55"/>
<circle cx="544.6" cy="240.6" r="2.55"/>
<circle cx="545.0" cy="235.9" r="2.55"/>
<circle cx="545.4" cy="235.8" r="2.55"/>
<circle cx="545.8" cy="240.9" r="2.55"/>
<circle cx="546.2" cy="239.1" r="2.55"/>
<circle cx="546.6" cy="241.9" r="2.55"/>
<circle cx="547.0" cy="236.1" r="2.55"/>
<circle cx="547.4" cy="238.9" r="2.55"/>
<circle cx="547.8" cy="240.7" r="2.55"/>
<circle cx="548.2" cy="234.5" r="2.55"/>
<circle cx="548.6" cy="243.6" r="2.55"/>
<circle cx="549.0" cy="237.1" r="2.55"/>
<circle cx="549.4" cy="242.7" r="2.55"/>
<circle cx="549.8" cy="241.7" r="2.55"/>
<circle cx="550.2" cy="241.9" r="2.55"/>
<circle cx="550.6" cy="238.1" r="2.55"/>
<circle cx="551.0" cy="243.0" r="2.55"/>
<circle cx="551.4" cy="239.6" r="2.55"/>
<circle cx="551.8" cy="239.3" r="2.55"/>
<circle cx="552.2" cy="237.7" r="2.55"/>
<circle cx="552.6" cy="237.0" r="2.55"/>
<circle cx="553.0" cy="242.1" r="2.55"/>
<circle cx="553.4" cy="242.7" r="2.55"/>
<circle cx="553.8" cy="238.4" r="2.55"/>
<circle cx="554.2" cy="240.8" r="2.55"/>
<circle cx="554.6" cy="241.4" r="2.55"/>
<circle cx="555.0" cy="239.6" r="2.55"/>
<circle cx="555.4" cy="239.2" r="2.55"/>
<circle cx="555.8" cy="239.9" r="2.55"/>
<circle cx="556.2" cy="238.4" r="2.55"/>
<circle cx="556.6" cy="243.1" r="2.55"/>
<circle cx="557.0" cy="240.0" r="2.55"/>
<circle cx="557.4" cy="239.0" r="2.55"/>
<circle cx="557.8" cy="237.2" r="2.55"/>
<circle cx="558.2" cy="243.2" r="2.55"/>
<circle cx="558.6" cy="235.8" r="2.55"/>
<circle cx="559.0" cy="241.1" r="2.55"/>
<circle cx="559.4" cy="240.2" r="2.55"/>
<circle cx="559.8" cy="236.9" r="2.55"/>
<circle cx="560.2" cy="241.1" r="2.55"/>
<circle cx="560.6" cy="235.8" r="2.55"/>
<circle cx="561.0" cy="238.7" r="2.55"/>
<circle cx="561.4" cy="237.2" r="2.55"/>
<circle cx="561.8" cy="241.2" r="2.55"/>
<circle cx="562.2" cy="239.9" r="2.55"/>
<circle cx="562.6" cy="241.5" r="2.55"/>
<circle cx="563.0" cy="241.7" r="2.55"/>
<circle cx="563.4" cy="235.2" r="2.55"/>
<circle cx="563.8" cy="239.9" r="2.55"/>
<circle cx="564.2" cy="236.4" r="2.55"/>
<circle cx="564.6" cy="241.3" r="2.55"/>
<circle cx="565.0" cy="239.6" r="2.55"/>
<circle cx="565.4" cy="235.8" r="2.55"/>
<circle cx="565.8" cy="236.0" r="2.55"/>
<circle cx="566.2" cy="237.9" r="2.55"/>
<circle cx="566.6" cy="239.2" r="2.55"/>
<circle cx="567.0" cy="238.5" r="2.55"/>
<circle cx="567.4" cy="238.1" r="2.55"/>
<circle cx="567.8" cy="239.7" r="2.55"/>
<circle cx="568.2" cy="237.7" r="2.55"/>
<circle cx="568.6" cy="242.0" r="2.55"/>
<circle cx="569.0" cy="240.5" r="2.55"/>
<circle cx="569.4" cy="240.7" r="2.55"/>
<circle cx="569.8" cy="238.4" r="2.55"/>
<circle cx="570.2" cy="242.4" r="2.55"/>
<circle cx="570.6" cy="240.7" r="2.55"/>
<circle cx="571.0" cy="243.8" r="2.55"/>
<circle cx="571.4" cy="234.8" r="2.55"/>
<circle cx="571.8" cy="242.1" r="2.55"/>
<circle cx="572.2" cy="239.0" r="2.55"/>
<circle cx="572.6" cy="243.6" r="2.55"/>
<circle cx="573.0" cy="234.5" r="2.55"/>
<circle cx="573.4" cy="240.5" r="2.55"/>
<circle cx="573.8" cy="239.7" r="2.55"/>
<circle cx="574.2" cy="241.0" r="2.55"/>
<circle cx="574.6" cy="239.2" r="2.55"/>
<circle cx="575.0" cy="238.3" r="2.55"/>
<circle cx="575.4" cy="235.5" r="2.55"/>
<circle cx="575.8" cy="237.2" r="2.55"/>
<circle cx="576.2" cy="241.0" r="2.55"/>
<circle cx="576.6" cy="238.6" r="2.55"/>
<circle cx="577.0" cy="236.2" r="2.55"/>
<circle cx="577.4" cy="238.3" r="2.55"/>
<circle cx="577.8" cy="237.9" r="2.55"/>
<circle cx="578.2" cy="237.1" r="2.55"/>
<circle cx="578.6" cy="240.1" r="2.55"/>
<circle cx="579.0" cy="241.7" r="2.55"/>
<circle cx="579.4" cy="242.0" r="2.55"/>
<circle cx="579.8" cy="242.6" r="2.55"/>
<circle cx="580.2" cy="237.6" r="2.55"/>
<circle cx="580.6" cy="242.4" r="2.55"/>
<circle cx="581.0" cy="244.6" r="2.55"/>
<circle cx="581.4" cy="242.1" r="2.55"/>
<circle cx="581.8" cy="242.7" r="2.55"/>
<circle cx="582.2" cy="244.1" r="2.55"/>
<circle cx="582.6" cy="243.0" r="2.55"/>
<circle cx="583.0" cy="240.2" r="2.55"/>
<circle cx="583.4" cy="242.6" r="2.55"/>
<circle cx="583.8" cy="243.7" r="2.55"/>
<circle cx="584.2" cy="241.7" r="2.55"/>
<circle cx="584.6" cy="240.8" r="2.55"/>
<circle cx="585.0" cy="241.3" r="2.55"/>
<circle cx="585.4" cy="243.0" r="2.55"/>
<circle cx="585.9" cy="246.5" r="2.55"/>
<circle cx="586.1" cy="245.7" r="2.55"/>
<circle cx="586.6" cy="249.9" r="2.55"/>
<circle cx="586.8" cy="246.7" r="2.55"/>
<circle cx="587.3" cy="250.5" r="2.55"/>
<circle cx="587.5" cy="248.1" r="2.55"/>
<circle cx="588.5" cy="249.7" r="2.55"/>
<circle cx="588.5" cy="254.6" r="2.55"/>
<circle cx="589.4" cy="255.9" r="2.55"/>
<circle cx="589.1" cy="256.4" r="2.55"/>
<circle cx="590.0" cy="257.5" r="2.55"/>
<circle cx="590.3" cy="259.5" r="2.55"/>
<circle cx="590.8" cy="262.7" r="2.55"/>
<circle cx="591.3" cy="264.4" r="2.55"/>
<circle cx="591.0" cy="264.5" r="2.55"/>
<circle cx="592.0" cy="266.6" r="2.55"/>
<circle cx="591.7" cy="268.9" r="2.55"/>
<circle cx="592.4" cy="268.8" r="2.55"/>
<circle cx="593.3" cy="270.1" r="2.55"/>
<circle cx="593.5" cy="269.3" r="2.55"/>
<circle cx="594.2" cy="271.2" r="2.55"/>
<circle cx="594.6" cy="274.0" r="2.55"/>
<circle cx="594.5" cy="274.5" r="2.55"/>
<circle cx="594.8" cy="278.5" r="2.55"/>
<circle cx="595.1" cy="278.8" r="2.55"/>
<circle cx="595.3" cy="278.5" r="2.55"/>
<circle cx="596.4" cy="281.8" r="2.55"/>
<circle cx="596.9" cy="282.7" r="2.55"/>
<circle cx="596.5" cy="282.3" r="2.55"/>
<circle cx="597.4" cy="286.2" r="2.55"/>
<circle cx="598.1" cy="284.3" r="2.55"/>
<circle cx="598.3" cy="285.7" r="2.55"/>
<circle cx="598.5" cy="287.8" r="2.55"/>
<circle cx="599.4" cy="289.4" r="2.55"/>
<circle cx="599.3" cy="288.8" r="2.55"/>
<circle cx="599.6" cy="290.0" r="2.55"/>
<circle cx="600.2" cy="288.3" r="2.55"/>
<circle cx="600.5" cy="292.7" r="2.55"/>
<circle cx="600.9" cy="288.5" r="2.55"/>
<circle cx="601.4" cy="293.5" r="2.55"/>
<circle cx="601.5" cy="291.9" r="2.55"/>
<circle cx="602.3" cy="293.0" r="2.55"/>
<circle cx="602.7" cy="294.8" r="2.55"/>
<circle cx="603.1" cy="295.4" r="2.55"/>
<circle cx="603.2" cy="295.6" r="2.55"/>
<circle cx="603.5" cy="295.7" r="2.55"/>
<circle cx="604.3" cy="296.9" r="2.55"/>
<circle cx="604.5" cy="297.2" r="2.55"/>
<circle cx="605.0" cy="296.6" r="2.55"/>
<circle cx="605.3" cy="297.1" r="2.55"/>
<circle cx="605.7" cy="301.0" r="2.55"/>
<circle cx="606.1" cy="299.4" r="2.55"/>
<circle cx="606.6" cy="299.0" r="2.55"/>
<circle cx="607.0" cy="299.6" r="2.55"/>
<circle cx="607.3" cy="298.2" r="2.55"/>
<circle cx="607.8" cy="299.4" r="2.55"/>
<circle cx="608.2" cy="300.3" r="2.55"/>
<circle cx="608.6" cy="300.4" r="2.55"/>
<circle cx="609.0" cy="301.1" r="2.55"/>
<circle cx="609.4" cy="303.3" r="2.55"/>
<circle cx="609.8" cy="303.4" r="2.55"/>
<circle cx="610.2" cy="302.4" r="2.55"/>
<circle cx="610.6" cy="302.0" r="2.55"/>
<circle cx="611.0" cy="303.0" r="2.55"/>
<circle cx="611.4" cy="302.6" r="2.55"/>
<circle cx="611.8" cy="303.6" r="2.55"/>
<circle cx="612.2" cy="302.2" r="2.55"/>
<circle cx="612.7" cy="304.1" r="2.55"/>
<circle cx="613.3" cy="303.1" r="2.55"/>
<circle cx="613.8" cy="305.4" r="2.55"/>
<circle cx="614.4" cy="303.6" r="2.55"/>
<circle cx="614.9" cy="303.8" r="2.55"/>
<circle cx="615.5" cy="304.5" r="2.55"/>
<circle cx="616.0" cy="304.9" r="2.55"/>
<circle cx="616.6" cy="304.9" r="2.55"/>
<circle cx="617.1" cy="305.4" r="2.55"/>
<circle cx="617.7" cy="305.6" r="2.55"/>
<circle cx="618.2" cy="303.7" r="2.55"/>
<circle cx="618.8" cy="305.1" r="2.55"/>
<circle cx="619.3" cy="305.3" r="2.55"/>
<circle cx="619.9" cy="305.3" r="2.55"/>
<circle cx="620.4" cy="306.0" r="2.55"/>
<circle cx="621.0" cy="305.0" r="2.55"/>
<circle cx="621.5" cy="305.8" r="2.55"/>
<circle cx="622.1" cy="306.3" r="2.55"/>
<circle cx="622.6" cy="306.0" r="2.55"/>
<circle cx="623.2" cy="306.9" r="2.55"/>
<circle cx="623.7" cy="305.8" r="2.55"/>
<circle cx="624.3" cy="307.3" r="2.55"/>
<circle cx="624.8" cy="306.9" r="2.55"/>
<circle cx="625.4" cy="306.2" r="2.55"/>
<circle cx="625.9" cy="306.8" r="2.55"/>
<circle cx="626.5" cy="307.5" r="2.55"/>
<circle cx="627.0" cy="307.5" r="2.55"/>
<circle cx="627.6" cy="306.9" r="2.55"/>
<circle cx="628.1" cy="306.8" r="2.55"/>
<circle cx="628.7" cy="308.0" r="2.55"/>
<circle cx="629.2" cy="307.8" r="2.55"/>
<circle cx="629.8" cy="308.0" r="2.55"/>
<circle cx="630.3" cy="307.4" r="2.55"/>
<circle cx="630.9" cy="306.5" r="2.55"/>
<circle cx="631.4" cy="307.4" r="2.55"/>
<circle cx="632.0" cy="307.3" r="2.55"/>
<circle cx="632.5" cy="307.2" r="2.55"/>
<circle cx="633.1" cy="307.4" r="2.55"/>
<circle cx="633.6" cy="307.8" r="2.55"/>
<circle cx="634.2" cy="308.2" r="2.55"/>
<circle cx="634.7" cy="306.8" r="2.55"/>
<circle cx="635.3" cy="307.7" r="2.55"/>
<circle cx="635.8" cy="308.1" r="2.55"/>
<circle cx="636.4" cy="307.6" r="2.55"/>
<circle cx="636.9" cy="307.8" r="2.55"/>
<circle cx="637.5" cy="308.2" r="2.55"/>
<circle cx="638.0" cy="308.1" r="2.55"/>
<circle cx="638.6" cy="307.6" r="2.55"/>
<circle cx="639.1" cy="306.9" r="2.55"/>
<circle cx="639.7" cy="308.0" r="2.55"/>
<circle cx="640.2" cy="308.5" r="2.55"/>
<circle cx="640.8" cy="308.4" r="2.55"/>
<circle cx="641.3" cy="308.2" r="2.55"/>
<circle cx="641.9" cy="308.3" r="2.55"/>
<circle cx="642.4" cy="308.6" r="2.55"/>
<circle cx="643.0" cy="307.9" r="2.55"/>
<circle cx="643.5" cy="306.7" r="2.55"/>
<circle cx="644.1" cy="307.7" r="2.55"/>
<circle cx="644.6" cy="307.9" r="2.55"/>
<circle cx="645.2" cy="309.3" r="2.55"/>
<circle cx="645.7" cy="308.6" r="2.55"/>
<circle cx="646.3" cy="308.8" r="2.55"/>
<circle cx="646.8" cy="309.3" r="2.55"/>
<circle cx="647.4" cy="307.1" r="2.55"/>
<circle cx="647.9" cy="308.8" r="2.55"/>
<circle cx="648.5" cy="309.9" r="2.55"/>
<circle cx="649.0" cy="307.5" r="2.55"/>
<circle cx="649.6" cy="309.4" r="2.55"/>
<circle cx="650.1" cy="308.8" r="2.55"/>
<circle cx="650.7" cy="308.5" r="2.55"/>
<circle cx="651.2" cy="309.1" r="2.55"/>
<circle cx="651.8" cy="309.1" r="2.55"/>
<circle cx="652.3" cy="308.1" r="2.55"/>
<circle cx="652.9" cy="309.9" r="2.55"/>
<circle cx="653.4" cy="307.3" r="2.55"/>
<circle cx="654.0" cy="309.6" r="2.55"/>
<circle cx="654.5" cy="308.3" r="2.55"/>
<circle cx="655.1" cy="309.6" r="2.55"/>
<circle cx="655.6" cy="307.5" r="2.55"/>
<circle cx="656.2" cy="308.5" r="2.55"/>
<circle cx="656.7" cy="309.4" r="2.55"/>
<circle cx="657.3" cy="308.7" r="2.55"/>
<circle cx="657.8" cy="309.8" r="2.55"/>
<circle cx="658.4" cy="309.6" r="2.55"/>
<circle cx="658.9" cy="309.8" r="2.55"/>
<circle cx="659.5" cy="308.5" r="2.55"/>
<circle cx="660.0" cy="309.4" r="2.55"/>
<circle cx="660.6" cy="309.9" r="2.55"/>
<circle cx="661.1" cy="308.8" r="2.55"/>
<circle cx="661.7" cy="309.7" r="2.55"/>
<circle cx="662.2" cy="309.3" r="2.55"/>
<circle cx="662.8" cy="310.2" r="2.55"/>
<circle cx="663.3" cy="309.7" r="2.55"/>
<circle cx="663.9" cy="309.7" r="2.55"/>
<circle cx="664.4" cy="308.3" r="2.55"/>
<circle cx="665.0" cy="309.0" r="2.55"/>
<circle cx="665.5" cy="309.1" r="2.55"/>
<circle cx="666.1" cy="308.6" r="2.55"/>
<circle cx="666.6" cy="309.5" r="2.55"/>
<circle cx="667.2" cy="309.3" r="2.55"/>
<circle cx="667.7" cy="310.9" r="2.55"/>
<circle cx="668.3" cy="309.6" r="2.55"/>
<circle cx="668.8" cy="309.6" r="2.55"/>
<circle cx="669.4" cy="309.9" r="2.55"/>
<circle cx="669.9" cy="308.4" r="2.55"/>
<circle cx="670.5" cy="310.2" r="2.55"/>
<circle cx="671.0" cy="310.8" r="2.55"/>
<circle cx="671.6" cy="308.5" r="2.55"/>
<circle cx="672.1" cy="309.9" r="2.55"/>
<circle cx="672.7" cy="308.9" r="2.55"/>
<circle cx="673.2" cy="309.6" r="2.55"/>
<circle cx="673.8" cy="309.1" r="2.55"/>
<circle cx="674.3" cy="309.8" r="2.55"/>
<circle cx="674.9" cy="309.6" r="2.55"/>
<circle cx="675.4" cy="308.6" r="2.55"/>
<circle cx="676.0" cy="309.1" r="2.55"/>
<circle cx="676.5" cy="310.8" r="2.55"/>
<circle cx="677.1" cy="310.8" r="2.55"/>
<circle cx="677.6" cy="309.7" r="2.55"/>
</g><g fill="#d7301f" stroke="#1a0603" stroke-width="0.7">
<circle cx="409.0" cy="225.0" r="2.65"/>
<circle cx="409.3" cy="93.7" r="2.65"/>
<circle cx="409.7" cy="93.8" r="2.65"/>
<circle cx="410.1" cy="95.4" r="2.65"/>
<circle cx="410.5" cy="95.8" r="2.65"/>
<circle cx="410.9" cy="96.2" r="2.65"/>
<circle cx="411.3" cy="91.0" r="2.65"/>
<circle cx="411.7" cy="91.7" r="2.65"/>
<circle cx="412.1" cy="99.6" r="2.65"/>
<circle cx="412.5" cy="91.7" r="2.65"/>
<circle cx="412.9" cy="98.5" r="2.65"/>
<circle cx="413.3" cy="94.2" r="2.65"/>
<circle cx="413.7" cy="95.6" r="2.65"/>
<circle cx="414.1" cy="88.0" r="2.65"/>
<circle cx="414.5" cy="88.5" r="2.65"/>
<circle cx="414.9" cy="87.8" r="2.65"/>
<circle cx="415.3" cy="90.6" r="2.65"/>
<circle cx="415.7" cy="91.4" r="2.65"/>
<circle cx="416.1" cy="100.5" r="2.65"/>
<circle cx="416.5" cy="96.7" r="2.65"/>
<circle cx="416.9" cy="89.1" r="2.65"/>
<circle cx="417.3" cy="96.6" r="2.65"/>
<circle cx="417.7" cy="92.6" r="2.65"/>
<circle cx="418.1" cy="96.2" r="2.65"/>
<circle cx="418.5" cy="90.7" r="2.65"/>
<circle cx="418.9" cy="97.0" r="2.65"/>
<circle cx="419.3" cy="87.6" r="2.65"/>
<circle cx="419.7" cy="91.0" r="2.65"/>
<circle cx="420.1" cy="92.5" r="2.65"/>
<circle cx="420.5" cy="88.1" r="2.65"/>
<circle cx="420.9" cy="91.1" r="2.65"/>
<circle cx="421.3" cy="91.9" r="2.65"/>
<circle cx="421.7" cy="94.0" r="2.65"/>
<circle cx="422.1" cy="93.3" r="2.65"/>
<circle cx="422.5" cy="96.6" r="2.65"/>
<circle cx="422.9" cy="96.3" r="2.65"/>
<circle cx="423.3" cy="99.1" r="2.65"/>
<circle cx="423.7" cy="95.0" r="2.65"/>
<circle cx="424.1" cy="92.3" r="2.65"/>
<circle cx="424.5" cy="92.7" r="2.65"/>
<circle cx="424.9" cy="93.3" r="2.65"/>
<circle cx="425.3" cy="90.1" r="2.65"/>
<circle cx="425.7" cy="90.8" r="2.65"/>
<circle cx="426.1" cy="88.8" r="2.65"/>
<circle cx="426.5" cy="93.6" r="2.65"/>
<circle cx="426.9" cy="85.8" r="2.65"/>
<circle cx="427.3" cy="91.4" r="2.65"/>
<circle cx="427.7" cy="92.4" r="2.65"/>
<circle cx="428.1" cy="85.0" r="2.65"/>
<circle cx="428.5" cy="91.7" r="2.65"/>
<circle cx="428.9" cy="97.7" r="2.65"/>
<circle cx="429.3" cy="93.8" r="2.65"/>
<circle cx="429.7" cy="87.6" r="2.65"/>
<circle cx="430.1" cy="94.0" r="2.65"/>
<circle cx="430.5" cy="94.6" r="2.65"/>
<circle cx="430.9" cy="87.9" r="2.65"/>
<circle cx="431.3" cy="91.3" r="2.65"/>
<circle cx="431.7" cy="90.5" r="2.65"/>
<circle cx="432.1" cy="94.4" r="2.65"/>
<circle cx="432.5" cy="97.8" r="2.65"/>
<circle cx="432.9" cy="90.0" r="2.65"/>
<circle cx="433.3" cy="88.2" r="2.65"/>
<circle cx="433.7" cy="86.4" r="2.65"/>
<circle cx="434.1" cy="94.7" r="2.65"/>
<circle cx="434.5" cy="88.6" r="2.65"/>
<circle cx="434.9" cy="92.4" r="2.65"/>
<circle cx="435.3" cy="97.1" r="2.65"/>
<circle cx="435.7" cy="97.2" r="2.65"/>
<circle cx="436.1" cy="94.7" r="2.65"/>
<circle cx="436.5" cy="88.2" r="2.65"/>
<circle cx="436.9" cy="92.1" r="2.65"/>
<circle cx="437.3" cy="87.5" r="2.65"/>
<circle cx="437.7" cy="92.2" r="2.65"/>
<circle cx="438.1" cy="88.0" r="2.65"/>
<circle cx="438.5" cy="89.0" r="2.65"/>
<circle cx="438.9" cy="96.8" r="2.65"/>
<circle cx="439.3" cy="96.5" r="2.65"/>
<circle cx="439.7" cy="86.7" r="2.65"/>
<circle cx="440.1" cy="96.3" r="2.65"/>
<circle cx="440.5" cy="87.6" r="2.65"/>
<circle cx="440.9" cy="91.9" r="2.65"/>
<circle cx="441.3" cy="99.3" r="2.65"/>
<circle cx="441.7" cy="97.9" r="2.65"/>
<circle cx="442.1" cy="92.5" r="2.65"/>
<circle cx="442.5" cy="95.0" r="2.65"/>
<circle cx="442.9" cy="91.3" r="2.65"/>
<circle cx="443.3" cy="98.5" r="2.65"/>
<circle cx="443.7" cy="87.4" r="2.65"/>
<circle cx="444.1" cy="88.9" r="2.65"/>
<circle cx="444.5" cy="88.8" r="2.65"/>
<circle cx="444.9" cy="95.4" r="2.65"/>
<circle cx="445.3" cy="91.9" r="2.65"/>
<circle cx="445.7" cy="97.6" r="2.65"/>
<circle cx="446.1" cy="89.5" r="2.65"/>
<circle cx="446.5" cy="95.6" r="2.65"/>
<circle cx="446.9" cy="95.4" r="2.65"/>
<circle cx="447.3" cy="95.0" r="2.65"/>
<circle cx="447.7" cy="86.7" r="2.65"/>
<circle cx="448.1" cy="89.3" r="2.65"/>
<circle cx="448.5" cy="86.8" r="2.65"/>
<circle cx="448.9" cy="92.8" r="2.65"/>
<circle cx="449.3" cy="95.7" r="2.65"/>
<circle cx="449.7" cy="87.5" r="2.65"/>
<circle cx="450.1" cy="91.4" r="2.65"/>
<circle cx="450.5" cy="86.0" r="2.65"/>
<circle cx="450.9" cy="95.1" r="2.65"/>
<circle cx="451.3" cy="89.7" r="2.65"/>
<circle cx="451.7" cy="95.7" r="2.65"/>
<circle cx="452.1" cy="95.0" r="2.65"/>
<circle cx="452.5" cy="87.8" r="2.65"/>
<circle cx="452.9" cy="95.2" r="2.65"/>
<circle cx="453.3" cy="93.6" r="2.65"/>
<circle cx="453.7" cy="91.1" r="2.65"/>
<circle cx="454.1" cy="94.7" r="2.65"/>
<circle cx="454.5" cy="91.3" r="2.65"/>
<circle cx="454.9" cy="89.3" r="2.65"/>
<circle cx="455.3" cy="94.1" r="2.65"/>
<circle cx="455.7" cy="95.6" r="2.65"/>
<circle cx="456.1" cy="97.8" r="2.65"/>
<circle cx="456.5" cy="92.8" r="2.65"/>
<circle cx="456.9" cy="96.7" r="2.65"/>
<circle cx="457.3" cy="89.2" r="2.65"/>
<circle cx="457.7" cy="98.3" r="2.65"/>
<circle cx="458.1" cy="87.5" r="2.65"/>
<circle cx="458.5" cy="96.8" r="2.65"/>
<circle cx="458.9" cy="97.3" r="2.65"/>
<circle cx="459.3" cy="90.3" r="2.65"/>
<circle cx="459.7" cy="97.9" r="2.65"/>
<circle cx="460.1" cy="97.4" r="2.65"/>
<circle cx="460.5" cy="87.7" r="2.65"/>
<circle cx="460.9" cy="95.1" r="2.65"/>
<circle cx="461.3" cy="87.3" r="2.65"/>
<circle cx="461.7" cy="92.1" r="2.65"/>
<circle cx="462.1" cy="87.7" r="2.65"/>
<circle cx="462.5" cy="92.9" r="2.65"/>
<circle cx="462.9" cy="86.1" r="2.65"/>
<circle cx="463.3" cy="92.4" r="2.65"/>
<circle cx="463.7" cy="95.8" r="2.65"/>
<circle cx="464.1" cy="90.7" r="2.65"/>
<circle cx="464.5" cy="97.5" r="2.65"/>
<circle cx="464.9" cy="94.5" r="2.65"/>
<circle cx="465.3" cy="88.7" r="2.65"/>
<circle cx="465.7" cy="96.2" r="2.65"/>
<circle cx="466.1" cy="87.2" r="2.65"/>
<circle cx="466.5" cy="92.5" r="2.65"/>
<circle cx="466.9" cy="97.8" r="2.65"/>
<circle cx="467.3" cy="97.6" r="2.65"/>
<circle cx="467.7" cy="94.3" r="2.65"/>
<circle cx="468.1" cy="89.4" r="2.65"/>
<circle cx="468.5" cy="92.7" r="2.65"/>
<circle cx="468.9" cy="90.5" r="2.65"/>
<circle cx="469.3" cy="90.2" r="2.65"/>
<circle cx="469.7" cy="90.8" r="2.65"/>
<circle cx="470.1" cy="90.0" r="2.65"/>
<circle cx="470.5" cy="88.1" r="2.65"/>
<circle cx="470.9" cy="94.8" r="2.65"/>
<circle cx="471.3" cy="84.7" r="2.65"/>
<circle cx="471.7" cy="92.4" r="2.65"/>
<circle cx="472.1" cy="91.3" r="2.65"/>
<circle cx="472.5" cy="91.3" r="2.65"/>
<circle cx="472.9" cy="92.9" r="2.65"/>
<circle cx="473.3" cy="92.8" r="2.65"/>
<circle cx="473.7" cy="95.1" r="2.65"/>
<circle cx="474.1" cy="92.0" r="2.65"/>
<circle cx="474.5" cy="99.2" r="2.65"/>
<circle cx="474.9" cy="95.2" r="2.65"/>
<circle cx="475.3" cy="96.6" r="2.65"/>
<circle cx="475.7" cy="98.3" r="2.65"/>
<circle cx="476.1" cy="96.5" r="2.65"/>
<circle cx="476.5" cy="89.2" r="2.65"/>
<circle cx="476.9" cy="95.6" r="2.65"/>
<circle cx="477.3" cy="86.5" r="2.65"/>
<circle cx="477.7" cy="94.8" r="2.65"/>
<circle cx="478.1" cy="92.9" r="2.65"/>
<circle cx="478.5" cy="96.3" r="2.65"/>
<circle cx="478.9" cy="86.1" r="2.65"/>
<circle cx="479.3" cy="88.2" r="2.65"/>
<circle cx="479.7" cy="95.5" r="2.65"/>
<circle cx="480.1" cy="95.4" r="2.65"/>
<circle cx="480.5" cy="87.2" r="2.65"/>
<circle cx="480.9" cy="88.9" r="2.65"/>
<circle cx="481.3" cy="89.4" r="2.65"/>
<circle cx="481.7" cy="91.8" r="2.65"/>
<circle cx="482.1" cy="86.9" r="2.65"/>
<circle cx="482.5" cy="88.1" r="2.65"/>
<circle cx="482.9" cy="89.1" r="2.65"/>
<circle cx="483.3" cy="87.0" r="2.65"/>
<circle cx="483.7" cy="88.3" r="2.65"/>
<circle cx="484.1" cy="86.0" r="2.65"/>
<circle cx="484.5" cy="90.3" r="2.65"/>
<circle cx="484.9" cy="95.9" r="2.65"/>
<circle cx="485.3" cy="94.2" r="2.65"/>
<circle cx="485.7" cy="92.3" r="2.65"/>
<circle cx="486.1" cy="91.3" r="2.65"/>
<circle cx="486.5" cy="88.0" r="2.65"/>
<circle cx="486.9" cy="87.2" r="2.65"/>
<circle cx="487.3" cy="89.0" r="2.65"/>
<circle cx="487.7" cy="97.8" r="2.65"/>
<circle cx="488.1" cy="95.3" r="2.65"/>
<circle cx="488.5" cy="93.3" r="2.65"/>
<circle cx="488.9" cy="92.1" r="2.65"/>
<circle cx="489.3" cy="91.9" r="2.65"/>
<circle cx="489.7" cy="96.1" r="2.65"/>
<circle cx="490.1" cy="87.5" r="2.65"/>
<circle cx="490.5" cy="94.8" r="2.65"/>
<circle cx="490.9" cy="92.7" r="2.65"/>
<circle cx="491.3" cy="90.6" r="2.65"/>
<circle cx="491.7" cy="88.5" r="2.65"/>
<circle cx="492.1" cy="89.0" r="2.65"/>
<circle cx="492.5" cy="92.4" r="2.65"/>
<circle cx="492.9" cy="96.4" r="2.65"/>
<circle cx="493.3" cy="93.9" r="2.65"/>
<circle cx="493.7" cy="89.1" r="2.65"/>
<circle cx="494.1" cy="88.5" r="2.65"/>
<circle cx="494.5" cy="90.8" r="2.65"/>
<circle cx="494.9" cy="90.7" r="2.65"/>
<circle cx="495.3" cy="88.6" r="2.65"/>
<circle cx="495.7" cy="95.5" r="2.65"/>
<circle cx="496.1" cy="90.1" r="2.65"/>
<circle cx="496.5" cy="93.3" r="2.65"/>
<circle cx="496.9" cy="89.9" r="2.65"/>
<circle cx="497.3" cy="97.0" r="2.65"/>
<circle cx="497.7" cy="95.9" r="2.65"/>
<circle cx="498.1" cy="86.0" r="2.65"/>
<circle cx="498.5" cy="95.9" r="2.65"/>
<circle cx="498.9" cy="90.5" r="2.65"/>
<circle cx="499.3" cy="92.1" r="2.65"/>
<circle cx="499.7" cy="88.8" r="2.65"/>
<circle cx="500.1" cy="92.1" r="2.65"/>
<circle cx="500.5" cy="89.6" r="2.65"/>
<circle cx="500.9" cy="89.0" r="2.65"/>
<circle cx="501.3" cy="88.4" r="2.65"/>
<circle cx="501.7" cy="97.3" r="2.65"/>
<circle cx="502.1" cy="88.4" r="2.65"/>
<circle cx="502.5" cy="90.7" r="2.65"/>
<circle cx="502.9" cy="90.1" r="2.65"/>
<circle cx="503.3" cy="88.5" r="2.65"/>
<circle cx="503.7" cy="88.5" r="2.65"/>
<circle cx="504.1" cy="91.8" r="2.65"/>
<circle cx="504.5" cy="93.5" r="2.65"/>
<circle cx="504.9" cy="93.1" r="2.65"/>
<circle cx="505.3" cy="89.7" r="2.65"/>
<circle cx="505.7" cy="93.5" r="2.65"/>
<circle cx="506.1" cy="94.2" r="2.65"/>
<circle cx="506.5" cy="89.9" r="2.65"/>
<circle cx="506.9" cy="90.3" r="2.65"/>
<circle cx="507.3" cy="95.1" r="2.65"/>
<circle cx="507.7" cy="90.8" r="2.65"/>
<circle cx="508.1" cy="96.3" r="2.65"/>
<circle cx="508.5" cy="84.8" r="2.65"/>
<circle cx="508.9" cy="90.2" r="2.65"/>
<circle cx="509.3" cy="89.6" r="2.65"/>
<circle cx="509.7" cy="88.2" r="2.65"/>
<circle cx="510.1" cy="94.8" r="2.65"/>
<circle cx="510.5" cy="87.0" r="2.65"/>
<circle cx="510.9" cy="96.4" r="2.65"/>
<circle cx="511.3" cy="95.5" r="2.65"/>
<circle cx="511.7" cy="95.8" r="2.65"/>
<circle cx="512.1" cy="90.7" r="2.65"/>
<circle cx="512.5" cy="88.6" r="2.65"/>
<circle cx="512.9" cy="87.2" r="2.65"/>
<circle cx="513.3" cy="91.1" r="2.65"/>
<circle cx="513.7" cy="96.2" r="2.65"/>
<circle cx="514.1" cy="95.9" r="2.65"/>
<circle cx="514.5" cy="86.5" r="2.65"/>
<circle cx="514.9" cy="86.2" r="2.65"/>
<circle cx="515.3" cy="95.1" r="2.65"/>
<circle cx="515.7" cy="92.9" r="2.65"/>
<circle cx="516.1" cy="88.3" r="2.65"/>
<circle cx="516.5" cy="91.5" r="2.65"/>
<circle cx="516.9" cy="87.9" r="2.65"/>
<circle cx="517.3" cy="90.2" r="2.65"/>
<circle cx="517.7" cy="88.4" r="2.65"/>
<circle cx="518.1" cy="99.2" r="2.65"/>
<circle cx="518.5" cy="92.3" r="2.65"/>
<circle cx="518.9" cy="96.3" r="2.65"/>
<circle cx="519.3" cy="88.3" r="2.65"/>
<circle cx="519.7" cy="91.1" r="2.65"/>
<circle cx="520.1" cy="95.1" r="2.65"/>
<circle cx="520.5" cy="94.8" r="2.65"/>
<circle cx="520.9" cy="96.7" r="2.65"/>
<circle cx="521.3" cy="88.9" r="2.65"/>
<circle cx="521.7" cy="88.5" r="2.65"/>
<circle cx="522.1" cy="89.9" r="2.65"/>
<circle cx="522.5" cy="89.4" r="2.65"/>
<circle cx="522.9" cy="94.2" r="2.65"/>
<circle cx="523.3" cy="91.3" r="2.65"/>
<circle cx="523.7" cy="89.0" r="2.65"/>
<circle cx="524.1" cy="94.8" r="2.65"/>
<circle cx="524.5" cy="95.1" r="2.65"/>
<circle cx="524.9" cy="91.9" r="2.65"/>
<circle cx="525.3" cy="86.4" r="2.65"/>
<circle cx="525.7" cy="94.4" r="2.65"/>
<circle cx="526.1" cy="89.3" r="2.65"/>
<circle cx="526.5" cy="96.6" r="2.65"/>
<circle cx="526.9" cy="90.1" r="2.65"/>
<circle cx="527.3" cy="88.6" r="2.65"/>
<circle cx="527.7" cy="94.0" r="2.65"/>
<circle cx="528.1" cy="96.1" r="2.65"/>
<circle cx="528.5" cy="91.1" r="2.65"/>
<circle cx="528.9" cy="90.0" r="2.65"/>
<circle cx="529.3" cy="90.5" r="2.65"/>
<circle cx="529.7" cy="88.4" r="2.65"/>
<circle cx="530.1" cy="89.3" r="2.65"/>
<circle cx="530.5" cy="96.6" r="2.65"/>
<circle cx="530.9" cy="98.3" r="2.65"/>
<circle cx="531.3" cy="89.4" r="2.65"/>
<circle cx="531.7" cy="98.7" r="2.65"/>
<circle cx="532.1" cy="83.8" r="2.65"/>
<circle cx="532.5" cy="95.5" r="2.65"/>
<circle cx="532.9" cy="87.4" r="2.65"/>
<circle cx="533.3" cy="89.6" r="2.65"/>
<circle cx="533.7" cy="89.7" r="2.65"/>
<circle cx="534.1" cy="92.6" r="2.65"/>
<circle cx="534.5" cy="96.1" r="2.65"/>
<circle cx="534.9" cy="89.8" r="2.65"/>
<circle cx="535.3" cy="87.4" r="2.65"/>
<circle cx="535.7" cy="87.4" r="2.65"/>
<circle cx="536.1" cy="95.8" r="2.65"/>
<circle cx="536.5" cy="87.0" r="2.65"/>
<circle cx="536.9" cy="87.5" r="2.65"/>
<circle cx="537.3" cy="90.1" r="2.65"/>
<circle cx="537.7" cy="98.2" r="2.65"/>
<circle cx="538.1" cy="89.0" r="2.65"/>
<circle cx="538.5" cy="89.0" r="2.65"/>
<circle cx="538.9" cy="94.2" r="2.65"/>
<circle cx="539.3" cy="89.8" r="2.65"/>
<circle cx="539.7" cy="94.6" r="2.65"/>
<circle cx="540.1" cy="96.0" r="2.65"/>
<circle cx="540.5" cy="96.8" r="2.65"/>
<circle cx="540.9" cy="91.9" r="2.65"/>
<circle cx="541.3" cy="100.0" r="2.65"/>
<circle cx="541.7" cy="92.3" r="2.65"/>
<circle cx="542.1" cy="90.2" r="2.65"/>
<circle cx="542.5" cy="96.5" r="2.65"/>
<circle cx="542.9" cy="98.0" r="2.65"/>
<circle cx="543.3" cy="95.5" r="2.65"/>
<circle cx="543.7" cy="92.0" r="2.65"/>
<circle cx="544.1" cy="90.1" r="2.65"/>
<circle cx="544.5" cy="87.2" r="2.65"/>
<circle cx="544.9" cy="90.1" r="2.65"/>
<circle cx="545.3" cy="95.2" r="2.65"/>
<circle cx="545.7" cy="91.0" r="2.65"/>
<circle cx="546.1" cy="95.3" r="2.65"/>
<circle cx="546.5" cy="95.2" r="2.65"/>
<circle cx="546.9" cy="94.0" r="2.65"/>
<circle cx="547.3" cy="94.8" r="2.65"/>
<circle cx="547.7" cy="90.7" r="2.65"/>
<circle cx="548.1" cy="95.7" r="2.65"/>
<circle cx="548.5" cy="90.3" r="2.65"/>
<circle cx="548.9" cy="90.8" r="2.65"/>
<circle cx="549.3" cy="94.4" r="2.65"/>
<circle cx="549.7" cy="85.2" r="2.65"/>
<circle cx="550.1" cy="98.0" r="2.65"/>
<circle cx="550.5" cy="97.4" r="2.65"/>
<circle cx="550.9" cy="97.8" r="2.65"/>
<circle cx="551.3" cy="94.6" r="2.65"/>
<circle cx="551.7" cy="91.5" r="2.65"/>
<circle cx="552.1" cy="92.4" r="2.65"/>
<circle cx="552.5" cy="93.0" r="2.65"/>
<circle cx="552.9" cy="88.4" r="2.65"/>
<circle cx="553.3" cy="94.7" r="2.65"/>
<circle cx="553.7" cy="98.6" r="2.65"/>
<circle cx="554.1" cy="91.8" r="2.65"/>
<circle cx="554.5" cy="96.3" r="2.65"/>
<circle cx="554.9" cy="89.5" r="2.65"/>
<circle cx="555.3" cy="96.3" r="2.65"/>
<circle cx="555.7" cy="97.0" r="2.65"/>
<circle cx="556.1" cy="95.1" r="2.65"/>
<circle cx="556.5" cy="99.1" r="2.65"/>
<circle cx="556.9" cy="94.4" r="2.65"/>
<circle cx="557.3" cy="92.9" r="2.65"/>
<circle cx="557.7" cy="92.0" r="2.65"/>
<circle cx="558.1" cy="85.4" r="2.65"/>
<circle cx="558.5" cy="87.2" r="2.65"/>
<circle cx="558.9" cy="97.5" r="2.65"/>
<circle cx="559.3" cy="91.3" r="2.65"/>
<circle cx="559.7" cy="94.9" r="2.65"/>
<circle cx="560.1" cy="87.0" r="2.65"/>
<circle cx="560.5" cy="96.2" r="2.65"/>
<circle cx="560.9" cy="94.9" r="2.65"/>
<circle cx="561.3" cy="92.8" r="2.65"/>
<circle cx="561.7" cy="88.7" r="2.65"/>
<circle cx="562.1" cy="95.9" r="2.65"/>
<circle cx="562.5" cy="90.3" r="2.65"/>
<circle cx="562.9" cy="94.5" r="2.65"/>
<circle cx="563.3" cy="89.2" r="2.65"/>
<circle cx="563.7" cy="89.7" r="2.65"/>
<circle cx="564.1" cy="96.4" r="2.65"/>
<circle cx="564.5" cy="96.7" r="2.65"/>
<circle cx="564.9" cy="96.3" r="2.65"/>
<circle cx="565.3" cy="90.2" r="2.65"/>
<circle cx="565.7" cy="95.2" r="2.65"/>
<circle cx="566.1" cy="96.5" r="2.65"/>
<circle cx="566.5" cy="92.9" r="2.65"/>
<circle cx="566.9" cy="85.9" r="2.65"/>
<circle cx="567.3" cy="88.5" r="2.65"/>
<circle cx="567.7" cy="85.5" r="2.65"/>
<circle cx="568.1" cy="88.5" r="2.65"/>
<circle cx="568.5" cy="86.5" r="2.65"/>
<circle cx="568.9" cy="92.2" r="2.65"/>
<circle cx="569.3" cy="93.1" r="2.65"/>
<circle cx="569.7" cy="95.7" r="2.65"/>
<circle cx="570.1" cy="88.8" r="2.65"/>
<circle cx="570.5" cy="87.0" r="2.65"/>
<circle cx="570.9" cy="97.9" r="2.65"/>
<circle cx="571.3" cy="100.7" r="2.65"/>
<circle cx="571.7" cy="96.3" r="2.65"/>
<circle cx="572.1" cy="85.5" r="2.65"/>
<circle cx="572.5" cy="93.7" r="2.65"/>
<circle cx="572.9" cy="94.3" r="2.65"/>
<circle cx="573.3" cy="91.8" r="2.65"/>
<circle cx="573.7" cy="88.7" r="2.65"/>
<circle cx="574.1" cy="95.2" r="2.65"/>
<circle cx="574.5" cy="92.3" r="2.65"/>
<circle cx="574.9" cy="88.0" r="2.65"/>
<circle cx="575.3" cy="92.4" r="2.65"/>
<circle cx="575.7" cy="94.7" r="2.65"/>
<circle cx="576.1" cy="88.5" r="2.65"/>
<circle cx="576.5" cy="96.0" r="2.65"/>
<circle cx="576.9" cy="90.2" r="2.65"/>
<circle cx="577.3" cy="92.0" r="2.65"/>
<circle cx="577.7" cy="88.9" r="2.65"/>
<circle cx="578.1" cy="88.4" r="2.65"/>
<circle cx="578.5" cy="97.9" r="2.65"/>
<circle cx="578.9" cy="89.5" r="2.65"/>
<circle cx="579.3" cy="93.6" r="2.65"/>
<circle cx="579.7" cy="97.4" r="2.65"/>
<circle cx="580.1" cy="90.2" r="2.65"/>
<circle cx="580.5" cy="87.7" r="2.65"/>
<circle cx="580.9" cy="92.6" r="2.65"/>
<circle cx="581.3" cy="88.4" r="2.65"/>
<circle cx="581.7" cy="96.1" r="2.65"/>
<circle cx="582.1" cy="87.1" r="2.65"/>
<circle cx="582.5" cy="93.7" r="2.65"/>
<circle cx="582.9" cy="86.1" r="2.65"/>
<circle cx="583.3" cy="89.0" r="2.65"/>
<circle cx="583.7" cy="90.1" r="2.65"/>
<circle cx="584.1" cy="94.8" r="2.65"/>
<circle cx="584.5" cy="93.3" r="2.65"/>
<circle cx="584.9" cy="93.3" r="2.65"/>
<circle cx="585.3" cy="89.4" r="2.65"/>
<circle cx="585.7" cy="90.5" r="2.65"/>
<circle cx="586.1" cy="96.0" r="2.65"/>
<circle cx="586.5" cy="94.6" r="2.65"/>
<circle cx="587.1" cy="95.3" r="2.65"/>
<circle cx="587.4" cy="92.2" r="2.65"/>
<circle cx="587.5" cy="91.7" r="2.65"/>
<circle cx="587.9" cy="97.9" r="2.65"/>
<circle cx="587.5" cy="92.8" r="2.65"/>
<circle cx="588.1" cy="91.3" r="2.65"/>
<circle cx="588.8" cy="95.5" r="2.65"/>
<circle cx="588.6" cy="89.5" r="2.65"/>
<circle cx="588.9" cy="94.6" r="2.65"/>
<circle cx="589.2" cy="96.4" r="2.65"/>
<circle cx="590.0" cy="93.3" r="2.65"/>
<circle cx="589.0" cy="95.9" r="2.65"/>
<circle cx="590.1" cy="95.6" r="2.65"/>
<circle cx="589.8" cy="91.8" r="2.65"/>
<circle cx="589.6" cy="92.2" r="2.65"/>
<circle cx="589.4" cy="97.3" r="2.65"/>
<circle cx="590.9" cy="95.7" r="2.65"/>
<circle cx="590.1" cy="96.1" r="2.65"/>
<circle cx="591.2" cy="99.2" r="2.65"/>
<circle cx="591.1" cy="103.1" r="2.65"/>
<circle cx="591.2" cy="100.2" r="2.65"/>
<circle cx="592.8" cy="98.7" r="2.65"/>
<circle cx="590.7" cy="103.0" r="2.65"/>
<circle cx="592.3" cy="106.7" r="2.65"/>
<circle cx="592.1" cy="105.2" r="2.65"/>
<circle cx="591.5" cy="105.1" r="2.65"/>
<circle cx="592.5" cy="101.1" r="2.65"/>
<circle cx="594.1" cy="107.8" r="2.65"/>
<circle cx="592.3" cy="108.0" r="2.65"/>
<circle cx="594.0" cy="104.2" r="2.65"/>
<circle cx="593.0" cy="109.0" r="2.65"/>
<circle cx="594.0" cy="111.3" r="2.65"/>
<circle cx="594.3" cy="110.1" r="2.65"/>
<circle cx="593.1" cy="112.4" r="2.65"/>
<circle cx="595.5" cy="116.5" r="2.65"/>
<circle cx="594.4" cy="116.1" r="2.65"/>
<circle cx="594.1" cy="116.5" r="2.65"/>
<circle cx="594.3" cy="115.5" r="2.65"/>
<circle cx="596.9" cy="117.1" r="2.65"/>
<circle cx="597.0" cy="122.6" r="2.65"/>
<circle cx="595.8" cy="120.6" r="2.65"/>
<circle cx="595.4" cy="123.0" r="2.65"/>
<circle cx="596.9" cy="119.6" r="2.65"/>
<circle cx="595.2" cy="123.5" r="2.65"/>
<circle cx="597.8" cy="126.1" r="2.65"/>
<circle cx="595.5" cy="128.8" r="2.65"/>
<circle cx="595.8" cy="131.3" r="2.65"/>
<circle cx="596.9" cy="126.3" r="2.65"/>
<circle cx="597.5" cy="128.5" r="2.65"/>
<circle cx="596.4" cy="127.9" r="2.65"/>
<circle cx="597.4" cy="128.8" r="2.65"/>
<circle cx="599.8" cy="130.8" r="2.65"/>
<circle cx="599.3" cy="135.0" r="2.65"/>
<circle cx="597.4" cy="134.2" r="2.65"/>
<circle cx="600.1" cy="132.5" r="2.65"/>
<circle cx="599.1" cy="135.6" r="2.65"/>
<circle cx="600.9" cy="131.1" r="2.65"/>
<circle cx="599.1" cy="133.1" r="2.65"/>
<circle cx="599.3" cy="137.2" r="2.65"/>
<circle cx="600.6" cy="134.7" r="2.65"/>
<circle cx="600.2" cy="133.8" r="2.65"/>
<circle cx="599.8" cy="139.0" r="2.65"/>
<circle cx="600.8" cy="139.9" r="2.65"/>
<circle cx="601.4" cy="135.5" r="2.65"/>
<circle cx="600.6" cy="139.0" r="2.65"/>
<circle cx="602.4" cy="143.1" r="2.65"/>
<circle cx="602.3" cy="142.0" r="2.65"/>
<circle cx="602.6" cy="142.2" r="2.65"/>
<circle cx="602.5" cy="147.3" r="2.65"/>
<circle cx="601.5" cy="145.8" r="2.65"/>
<circle cx="603.1" cy="148.2" r="2.65"/>
<circle cx="601.7" cy="146.2" r="2.65"/>
<circle cx="601.8" cy="148.4" r="2.65"/>
<circle cx="603.2" cy="147.4" r="2.65"/>
<circle cx="602.4" cy="146.0" r="2.65"/>
<circle cx="602.5" cy="151.2" r="2.65"/>
<circle cx="604.1" cy="148.1" r="2.65"/>
<circle cx="605.4" cy="149.7" r="2.65"/>
<circle cx="602.9" cy="150.0" r="2.65"/>
<circle cx="604.3" cy="153.8" r="2.65"/>
<circle cx="603.5" cy="153.9" r="2.65"/>
<circle cx="605.0" cy="151.9" r="2.65"/>
<circle cx="605.3" cy="154.4" r="2.65"/>
<circle cx="605.3" cy="157.6" r="2.65"/>
<circle cx="604.2" cy="157.8" r="2.65"/>
<circle cx="606.4" cy="155.5" r="2.65"/>
<circle cx="606.0" cy="160.1" r="2.65"/>
<circle cx="606.4" cy="157.8" r="2.65"/>
<circle cx="606.9" cy="161.4" r="2.65"/>
<circle cx="607.9" cy="159.4" r="2.65"/>
<circle cx="606.7" cy="159.1" r="2.65"/>
<circle cx="608.3" cy="162.8" r="2.65"/>
<circle cx="606.3" cy="164.0" r="2.65"/>
<circle cx="607.4" cy="164.9" r="2.65"/>
<circle cx="606.8" cy="163.7" r="2.65"/>
<circle cx="607.6" cy="163.1" r="2.65"/>
<circle cx="609.4" cy="163.3" r="2.65"/>
<circle cx="609.8" cy="164.7" r="2.65"/>
<circle cx="608.6" cy="165.0" r="2.65"/>
<circle cx="608.2" cy="164.2" r="2.65"/>
<circle cx="608.5" cy="167.7" r="2.65"/>
<circle cx="610.5" cy="167.5" r="2.65"/>
<circle cx="609.3" cy="168.8" r="2.65"/>
<circle cx="608.8" cy="169.4" r="2.65"/>
<circle cx="611.0" cy="171.1" r="2.65"/>
<circle cx="610.2" cy="173.5" r="2.65"/>
<circle cx="610.2" cy="175.5" r="2.65"/>
<circle cx="611.8" cy="173.6" r="2.65"/>
<circle cx="611.6" cy="174.5" r="2.65"/>
<circle cx="609.6" cy="173.2" r="2.65"/>
<circle cx="612.7" cy="176.7" r="2.65"/>
<circle cx="611.4" cy="177.7" r="2.65"/>
<circle cx="610.8" cy="179.6" r="2.65"/>
<circle cx="613.2" cy="177.6" r="2.65"/>
<circle cx="611.9" cy="175.4" r="2.65"/>
<circle cx="612.9" cy="181.6" r="2.65"/>
<circle cx="613.4" cy="177.3" r="2.65"/>
<circle cx="611.9" cy="182.2" r="2.65"/>
<circle cx="614.5" cy="183.0" r="2.65"/>
<circle cx="613.4" cy="181.2" r="2.65"/>
<circle cx="612.2" cy="181.2" r="2.65"/>
<circle cx="613.8" cy="183.6" r="2.65"/>
<circle cx="612.5" cy="181.9" r="2.65"/>
<circle cx="615.6" cy="185.6" r="2.65"/>
<circle cx="614.9" cy="187.4" r="2.65"/>
<circle cx="614.2" cy="187.1" r="2.65"/>
<circle cx="615.7" cy="186.5" r="2.65"/>
<circle cx="615.9" cy="187.9" r="2.65"/>
<circle cx="615.8" cy="183.5" r="2.65"/>
<circle cx="614.7" cy="191.0" r="2.65"/>
<circle cx="614.5" cy="191.1" r="2.65"/>
<circle cx="617.0" cy="185.9" r="2.65"/>
<circle cx="617.3" cy="191.1" r="2.65"/>
<circle cx="615.9" cy="191.6" r="2.65"/>
<circle cx="616.2" cy="190.4" r="2.65"/>
<circle cx="616.5" cy="190.4" r="2.65"/>
<circle cx="616.3" cy="189.7" r="2.65"/>
<circle cx="618.5" cy="192.4" r="2.65"/>
<circle cx="617.5" cy="189.8" r="2.65"/>
<circle cx="618.3" cy="194.5" r="2.65"/>
<circle cx="618.2" cy="196.2" r="2.65"/>
<circle cx="616.9" cy="191.6" r="2.65"/>
<circle cx="617.0" cy="196.9" r="2.65"/>
<circle cx="617.5" cy="196.5" r="2.65"/>
<circle cx="618.8" cy="196.5" r="2.65"/>
<circle cx="619.4" cy="198.1" r="2.65"/>
<circle cx="620.7" cy="196.1" r="2.65"/>
<circle cx="620.6" cy="200.4" r="2.65"/>
<circle cx="620.4" cy="199.9" r="2.65"/>
<circle cx="619.5" cy="199.1" r="2.65"/>
<circle cx="619.6" cy="195.6" r="2.65"/>
<circle cx="620.9" cy="200.8" r="2.65"/>
<circle cx="620.1" cy="203.0" r="2.65"/>
<circle cx="621.5" cy="206.2" r="2.65"/>
<circle cx="621.6" cy="202.1" r="2.65"/>
<circle cx="620.0" cy="204.6" r="2.65"/>
<circle cx="622.3" cy="204.9" r="2.65"/>
<circle cx="620.4" cy="203.6" r="2.65"/>
<circle cx="621.3" cy="204.1" r="2.65"/>
<circle cx="623.5" cy="203.8" r="2.65"/>
<circle cx="622.7" cy="207.5" r="2.65"/>
<circle cx="623.6" cy="207.5" r="2.65"/>
<circle cx="624.0" cy="208.4" r="2.65"/>
<circle cx="622.2" cy="210.0" r="2.65"/>
<circle cx="624.0" cy="212.2" r="2.65"/>
<circle cx="623.0" cy="206.7" r="2.65"/>
<circle cx="622.3" cy="211.3" r="2.65"/>
<circle cx="622.6" cy="213.2" r="2.65"/>
<circle cx="622.9" cy="208.5" r="2.65"/>
<circle cx="624.7" cy="211.4" r="2.65"/>
<circle cx="624.9" cy="210.7" r="2.65"/>
<circle cx="625.7" cy="211.7" r="2.65"/>
<circle cx="624.3" cy="209.6" r="2.65"/>
<circle cx="625.9" cy="215.7" r="2.65"/>
<circle cx="624.7" cy="217.8" r="2.65"/>
<circle cx="625.0" cy="216.1" r="2.65"/>
<circle cx="626.3" cy="213.6" r="2.65"/>
<circle cx="625.7" cy="214.7" r="2.65"/>
<circle cx="627.7" cy="218.0" r="2.65"/>
<circle cx="625.9" cy="216.5" r="2.65"/>
<circle cx="626.0" cy="218.0" r="2.65"/>
<circle cx="627.9" cy="217.7" r="2.65"/>
<circle cx="628.1" cy="220.3" r="2.65"/>
<circle cx="626.4" cy="216.6" r="2.65"/>
<circle cx="627.1" cy="216.2" r="2.65"/>
<circle cx="627.8" cy="220.1" r="2.65"/>
<circle cx="626.9" cy="221.1" r="2.65"/>
<circle cx="627.9" cy="214.8" r="2.65"/>
<circle cx="629.1" cy="218.0" r="2.65"/>
<circle cx="629.3" cy="216.3" r="2.65"/>
<circle cx="628.0" cy="213.7" r="2.65"/>
<circle cx="628.6" cy="217.9" r="2.65"/>
<circle cx="628.8" cy="222.9" r="2.65"/>
<circle cx="630.0" cy="221.9" r="2.65"/>
<circle cx="628.9" cy="224.1" r="2.65"/>
<circle cx="631.1" cy="222.7" r="2.65"/>
<circle cx="629.3" cy="221.3" r="2.65"/>
<circle cx="630.5" cy="221.7" r="2.65"/>
<circle cx="631.1" cy="219.4" r="2.65"/>
<circle cx="631.9" cy="222.5" r="2.65"/>
<circle cx="631.3" cy="223.7" r="2.65"/>
<circle cx="632.1" cy="223.7" r="2.65"/>
<circle cx="631.6" cy="225.0" r="2.65"/>
<circle cx="631.2" cy="225.5" r="2.65"/>
<circle cx="631.8" cy="223.3" r="2.65"/>
<circle cx="632.4" cy="221.7" r="2.65"/>
<circle cx="632.5" cy="225.9" r="2.65"/>
<circle cx="633.2" cy="228.4" r="2.65"/>
<circle cx="632.9" cy="225.5" r="2.65"/>
<circle cx="632.8" cy="225.5" r="2.65"/>
<circle cx="633.3" cy="227.2" r="2.65"/>
<circle cx="633.5" cy="226.0" r="2.65"/>
<circle cx="632.8" cy="229.3" r="2.65"/>
<circle cx="633.6" cy="225.9" r="2.65"/>
<circle cx="634.3" cy="227.2" r="2.65"/>
<circle cx="634.8" cy="227.6" r="2.65"/>
<circle cx="634.5" cy="228.6" r="2.65"/>
<circle cx="635.2" cy="231.3" r="2.65"/>
<circle cx="635.0" cy="232.3" r="2.65"/>
<circle cx="635.0" cy="228.5" r="2.65"/>
<circle cx="635.1" cy="230.6" r="2.65"/>
<circle cx="636.2" cy="227.4" r="2.65"/>
<circle cx="636.6" cy="232.6" r="2.65"/>
<circle cx="636.5" cy="230.7" r="2.65"/>
<circle cx="635.9" cy="228.5" r="2.65"/>
<circle cx="636.9" cy="229.6" r="2.65"/>
<circle cx="636.8" cy="233.6" r="2.65"/>
<circle cx="637.6" cy="231.0" r="2.65"/>
<circle cx="636.6" cy="235.1" r="2.65"/>
<circle cx="637.8" cy="232.5" r="2.65"/>
<circle cx="637.6" cy="230.5" r="2.65"/>
<circle cx="638.4" cy="234.3" r="2.65"/>
<circle cx="638.3" cy="233.8" r="2.65"/>
<circle cx="637.7" cy="231.4" r="2.65"/>
<circle cx="638.8" cy="237.1" r="2.65"/>
<circle cx="638.8" cy="235.3" r="2.65"/>
<circle cx="638.7" cy="237.1" r="2.65"/>
<circle cx="638.8" cy="236.4" r="2.65"/>
<circle cx="639.3" cy="233.0" r="2.65"/>
<circle cx="639.7" cy="237.3" r="2.65"/>
<circle cx="639.9" cy="231.6" r="2.65"/>
<circle cx="639.6" cy="233.5" r="2.65"/>
<circle cx="640.1" cy="236.6" r="2.65"/>
<circle cx="641.1" cy="233.6" r="2.65"/>
<circle cx="641.3" cy="238.7" r="2.65"/>
<circle cx="641.9" cy="237.0" r="2.65"/>
<circle cx="642.0" cy="235.8" r="2.65"/>
<circle cx="642.3" cy="236.5" r="2.65"/>
<circle cx="643.2" cy="238.9" r="2.65"/>
<circle cx="643.0" cy="235.9" r="2.65"/>
<circle cx="643.3" cy="240.3" r="2.65"/>
<circle cx="644.0" cy="238.2" r="2.65"/>
<circle cx="644.5" cy="240.2" r="2.65"/>
<circle cx="644.6" cy="241.8" r="2.65"/>
<circle cx="645.8" cy="244.5" r="2.65"/>
<circle cx="645.4" cy="243.6" r="2.65"/>
<circle cx="645.7" cy="245.8" r="2.65"/>
<circle cx="646.7" cy="242.7" r="2.65"/>
<circle cx="646.5" cy="241.4" r="2.65"/>
<circle cx="647.1" cy="244.2" r="2.65"/>
<circle cx="647.6" cy="242.5" r="2.65"/>
<circle cx="647.9" cy="244.4" r="2.65"/>
<circle cx="648.7" cy="243.5" r="2.65"/>
<circle cx="648.5" cy="245.8" r="2.65"/>
<circle cx="649.4" cy="244.6" r="2.65"/>
<circle cx="649.3" cy="251.7" r="2.65"/>
<circle cx="650.2" cy="246.4" r="2.65"/>
<circle cx="651.0" cy="248.2" r="2.65"/>
<circle cx="651.2" cy="249.1" r="2.65"/>
<circle cx="651.7" cy="246.2" r="2.65"/>
<circle cx="651.7" cy="248.3" r="2.65"/>
<circle cx="651.8" cy="251.0" r="2.65"/>
<circle cx="652.4" cy="246.2" r="2.65"/>
<circle cx="653.2" cy="248.7" r="2.65"/>
<circle cx="652.9" cy="246.6" r="2.65"/>
<circle cx="653.9" cy="245.6" r="2.65"/>
<circle cx="653.9" cy="249.0" r="2.65"/>
<circle cx="654.9" cy="251.3" r="2.65"/>
<circle cx="654.8" cy="251.6" r="2.65"/>
<circle cx="655.1" cy="249.0" r="2.65"/>
<circle cx="655.5" cy="250.6" r="2.65"/>
<circle cx="656.1" cy="251.3" r="2.65"/>
<circle cx="657.0" cy="249.9" r="2.65"/>
<circle cx="656.9" cy="249.0" r="2.65"/>
<circle cx="657.5" cy="247.2" r="2.65"/>
<circle cx="657.7" cy="252.0" r="2.65"/>
<circle cx="657.7" cy="250.4" r="2.65"/>
<circle cx="658.6" cy="250.9" r="2.65"/>
<circle cx="659.0" cy="251.9" r="2.65"/>
<circle cx="659.4" cy="250.3" r="2.65"/>
<circle cx="659.5" cy="253.1" r="2.65"/>
<circle cx="659.9" cy="251.1" r="2.65"/>
<circle cx="660.3" cy="251.9" r="2.65"/>
<circle cx="660.4" cy="251.3" r="2.65"/>
<circle cx="661.0" cy="251.8" r="2.65"/>
<circle cx="661.5" cy="252.4" r="2.65"/>
<circle cx="662.1" cy="252.5" r="2.65"/>
<circle cx="662.9" cy="251.7" r="2.65"/>
<circle cx="663.1" cy="254.3" r="2.65"/>
<circle cx="663.3" cy="251.9" r="2.65"/>
<circle cx="663.9" cy="251.4" r="2.65"/>
<circle cx="664.0" cy="255.5" r="2.65"/>
<circle cx="664.0" cy="253.4" r="2.65"/>
<circle cx="665.1" cy="255.6" r="2.65"/>
<circle cx="665.5" cy="250.9" r="2.65"/>
<circle cx="665.9" cy="258.9" r="2.65"/>
<circle cx="666.5" cy="252.2" r="2.65"/>
<circle cx="666.8" cy="253.2" r="2.65"/>
<circle cx="667.2" cy="255.0" r="2.65"/>
<circle cx="666.8" cy="256.1" r="2.65"/>
<circle cx="668.2" cy="254.5" r="2.65"/>
<circle cx="668.2" cy="257.1" r="2.65"/>
<circle cx="668.6" cy="258.5" r="2.65"/>
<circle cx="669.0" cy="254.8" r="2.65"/>
<circle cx="669.1" cy="256.9" r="2.65"/>
<circle cx="669.5" cy="257.1" r="2.65"/>
<circle cx="670.5" cy="256.4" r="2.65"/>
<circle cx="670.6" cy="255.7" r="2.65"/>
<circle cx="671.4" cy="261.0" r="2.65"/>
<circle cx="671.0" cy="255.1" r="2.65"/>
<circle cx="671.8" cy="261.0" r="2.65"/>
<circle cx="672.2" cy="260.8" r="2.65"/>
<circle cx="672.0" cy="258.5" r="2.65"/>
<circle cx="673.0" cy="260.1" r="2.65"/>
<circle cx="673.2" cy="258.5" r="2.65"/>
<circle cx="673.6" cy="259.1" r="2.65"/>
<circle cx="673.8" cy="259.5" r="2.65"/>
<circle cx="674.6" cy="258.7" r="2.65"/>
<circle cx="675.1" cy="263.7" r="2.65"/>
<circle cx="675.7" cy="254.7" r="2.65"/>
<circle cx="676.0" cy="264.9" r="2.65"/>
<circle cx="676.6" cy="257.7" r="2.65"/>
<circle cx="677.0" cy="260.3" r="2.65"/>
<circle cx="677.1" cy="259.8" r="2.65"/>
<circle cx="677.1" cy="264.0" r="2.65"/>
<circle cx="677.7" cy="264.5" r="2.65"/>
</g></g>
<rect x="409" y="47.5" width="268" height="267.8" fill="none" stroke="#4a4a4a" stroke-width="1.15"/>
<line x1="403.3" y1="315.30" x2="409" y2="315.30" stroke="#3a3a3a" stroke-width="1.15"/>
<text x="397.8" y="319.00" class="tk" text-anchor="end">0.0</text>
<line x1="403.3" y1="248.38" x2="409" y2="248.38" stroke="#3a3a3a" stroke-width="1.15"/>
<text x="397.8" y="252.07" class="tk" text-anchor="end">0.1</text>
<line x1="403.3" y1="181.45" x2="409" y2="181.45" stroke="#3a3a3a" stroke-width="1.15"/>
<text x="397.8" y="185.15" class="tk" text-anchor="end">0.2</text>
<line x1="403.3" y1="114.52" x2="409" y2="114.52" stroke="#3a3a3a" stroke-width="1.15"/>
<text x="397.8" y="118.22" class="tk" text-anchor="end">0.3</text>
<line x1="403.3" y1="47.60" x2="409" y2="47.60" stroke="#3a3a3a" stroke-width="1.15"/>
<text x="397.8" y="51.30" class="tk" text-anchor="end">0.4</text>
<line x1="406.2" y1="281.84" x2="409" y2="281.84" stroke="#3a3a3a" stroke-width="1.15"/>
<line x1="406.2" y1="214.91" x2="409" y2="214.91" stroke="#3a3a3a" stroke-width="1.15"/>
<line x1="406.2" y1="147.99" x2="409" y2="147.99" stroke="#3a3a3a" stroke-width="1.15"/>
<line x1="406.2" y1="81.06" x2="409" y2="81.06" stroke="#3a3a3a" stroke-width="1.15"/>
<line x1="409.00" y1="315.3" x2="409.00" y2="320.5" stroke="#3a3a3a" stroke-width="1.15"/>
<text x="409.00" y="334.9" class="tk" text-anchor="middle">0</text>
<line x1="498.33" y1="315.3" x2="498.33" y2="320.5" stroke="#3a3a3a" stroke-width="1.15"/>
<text x="498.33" y="334.9" class="tk" text-anchor="middle">50</text>
<line x1="587.67" y1="315.3" x2="587.67" y2="320.5" stroke="#3a3a3a" stroke-width="1.15"/>
<rect x="578.67" y="322.8" width="18" height="15" fill="#fff"/>
<text x="587.67" y="334.9" class="tk" text-anchor="middle">100</text>
<line x1="677.00" y1="315.3" x2="677.00" y2="320.5" stroke="#3a3a3a" stroke-width="1.15"/>
<text x="677.00" y="334.9" class="tk" text-anchor="middle">150</text>
<line x1="453.67" y1="315.3" x2="453.67" y2="318.1" stroke="#3a3a3a" stroke-width="1.15"/>
<line x1="543.00" y1="315.3" x2="543.00" y2="318.1" stroke="#3a3a3a" stroke-width="1.15"/>
<line x1="632.33" y1="315.3" x2="632.33" y2="318.1" stroke="#3a3a3a" stroke-width="1.15"/>
<text x="543.3" y="352.2" class="lb" style="font-size:11.85px" text-anchor="middle">Depth <tspan font-style="italic">x</tspan> / nm</text>
<text transform="translate(368,261.2) rotate(-90)" class="lb" style="font-size:12.6px" textLength="158.5" lengthAdjust="spacingAndGlyphs">Normalized isotopic fraction <tspan font-style="italic">C</tspan><tspan font-size="8" dy="-5">'</tspan></text>
<rect x="426.8" y="128.5" width="89.5" height="62" fill="#fff" stroke="#333" stroke-width="1"/>
<circle cx="438.40000000000003" cy="142.6" r="4.2" fill="#d7301f" stroke="#555" stroke-width="0.8"/>
<text x="449.1" y="146.7" class="lb"><tspan font-style="italic">t</tspan> = 200 min</text>
<circle cx="438.40000000000003" cy="159.8" r="4.2" fill="#f99d5e" stroke="#555" stroke-width="0.8"/>
<text x="449.1" y="163.9" class="lb"><tspan font-style="italic">t</tspan> = 100 min</text>
<circle cx="438.40000000000003" cy="177.0" r="4.2" fill="#f6f3c2" stroke="#555" stroke-width="0.8"/>
<text x="449.1" y="181.1" class="lb"><tspan font-style="italic">t</tspan> = 20 min</text>

<!-- header boxes -->
<rect x="122.5" y="18.8" width="125.9" height="44.4" fill="#effbf9" stroke="#555" stroke-width="1.2"/>
<text x="185.4" y="35.9" class="lb hd" text-anchor="middle">STNNi</text>
<text x="185.4" y="52.2" class="lb hd" text-anchor="middle">(Donor-type)</text>
<rect x="483.6" y="18.8" width="125" height="44.4" fill="#feedf8" stroke="#555" stroke-width="1.2"/>
<text x="546.1" y="35.9" class="lb hd" text-anchor="middle">STNi</text>
<text x="546.1" y="52.2" class="lb hd" text-anchor="middle">(Acceptor-type)</text>

<!-- region labels -->
<text x="190" y="153.1" class="lb" text-anchor="middle">STNNi</text>
<text x="190" y="168.7" class="lb" text-anchor="middle">thin film</text>
<text x="274" y="153.1" class="lb" text-anchor="middle">STO</text>
<text x="274" y="168.7" class="lb" text-anchor="middle">substrate</text>
<text x="550.3" y="153.1" class="lb" text-anchor="middle">STNi</text>
<text x="550.3" y="168.7" class="lb" text-anchor="middle">thin film</text>
<text x="645" y="153.1" class="lb" text-anchor="middle">STO</text>
<text x="645" y="168.7" class="lb" text-anchor="middle">substrate</text>

<!-- lower diagram A -->
<rect x="113.4" y="371.4" width="115.1" height="191.3" fill="#dcf5f6"/>
<rect x="228.5" y="371.4" width="44" height="191.3" fill="url(#gr)"/>
<polygon points="86.6,467.6 103.5,440.6 103.5,453.4 123.2,453.4 123.2,440.5 140.5,467.6 123.2,495 123.2,480.3 103.5,480.3 103.5,495" fill="#fffbe8"/>
<g fill="none" stroke="#6e5a14" stroke-width="1.5">
<polyline points="103.5,440.6 86.6,467.6 103.5,495"/>
<polyline points="123.2,440.5 140.5,467.6 123.2,495"/>
<line x1="103.5" y1="453.4" x2="123.2" y2="453.4"/>
<line x1="103.5" y1="480.3" x2="123.2" y2="480.3"/>
</g>
<rect x="113.4" y="371.4" width="174.3" height="191.3" fill="none" stroke="#777" stroke-width="1.1"/>
<line x1="228.5" y1="371.4" x2="228.5" y2="562.7" stroke="#888" stroke-width="1"/>
<text x="92.6" y="473.1" class="dg" style="font-size:16px">O<tspan font-size="9.8" dx="-0.7" dy="4.1">2</tspan></text>
<text x="115.3" y="473.1" class="dg" style="font-size:16px">O<tspan font-size="8.8" dx="-0.1" dy="-8.4">2-</tspan></text>
<text x="178.6" y="558.4" class="dg" style="font-size:16px" textLength="43.4" lengthAdjust="spacingAndGlyphs">STNNi</text>
<text x="234.6" y="558.4" class="dg" style="font-size:16px" textLength="28.4" lengthAdjust="spacingAndGlyphs">STO</text>

<!-- lower diagram B -->
<rect x="472.4" y="371.4" width="115.2" height="191.3" fill="#fbe6f7"/>
<rect x="587.6" y="371.4" width="44.5" height="191.3" fill="url(#gr)"/>
<g fill="#fff" stroke="#111" stroke-width="1.2">
<circle cx="478.7" cy="377.9" r="2.95"/>
<circle cx="509" cy="381.3" r="2.95"/>
<circle cx="529.5" cy="377.3" r="2.95"/>
<circle cx="562.7" cy="377.5" r="2.95"/>
<circle cx="581.7" cy="378.7" r="2.95"/>
<circle cx="492" cy="388.9" r="2.95"/>
<circle cx="549.5" cy="384.9" r="2.95"/>
<circle cx="529.5" cy="396.9" r="2.95"/>
<circle cx="477.9" cy="406.8" r="2.95"/>
<circle cx="495.7" cy="406.8" r="2.95"/>
<circle cx="512.4" cy="403" r="2.95"/>
<circle cx="545.7" cy="404.5" r="2.95"/>
<circle cx="565.2" cy="404.5" r="2.95"/>
<circle cx="581.7" cy="400.7" r="2.95"/>
<circle cx="535.6" cy="420" r="2.95"/>
<circle cx="484.9" cy="427.3" r="2.95"/>
<circle cx="509" cy="428" r="2.95"/>
<circle cx="578.3" cy="425.7" r="2.95"/>
<circle cx="552.3" cy="424.8" r="2.95"/>
<circle cx="496.3" cy="438" r="2.95"/>
<circle cx="526.1" cy="438" r="2.95"/>
<circle cx="576.6" cy="448.1" r="2.95"/>
<circle cx="489.7" cy="496.8" r="2.95"/>
<circle cx="510.5" cy="503" r="2.95"/>
<circle cx="533.9" cy="504.9" r="2.95"/>
<circle cx="579.8" cy="500.6" r="2.95"/>
<circle cx="482.5" cy="515" r="2.95"/>
<circle cx="550.4" cy="513.1" r="2.95"/>
<circle cx="499.5" cy="523" r="2.95"/>
<circle cx="529.1" cy="525.2" r="2.95"/>
<circle cx="569" cy="520.7" r="2.95"/>
<circle cx="486.3" cy="536.8" r="2.95"/>
<circle cx="513.8" cy="534.7" r="2.95"/>
<circle cx="538.4" cy="540" r="2.95"/>
<circle cx="555.7" cy="534.7" r="2.95"/>
<circle cx="579.8" cy="536.2" r="2.95"/>
<circle cx="476.8" cy="549.5" r="2.95"/>
<circle cx="492.5" cy="556.5" r="2.95"/>
<circle cx="512.1" cy="553.3" r="2.95"/>
<circle cx="533.9" cy="555.8" r="2.95"/>
</g>
<rect x="472.4" y="371.4" width="174.3" height="191.3" fill="none" stroke="#777" stroke-width="1.1"/>
<line x1="587.6" y1="371.4" x2="587.6" y2="562.7" stroke="#888" stroke-width="1"/>
<polygon points="433.5,467.5 468.6,412.5 468.6,439.4 551.8,439.4 551.8,412.5 586.9,467.5 551.8,522 551.8,495.8 468.6,495.8 468.6,522.5" fill="#fffbe8"/>
<g fill="none" stroke="#6e5a14" stroke-width="1.5">
<polyline points="468.6,412.5 433.5,467.5 468.6,522.5"/>
<polyline points="551.8,412.5 586.9,467.5 551.8,522"/>
<line x1="468.6" y1="439.4" x2="551.8" y2="439.4"/>
<line x1="468.6" y1="495.8" x2="551.8" y2="495.8"/>
</g>
<text x="444.7" y="473.2" class="dg" style="font-size:16px">O<tspan font-size="9.8" dx="-0.7" dy="4.1">2</tspan></text>
<text x="556.6" y="473.1" class="dg" style="font-size:16px">O<tspan font-size="8.8" dx="-0.1" dy="-8.7">2-</tspan></text>
<text x="548.6" y="558.4" class="dg" style="font-size:16px" textLength="32.8" lengthAdjust="spacingAndGlyphs">STNi</text>
<text x="593.9" y="558.4" class="dg" style="font-size:16px" textLength="28.6" lengthAdjust="spacingAndGlyphs">STO</text>
</svg>
</body></html>
